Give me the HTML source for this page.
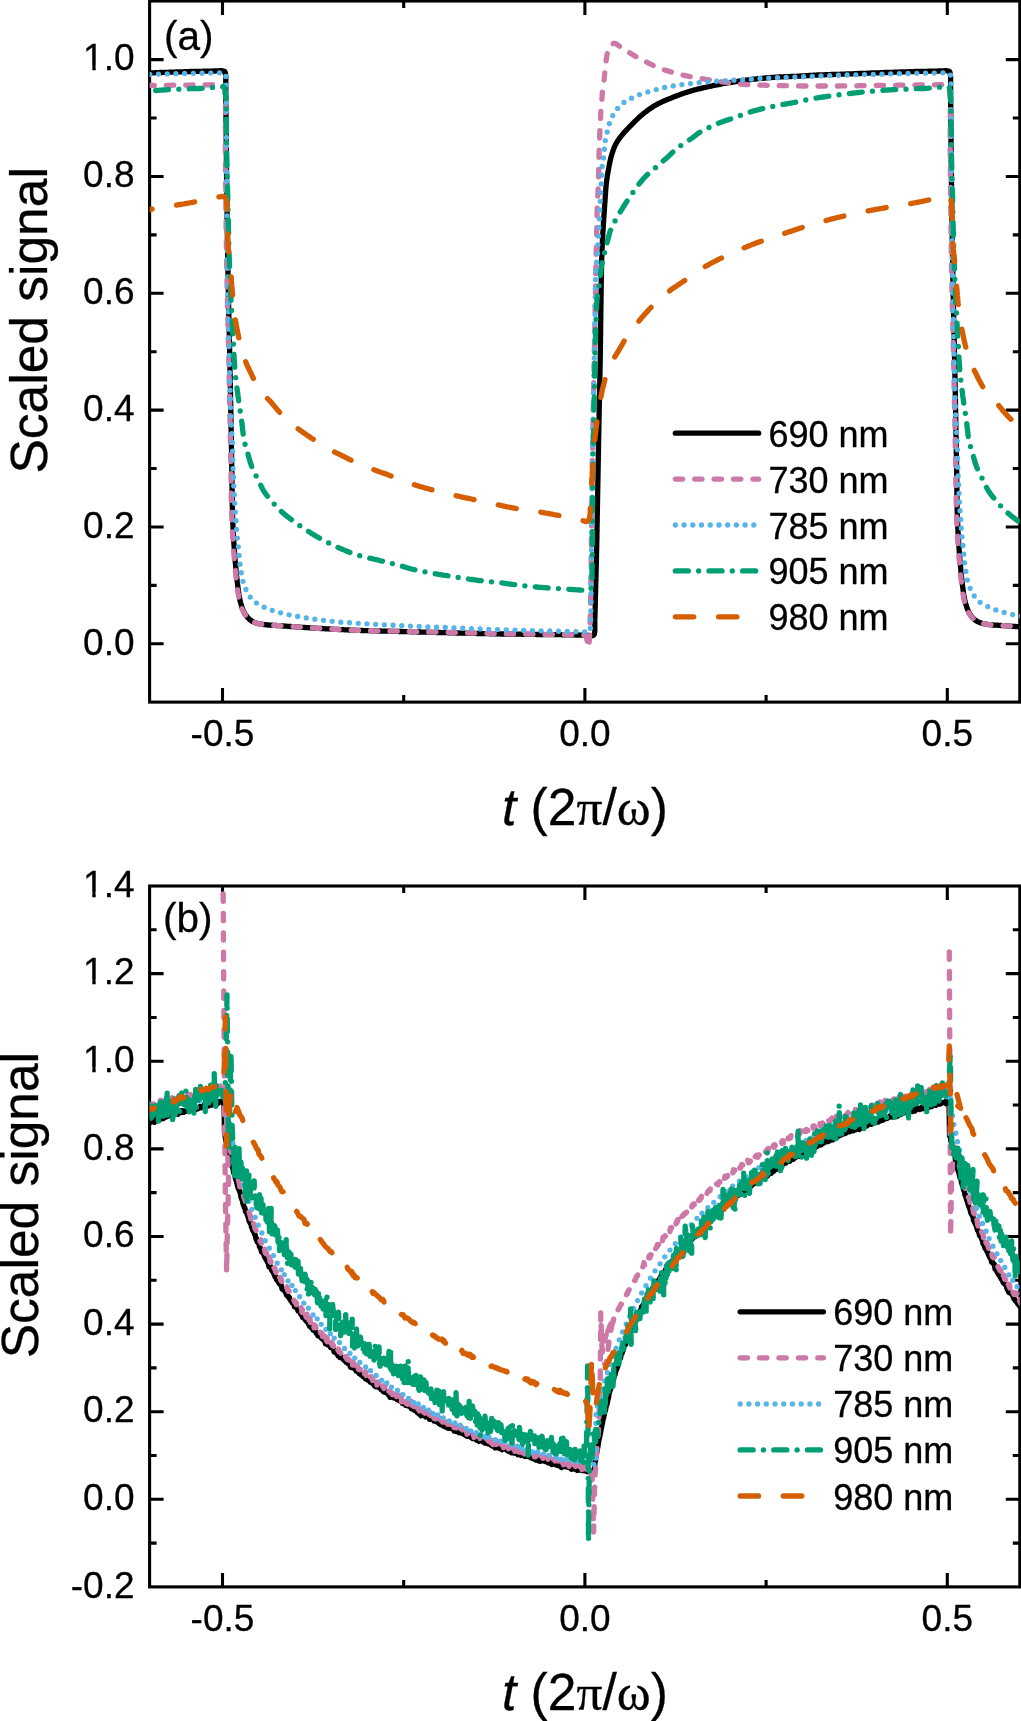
<!DOCTYPE html>
<html><head><meta charset="utf-8"><style>html,body{margin:0;padding:0;background:#fff;overflow:hidden}svg{display:block;will-change:transform}</style></head>
<body><svg width="1021" height="1721" viewBox="0 0 1021 1721">
<rect width="1021" height="1721" fill="#fff"/>
<rect x="149.6" y="1.0" width="870.20" height="701.10" fill="none" stroke="#000" stroke-width="3.1"/>
<path d="M149.6,643.80h14.0M1019.8,643.80h-14.0M149.6,526.96h14.0M1019.8,526.96h-14.0M149.6,410.12h14.0M1019.8,410.12h-14.0M149.6,293.28h14.0M1019.8,293.28h-14.0M149.6,176.44h14.0M1019.8,176.44h-14.0M149.6,59.60h14.0M1019.8,59.60h-14.0M149.6,585.38h7.0M1019.8,585.38h-7.0M149.6,468.54h7.0M1019.8,468.54h-7.0M149.6,351.70h7.0M1019.8,351.70h-7.0M149.6,234.86h7.0M1019.8,234.86h-7.0M149.6,118.02h7.0M1019.8,118.02h-7.0M222.50,702.1v-14.0M222.50,1.0v14.0M584.90,702.1v-14.0M584.90,1.0v14.0M947.30,702.1v-14.0M947.30,1.0v14.0M403.70,702.1v-7.0M403.70,1.0v7.0M766.10,702.1v-7.0M766.10,1.0v7.0" stroke="#000" stroke-width="3.1" fill="none"/>
<text x="134.5" y="654.60" text-anchor="end" font-family="'Liberation Sans', sans-serif" stroke="#000" stroke-width="0.3" font-size="37">0.0</text>
<text x="134.5" y="537.76" text-anchor="end" font-family="'Liberation Sans', sans-serif" stroke="#000" stroke-width="0.3" font-size="37">0.2</text>
<text x="134.5" y="420.92" text-anchor="end" font-family="'Liberation Sans', sans-serif" stroke="#000" stroke-width="0.3" font-size="37">0.4</text>
<text x="134.5" y="304.08" text-anchor="end" font-family="'Liberation Sans', sans-serif" stroke="#000" stroke-width="0.3" font-size="37">0.6</text>
<text x="134.5" y="187.24" text-anchor="end" font-family="'Liberation Sans', sans-serif" stroke="#000" stroke-width="0.3" font-size="37">0.8</text>
<text x="134.5" y="70.40" text-anchor="end" font-family="'Liberation Sans', sans-serif" stroke="#000" stroke-width="0.3" font-size="37">1.0</text>
<path d="M84.15,65.40H92.31V72.00H84.15Z M95.69,65.40H102.22V72.00H95.69Z" fill="#fff"/>
<text x="222.50" y="745.60" text-anchor="middle" font-family="'Liberation Sans', sans-serif" stroke="#000" stroke-width="0.3" font-size="37">-0.5</text>
<text x="584.90" y="745.60" text-anchor="middle" font-family="'Liberation Sans', sans-serif" stroke="#000" stroke-width="0.3" font-size="37">0.0</text>
<text x="947.30" y="745.60" text-anchor="middle" font-family="'Liberation Sans', sans-serif" stroke="#000" stroke-width="0.3" font-size="37">0.5</text>
<rect x="149.6" y="886.0" width="870.20" height="700.90" fill="none" stroke="#000" stroke-width="3.1"/>
<path d="M149.6,1499.30h14.0M1019.8,1499.30h-14.0M149.6,1411.69h14.0M1019.8,1411.69h-14.0M149.6,1324.08h14.0M1019.8,1324.08h-14.0M149.6,1236.46h14.0M1019.8,1236.46h-14.0M149.6,1148.85h14.0M1019.8,1148.85h-14.0M149.6,1061.24h14.0M1019.8,1061.24h-14.0M149.6,973.63h14.0M1019.8,973.63h-14.0M149.6,1543.11h7.0M1019.8,1543.11h-7.0M149.6,1455.49h7.0M1019.8,1455.49h-7.0M149.6,1367.88h7.0M1019.8,1367.88h-7.0M149.6,1280.27h7.0M1019.8,1280.27h-7.0M149.6,1192.66h7.0M1019.8,1192.66h-7.0M149.6,1105.05h7.0M1019.8,1105.05h-7.0M149.6,1017.43h7.0M1019.8,1017.43h-7.0M149.6,929.82h7.0M1019.8,929.82h-7.0M222.50,1586.9v-14.0M222.50,886.0v14.0M584.90,1586.9v-14.0M584.90,886.0v14.0M947.30,1586.9v-14.0M947.30,886.0v14.0M403.70,1586.9v-7.0M403.70,886.0v7.0M766.10,1586.9v-7.0M766.10,886.0v7.0" stroke="#000" stroke-width="3.1" fill="none"/>
<text x="134.5" y="1597.71" text-anchor="end" font-family="'Liberation Sans', sans-serif" stroke="#000" stroke-width="0.3" font-size="37">-0.2</text>
<text x="134.5" y="1510.10" text-anchor="end" font-family="'Liberation Sans', sans-serif" stroke="#000" stroke-width="0.3" font-size="37">0.0</text>
<text x="134.5" y="1422.49" text-anchor="end" font-family="'Liberation Sans', sans-serif" stroke="#000" stroke-width="0.3" font-size="37">0.2</text>
<text x="134.5" y="1334.88" text-anchor="end" font-family="'Liberation Sans', sans-serif" stroke="#000" stroke-width="0.3" font-size="37">0.4</text>
<text x="134.5" y="1247.26" text-anchor="end" font-family="'Liberation Sans', sans-serif" stroke="#000" stroke-width="0.3" font-size="37">0.6</text>
<text x="134.5" y="1159.65" text-anchor="end" font-family="'Liberation Sans', sans-serif" stroke="#000" stroke-width="0.3" font-size="37">0.8</text>
<text x="134.5" y="1072.04" text-anchor="end" font-family="'Liberation Sans', sans-serif" stroke="#000" stroke-width="0.3" font-size="37">1.0</text>
<path d="M84.15,1067.04H92.31V1073.64H84.15Z M95.69,1067.04H102.22V1073.64H95.69Z" fill="#fff"/>
<text x="134.5" y="984.43" text-anchor="end" font-family="'Liberation Sans', sans-serif" stroke="#000" stroke-width="0.3" font-size="37">1.2</text>
<path d="M84.15,979.43H92.31V986.03H84.15Z M95.69,979.43H102.22V986.03H95.69Z" fill="#fff"/>
<text x="134.5" y="896.82" text-anchor="end" font-family="'Liberation Sans', sans-serif" stroke="#000" stroke-width="0.3" font-size="37">1.4</text>
<path d="M84.15,891.82H92.31V898.42H84.15Z M95.69,891.82H102.22V898.42H95.69Z" fill="#fff"/>
<text x="222.50" y="1630.90" text-anchor="middle" font-family="'Liberation Sans', sans-serif" stroke="#000" stroke-width="0.3" font-size="37">-0.5</text>
<text x="584.90" y="1630.90" text-anchor="middle" font-family="'Liberation Sans', sans-serif" stroke="#000" stroke-width="0.3" font-size="37">0.0</text>
<text x="947.30" y="1630.90" text-anchor="middle" font-family="'Liberation Sans', sans-serif" stroke="#000" stroke-width="0.3" font-size="37">0.5</text>
<text x="163.9" y="49.6" font-family="'Liberation Sans', sans-serif" stroke="#000" stroke-width="0.3" font-size="40.5">(a)</text>
<text x="163.0" y="931.8" font-family="'Liberation Sans', sans-serif" stroke="#000" stroke-width="0.3" font-size="40.5">(b)</text>
<text transform="translate(47.3,473.5) rotate(-90)" font-family="'Liberation Sans', sans-serif" stroke="#000" stroke-width="0.3" font-size="51.5">Scaled signal</text>
<text transform="translate(38.0,1358.3) rotate(-90)" font-family="'Liberation Sans', sans-serif" stroke="#000" stroke-width="0.3" font-size="51.5">Scaled signal</text>
<text x="584.9" y="825.3" text-anchor="middle" font-family="'Liberation Sans', sans-serif" stroke="#000" stroke-width="0.3" font-size="51.5"><tspan font-style="italic">t</tspan> (2<tspan font-family="Liberation Serif, serif">π</tspan>/<tspan font-family="Liberation Serif, serif">ω</tspan>)</text>
<text x="584.9" y="1709.9" text-anchor="middle" font-family="'Liberation Sans', sans-serif" stroke="#000" stroke-width="0.3" font-size="51.5"><tspan font-style="italic">t</tspan> (2<tspan font-family="Liberation Serif, serif">π</tspan>/<tspan font-family="Liberation Serif, serif">ω</tspan>)</text>
<path d="M675.35,433.20H758.65" stroke="#000000" stroke-width="5.3" stroke-linecap="round" fill="none"/>
<text x="768.40" y="446.70" font-family="'Liberation Sans', sans-serif" stroke="#000" stroke-width="0.3" font-size="36">690 nm</text>
<path d="M675.35,479.10H758.65" stroke="#CC79A7" stroke-width="5.3" stroke-linecap="round" fill="none" stroke-dasharray="7.3 12.1"/>
<text x="768.40" y="492.60" font-family="'Liberation Sans', sans-serif" stroke="#000" stroke-width="0.3" font-size="36">730 nm</text>
<path d="M675.35,525.00H758.65" stroke="#56B4E9" stroke-width="5.3" stroke-linecap="round" fill="none" stroke-dasharray="0 8.72"/>
<text x="768.40" y="538.50" font-family="'Liberation Sans', sans-serif" stroke="#000" stroke-width="0.3" font-size="36">785 nm</text>
<path d="M675.35,570.90H758.65" stroke="#009E73" stroke-width="5.3" stroke-linecap="round" fill="none" stroke-dasharray="13 10.3 0 10.35"/>
<text x="768.40" y="584.40" font-family="'Liberation Sans', sans-serif" stroke="#000" stroke-width="0.3" font-size="36">905 nm</text>
<path d="M675.35,616.80H758.65" stroke="#D55E00" stroke-width="5.3" stroke-linecap="round" fill="none" stroke-dasharray="18.4 24.8"/>
<text x="768.40" y="630.30" font-family="'Liberation Sans', sans-serif" stroke="#000" stroke-width="0.3" font-size="36">980 nm</text>
<path d="M740.15,1311.80H823.45" stroke="#000000" stroke-width="5.3" stroke-linecap="round" fill="none"/>
<text x="833.20" y="1325.30" font-family="'Liberation Sans', sans-serif" stroke="#000" stroke-width="0.3" font-size="36">690 nm</text>
<path d="M740.15,1357.85H823.45" stroke="#CC79A7" stroke-width="5.3" stroke-linecap="round" fill="none" stroke-dasharray="7.3 12.1"/>
<text x="833.20" y="1371.35" font-family="'Liberation Sans', sans-serif" stroke="#000" stroke-width="0.3" font-size="36">730 nm</text>
<path d="M740.15,1403.90H823.45" stroke="#56B4E9" stroke-width="5.3" stroke-linecap="round" fill="none" stroke-dasharray="0 8.72"/>
<text x="833.20" y="1417.40" font-family="'Liberation Sans', sans-serif" stroke="#000" stroke-width="0.3" font-size="36">785 nm</text>
<path d="M740.15,1449.95H823.45" stroke="#009E73" stroke-width="5.3" stroke-linecap="round" fill="none" stroke-dasharray="13 10.3 0 10.35"/>
<text x="833.20" y="1463.45" font-family="'Liberation Sans', sans-serif" stroke="#000" stroke-width="0.3" font-size="36">905 nm</text>
<path d="M740.15,1496.00H823.45" stroke="#D55E00" stroke-width="5.3" stroke-linecap="round" fill="none" stroke-dasharray="18.4 24.8"/>
<text x="833.20" y="1509.50" font-family="'Liberation Sans', sans-serif" stroke="#000" stroke-width="0.3" font-size="36">980 nm</text>
<defs><clipPath id="ca"><rect x="149.6" y="1.0" width="870.2" height="701.1"/></clipPath><clipPath id="cb"><rect x="149.6" y="886.0" width="870.2" height="700.9"/></clipPath></defs>
<g clip-path="url(#ca)">
<path d="M88.8,75.2 90.3,75.1 91.7,75.1 93.2,75.0 94.6,75.0 96.1,74.9 97.5,74.9 99.0,74.8 100.4,74.8 101.9,74.7 103.3,74.7 104.8,74.6 106.2,74.6 107.7,74.5 109.1,74.5 110.6,74.4 112.0,74.4 113.5,74.3 114.9,74.3 116.4,74.2 117.8,74.2 119.3,74.1 120.7,74.1 122.2,74.0 123.7,73.9 125.1,73.9 126.6,73.8 128.0,73.8 129.5,73.7 130.9,73.7 132.4,73.6 133.8,73.5 135.3,73.5 136.7,73.4 138.2,73.4 139.6,73.3 141.1,73.3 142.5,73.2 144.0,73.1 145.4,73.1 146.9,73.0 148.3,73.0 149.8,72.9 151.2,72.9 152.7,72.8 154.1,72.8 155.6,72.7 157.1,72.6 158.6,72.6 160.1,72.5 161.6,72.5 163.2,72.4 164.8,72.4 166.3,72.3 167.9,72.3 169.5,72.2 171.1,72.2 172.7,72.1 174.2,72.1 175.7,72.0 177.2,72.0 178.7,71.9 180.2,71.9 181.6,71.8 182.9,71.8 184.3,71.7 185.5,71.7 186.8,71.7 187.9,71.6 189.0,71.6 190.8,71.5 192.7,71.5 194.5,71.4 196.2,71.4 197.7,71.4 198.9,71.3 199.7,71.3 200.0,71.3 200.0,71.3 200.0,71.3 200.3,71.3 201.0,71.3 202.1,71.3 203.5,71.2 205.1,71.2 206.8,71.2 208.7,71.1 210.5,71.1 212.2,71.1 213.7,71.0 215.0,71.0 216.5,70.9 217.9,70.9 219.2,70.8 220.4,70.7 221.5,70.7 222.5,70.8 223.8,71.0 224.8,71.6 225.2,72.4 225.4,73.6 225.6,75.0 225.7,75.9 225.8,76.9 225.8,78.0 225.8,79.2 225.8,80.5 225.8,81.9 225.8,83.4 225.8,84.9 225.8,86.5 225.8,88.2 225.8,90.0 225.8,91.0 225.8,92.0 225.8,93.1 225.8,94.2 225.9,95.4 225.9,96.6 225.9,97.8 225.9,99.0 225.9,100.3 225.9,101.7 225.9,103.0 225.9,104.4 225.9,105.8 225.9,107.2 226.0,108.6 226.0,110.1 226.0,111.6 226.0,113.1 226.0,114.6 226.0,116.2 226.0,117.7 226.0,119.3 226.0,120.9 226.1,122.5 226.1,124.1 226.1,125.7 226.1,127.3 226.1,129.0 226.1,130.6 226.1,132.2 226.2,133.9 226.2,135.5 226.2,137.1 226.2,138.8 226.2,140.4 226.2,142.0 226.2,143.6 226.3,145.2 226.3,146.8 226.3,148.4 226.3,150.0 226.3,151.4 226.3,152.8 226.3,154.2 226.4,155.6 226.4,157.0 226.4,158.4 226.4,159.9 226.4,161.3 226.4,162.8 226.5,164.3 226.5,165.7 226.5,167.2 226.5,168.7 226.5,170.2 226.5,171.7 226.6,173.2 226.6,174.7 226.6,176.2 226.6,177.8 226.6,179.3 226.6,180.8 226.7,182.3 226.7,183.9 226.7,185.4 226.7,186.9 226.7,188.5 226.8,190.0 226.8,191.5 226.8,193.1 226.8,194.6 226.8,196.1 226.9,197.7 226.9,199.2 226.9,200.7 226.9,202.2 226.9,203.8 227.0,205.3 227.0,206.8 227.0,208.3 227.0,209.8 227.0,211.3 227.1,212.8 227.1,214.3 227.1,215.7 227.1,217.2 227.1,218.7 227.2,220.1 227.2,221.6 227.2,223.0 227.2,224.4 227.2,225.8 227.3,227.2 227.3,228.6 227.3,230.0 227.3,231.6 227.3,233.1 227.4,234.7 227.4,236.2 227.4,237.7 227.4,239.3 227.5,240.8 227.5,242.3 227.5,243.8 227.5,245.3 227.6,246.8 227.6,248.3 227.6,249.8 227.6,251.2 227.6,252.7 227.7,254.2 227.7,255.6 227.7,257.1 227.7,258.5 227.8,260.0 227.8,261.4 227.8,262.9 227.8,264.3 227.9,265.7 227.9,267.2 227.9,268.6 227.9,270.0 228.0,271.5 228.0,272.9 228.0,274.3 228.0,275.7 228.1,277.2 228.1,278.6 228.1,280.0 228.1,281.4 228.2,282.9 228.2,284.3 228.2,285.7 228.2,287.1 228.3,288.6 228.3,290.0 228.3,291.5 228.4,293.0 228.4,294.5 228.4,296.0 228.5,297.6 228.5,299.1 228.5,300.6 228.5,302.1 228.6,303.5 228.6,305.0 228.6,306.5 228.7,308.0 228.7,309.5 228.7,311.0 228.8,312.5 228.8,314.0 228.8,315.4 228.9,316.9 228.9,318.4 228.9,319.9 229.0,321.3 229.0,322.8 229.0,324.3 229.1,325.8 229.1,327.2 229.1,328.7 229.2,330.2 229.2,331.7 229.2,333.2 229.3,334.6 229.3,336.1 229.3,337.6 229.4,339.1 229.4,340.5 229.4,342.0 229.5,343.5 229.5,345.0 229.5,346.5 229.6,348.0 229.6,349.5 229.6,351.0 229.7,352.5 229.7,354.0 229.7,355.5 229.7,357.1 229.8,358.6 229.8,360.1 229.8,361.6 229.9,363.1 229.9,364.7 229.9,366.2 230.0,367.7 230.0,369.2 230.0,370.8 230.1,372.3 230.1,373.8 230.1,375.3 230.2,376.8 230.2,378.3 230.2,379.8 230.2,381.3 230.3,382.8 230.3,384.3 230.3,385.8 230.4,387.2 230.4,388.7 230.4,390.1 230.4,391.6 230.5,393.0 230.5,394.4 230.5,395.8 230.5,397.2 230.6,398.6 230.6,400.0 230.6,401.6 230.7,403.2 230.7,404.7 230.7,406.3 230.7,407.8 230.8,409.4 230.8,410.9 230.8,412.4 230.9,413.9 230.9,415.4 230.9,416.9 230.9,418.4 231.0,419.8 231.0,421.3 231.0,422.8 231.0,424.2 231.1,425.7 231.1,427.1 231.1,428.5 231.1,430.0 231.2,431.4 231.2,432.8 231.2,434.3 231.2,435.7 231.3,437.1 231.3,438.6 231.3,440.0 231.3,441.5 231.4,443.0 231.4,444.5 231.4,446.0 231.4,447.4 231.5,448.9 231.5,450.4 231.5,451.8 231.5,453.3 231.6,454.7 231.6,456.2 231.6,457.6 231.6,459.0 231.7,460.5 231.7,461.9 231.7,463.4 231.7,464.8 231.8,466.2 231.8,467.7 231.8,469.1 231.8,470.6 231.9,472.0 231.9,473.4 231.9,474.9 231.9,476.4 231.9,477.8 232.0,479.3 232.0,480.7 232.0,482.2 232.0,483.7 232.0,485.1 232.0,486.6 232.1,488.1 232.1,489.6 232.1,491.0 232.1,492.5 232.1,494.0 232.1,495.4 232.2,496.9 232.2,498.3 232.2,499.8 232.2,501.2 232.2,502.7 232.3,504.1 232.3,505.5 232.3,506.9 232.4,508.3 232.4,509.7 232.4,511.2 232.5,512.7 232.5,514.2 232.6,515.7 232.6,517.2 232.7,518.7 232.7,520.2 232.8,521.7 232.9,523.2 232.9,524.6 233.0,526.1 233.0,527.5 233.1,529.0 233.2,530.4 233.2,531.8 233.3,533.2 233.4,534.6 233.4,536.0 233.5,537.4 233.6,538.8 233.7,540.3 233.8,541.8 233.9,543.3 234.0,544.8 234.1,546.2 234.2,547.7 234.3,549.1 234.4,550.6 234.5,552.0 234.6,553.4 234.7,554.8 234.8,556.3 234.9,557.7 235.1,559.1 235.2,560.6 235.3,562.0 235.4,563.5 235.6,564.9 235.7,566.4 235.8,567.9 236.0,569.4 236.1,570.9 236.2,572.4 236.4,573.9 236.5,575.3 236.7,576.8 236.9,578.3 237.0,579.7 237.2,581.1 237.3,582.6 237.5,583.9 237.7,585.3 237.9,586.9 238.1,588.4 238.3,589.9 238.5,591.4 238.7,592.9 238.9,594.4 239.2,595.9 239.4,597.3 239.7,598.7 239.9,600.1 240.3,601.4 240.6,602.7 241.0,604.1 241.4,605.5 241.9,606.9 242.3,608.3 242.8,609.6 243.3,610.8 243.9,612.0 244.5,613.2 245.2,614.3 246.0,615.5 246.9,616.6 247.9,617.7 248.9,618.8 249.9,619.7 251.1,620.5 252.2,621.3 253.4,621.9 254.6,622.5 255.9,622.9 257.3,623.3 258.6,623.6 260.0,623.9 261.5,624.2 262.7,624.4 264.0,624.6 265.4,624.7 266.7,624.9 268.1,625.0 269.5,625.1 270.9,625.1 272.3,625.2 273.6,625.3 275.0,625.4 276.4,625.5 277.8,625.6 279.2,625.7 280.5,625.8 281.9,625.9 283.4,626.0 284.8,626.1 286.4,626.2 288.1,626.3 289.3,626.4 290.5,626.5 291.8,626.6 293.2,626.7 294.5,626.8 295.9,626.9 297.4,627.0 298.8,627.1 300.3,627.2 301.8,627.3 303.3,627.4 304.9,627.5 306.4,627.6 308.0,627.7 309.6,627.8 311.2,627.9 312.7,628.0 314.3,628.1 315.9,628.2 317.5,628.3 318.9,628.4 320.2,628.5 321.6,628.5 323.0,628.6 324.4,628.7 325.8,628.8 327.3,628.9 328.7,628.9 330.1,629.0 331.6,629.1 333.1,629.2 334.5,629.3 336.0,629.3 337.5,629.4 339.0,629.5 340.5,629.6 341.9,629.6 343.4,629.7 344.9,629.8 346.4,629.9 347.9,629.9 349.4,630.0 350.8,630.1 352.3,630.1 353.8,630.2 355.2,630.2 356.7,630.3 358.1,630.4 359.6,630.4 361.0,630.5 362.4,630.5 363.9,630.6 365.3,630.6 366.7,630.6 368.1,630.7 369.5,630.7 370.9,630.8 372.4,630.8 373.8,630.8 375.2,630.9 376.6,630.9 378.0,631.0 379.5,631.0 380.9,631.0 382.4,631.1 383.8,631.1 385.3,631.1 386.8,631.2 388.3,631.2 389.8,631.2 391.3,631.3 392.8,631.3 394.3,631.4 395.9,631.4 397.3,631.4 398.6,631.5 400.0,631.5 401.4,631.5 402.8,631.6 404.2,631.6 405.6,631.7 407.1,631.7 408.5,631.7 410.0,631.8 411.5,631.8 412.9,631.9 414.4,631.9 415.9,631.9 417.4,632.0 418.9,632.0 420.4,632.0 421.9,632.1 423.4,632.1 424.9,632.2 426.4,632.2 427.9,632.2 429.4,632.3 430.9,632.3 432.4,632.4 433.9,632.4 435.4,632.4 436.9,632.5 438.4,632.5 439.9,632.5 441.3,632.6 442.8,632.6 444.3,632.7 445.7,632.7 447.1,632.7 448.6,632.8 450.0,632.8 451.5,632.8 453.1,632.9 454.6,632.9 456.1,633.0 457.6,633.0 459.2,633.0 460.7,633.1 462.2,633.1 463.7,633.1 465.2,633.2 466.7,633.2 468.2,633.2 469.7,633.3 471.2,633.3 472.7,633.4 474.2,633.4 475.7,633.4 477.2,633.5 478.7,633.5 480.2,633.5 481.6,633.6 483.1,633.6 484.6,633.6 486.0,633.7 487.5,633.7 489.0,633.7 490.4,633.8 491.9,633.8 493.4,633.8 494.8,633.8 496.3,633.9 497.7,633.9 499.2,633.9 500.7,634.0 502.2,634.0 503.7,634.0 505.1,634.0 506.6,634.1 508.1,634.1 509.5,634.1 511.0,634.1 512.4,634.1 513.9,634.2 515.3,634.2 516.8,634.2 518.2,634.2 519.7,634.2 521.1,634.2 522.6,634.3 524.0,634.3 525.5,634.3 526.9,634.3 528.3,634.3 529.8,634.4 531.2,634.4 532.7,634.4 534.1,634.4 535.6,634.4 537.1,634.5 538.5,634.5 540.0,634.5 541.5,634.5 543.0,634.5 544.5,634.6 546.1,634.6 547.7,634.6 549.3,634.6 550.9,634.6 552.6,634.7 554.3,634.7 555.9,634.7 557.6,634.7 559.2,634.7 560.9,634.7 562.5,634.8 564.2,634.8 565.8,634.8 567.4,634.8 568.9,634.8 570.4,634.9 571.9,634.9 573.4,634.9 574.8,634.9 576.1,635.0 577.4,635.0 578.7,635.0 579.9,635.1 581.0,635.1 582.0,635.1 583.0,635.2 583.9,635.2 585.6,635.3 587.1,635.5 588.4,635.7 589.5,635.8 590.6,635.9 591.5,635.8 592.9,635.6 594.0,634.8 594.4,634.1 594.6,633.0 594.8,631.8 594.8,630.4 594.9,628.8 594.8,627.1 594.8,625.4 594.8,623.6 594.8,621.8 594.8,620.0 594.8,618.8 594.9,617.6 594.9,616.3 595.0,615.0 595.0,613.7 595.1,612.3 595.1,610.9 595.1,609.5 595.2,608.1 595.2,606.7 595.2,605.2 595.3,603.7 595.3,602.2 595.3,600.7 595.4,599.2 595.4,597.7 595.4,596.1 595.5,594.6 595.5,593.1 595.6,591.5 595.6,590.0 595.6,588.6 595.7,587.2 595.7,585.9 595.7,584.5 595.8,583.1 595.8,581.7 595.9,580.3 595.9,578.9 595.9,577.5 596.0,576.1 596.0,574.7 596.0,573.2 596.1,571.8 596.1,570.3 596.2,568.9 596.2,567.4 596.2,565.9 596.3,564.4 596.3,562.8 596.3,561.3 596.4,559.7 596.4,558.2 596.5,556.6 596.5,555.0 596.5,553.3 596.6,551.7 596.6,550.0 596.6,548.7 596.7,547.4 596.7,546.1 596.7,544.7 596.7,543.4 596.8,542.0 596.8,540.6 596.8,539.2 596.9,537.7 596.9,536.3 596.9,534.8 596.9,533.4 597.0,531.9 597.0,530.4 597.0,528.9 597.0,527.4 597.1,525.9 597.1,524.4 597.1,522.8 597.2,521.3 597.2,519.8 597.2,518.2 597.2,516.7 597.3,515.1 597.3,513.5 597.3,512.0 597.4,510.4 597.4,508.9 597.4,507.3 597.4,505.7 597.5,504.2 597.5,502.6 597.5,501.1 597.5,499.5 597.6,498.0 597.6,496.4 597.6,494.9 597.7,493.4 597.7,491.8 597.7,490.3 597.7,488.8 597.8,487.3 597.8,485.8 597.8,484.4 597.8,482.9 597.9,481.4 597.9,480.0 597.9,478.5 598.0,477.0 598.0,475.5 598.0,474.0 598.0,472.5 598.1,471.0 598.1,469.5 598.1,468.0 598.1,466.5 598.2,465.0 598.2,463.6 598.2,462.1 598.3,460.6 598.3,459.2 598.3,457.7 598.3,456.3 598.4,454.8 598.4,453.3 598.4,451.9 598.4,450.4 598.5,449.0 598.5,447.5 598.5,446.1 598.5,444.6 598.6,443.2 598.6,441.8 598.6,440.3 598.6,438.9 598.7,437.4 598.7,436.0 598.7,434.5 598.8,433.1 598.8,431.6 598.8,430.2 598.8,428.7 598.9,427.3 598.9,425.8 598.9,424.4 598.9,422.9 599.0,421.5 599.0,420.0 599.0,418.5 599.1,417.1 599.1,415.6 599.1,414.1 599.1,412.7 599.2,411.2 599.2,409.8 599.2,408.3 599.3,406.8 599.3,405.4 599.3,403.9 599.4,402.4 599.4,401.0 599.4,399.5 599.4,398.0 599.5,396.6 599.5,395.1 599.5,393.7 599.6,392.2 599.6,390.7 599.6,389.3 599.7,387.8 599.7,386.3 599.7,384.9 599.8,383.4 599.8,382.0 599.8,380.5 599.8,379.0 599.9,377.6 599.9,376.1 599.9,374.6 600.0,373.2 600.0,371.7 600.0,370.2 600.0,368.8 600.1,367.3 600.1,365.9 600.1,364.4 600.2,362.9 600.2,361.5 600.2,360.0 600.2,358.5 600.2,357.1 600.3,355.6 600.3,354.1 600.3,352.6 600.3,351.1 600.4,349.6 600.4,348.1 600.4,346.6 600.4,345.1 600.4,343.6 600.5,342.1 600.5,340.6 600.5,339.0 600.5,337.5 600.5,336.0 600.6,334.5 600.6,333.0 600.6,331.5 600.6,330.0 600.6,328.5 600.6,327.0 600.7,325.5 600.7,324.0 600.7,322.5 600.7,321.1 600.7,319.6 600.8,318.1 600.8,316.7 600.8,315.2 600.8,313.8 600.8,312.4 600.8,310.9 600.9,309.5 600.9,308.1 600.9,306.7 600.9,305.4 600.9,304.0 601.0,302.7 601.0,301.3 601.0,300.0 601.0,298.4 601.0,296.8 601.1,295.2 601.1,293.6 601.1,292.0 601.1,290.5 601.2,288.9 601.2,287.4 601.2,285.8 601.2,284.3 601.2,282.8 601.3,281.3 601.3,279.9 601.3,278.4 601.3,276.9 601.4,275.5 601.4,274.0 601.4,272.6 601.4,271.2 601.5,269.8 601.5,268.3 601.5,266.9 601.5,265.5 601.6,264.1 601.6,262.8 601.7,261.4 601.7,260.0 601.7,258.4 601.8,256.8 601.9,255.3 601.9,253.7 602.0,252.2 602.0,250.7 602.1,249.2 602.1,247.7 602.2,246.2 602.3,244.8 602.3,243.3 602.4,241.8 602.5,240.4 602.5,238.9 602.6,237.5 602.7,236.0 602.8,234.6 602.8,233.1 602.9,231.7 603.0,230.2 603.1,228.7 603.2,227.2 603.3,225.7 603.4,224.2 603.5,222.6 603.6,221.1 603.7,219.6 603.8,218.1 603.9,216.6 604.0,215.1 604.1,213.6 604.2,212.1 604.3,210.7 604.4,209.2 604.5,207.8 604.6,206.4 604.7,205.0 604.8,203.6 604.9,202.3 605.0,200.7 605.1,199.2 605.2,197.7 605.3,196.2 605.4,194.7 605.5,193.3 605.6,191.9 605.7,190.4 605.8,189.1 605.9,187.7 606.0,186.3 606.2,185.0 606.3,183.7 606.5,182.1 606.7,180.6 606.9,179.1 607.1,177.7 607.3,176.3 607.5,174.8 607.8,173.4 608.0,172.0 608.3,170.5 608.5,169.1 608.8,167.7 609.0,166.3 609.3,164.9 609.6,163.5 609.9,162.1 610.2,160.6 610.5,159.2 610.8,157.9 611.2,156.5 611.6,155.2 612.0,153.8 612.4,152.5 612.9,151.2 613.3,149.9 613.8,148.6 614.3,147.3 614.8,146.1 615.4,144.9 616.0,143.7 616.7,142.4 617.5,141.2 618.2,140.0 619.1,138.9 619.9,137.8 620.8,136.6 621.7,135.5 622.6,134.4 623.5,133.3 624.4,132.2 625.4,131.2 626.4,130.1 627.4,129.0 628.4,128.0 629.4,126.9 630.5,125.8 631.5,124.8 632.5,123.7 633.6,122.7 634.6,121.7 635.6,120.6 636.7,119.6 637.8,118.6 638.9,117.5 640.0,116.5 641.2,115.5 642.3,114.6 643.3,113.7 644.4,112.9 645.6,112.0 646.7,111.1 647.9,110.2 649.1,109.3 650.3,108.5 651.5,107.7 652.8,106.8 654.0,106.1 655.3,105.3 656.6,104.6 657.8,103.9 659.2,103.2 660.5,102.6 661.9,101.9 663.2,101.3 664.6,100.7 666.0,100.1 667.4,99.5 668.8,99.0 670.1,98.4 671.5,97.9 672.9,97.3 674.2,96.8 675.6,96.2 676.9,95.7 678.3,95.2 679.6,94.7 681.0,94.2 682.3,93.7 683.7,93.3 685.1,92.8 686.4,92.4 687.8,91.9 689.1,91.5 690.5,91.1 691.9,90.7 693.2,90.3 694.6,89.9 695.9,89.6 697.3,89.2 698.6,88.9 700.0,88.6 701.4,88.3 702.7,87.9 704.1,87.6 705.5,87.3 706.8,87.0 708.2,86.7 709.7,86.4 711.1,86.1 712.6,85.7 714.1,85.4 715.5,85.1 717.0,84.8 718.5,84.6 719.9,84.3 721.4,84.0 722.9,83.7 724.3,83.5 725.8,83.2 727.3,83.0 728.7,82.7 730.2,82.5 731.7,82.3 733.1,82.0 734.6,81.8 736.1,81.6 737.5,81.4 739.0,81.2 740.5,81.0 741.9,80.8 743.4,80.6 744.9,80.4 746.3,80.2 747.8,80.0 749.3,79.8 750.7,79.6 752.2,79.4 753.7,79.2 755.1,79.1 756.6,78.9 758.1,78.7 759.5,78.6 761.0,78.4 762.5,78.3 763.9,78.1 765.4,78.0 766.9,77.9 768.3,77.7 769.8,77.6 771.3,77.5 772.7,77.4 774.2,77.3 775.7,77.2 777.2,77.1 778.7,77.0 780.2,76.9 781.7,76.8 783.2,76.8 784.7,76.7 786.2,76.7 787.7,76.6 789.2,76.6 790.8,76.5 792.3,76.4 793.8,76.4 795.2,76.3 796.7,76.3 798.1,76.2 799.6,76.1 800.9,76.0 802.3,75.9 803.6,75.8 804.9,75.8 806.3,75.7 807.6,75.6 809.0,75.5 810.4,75.4 812.0,75.3 813.6,75.2 814.8,75.1 816.0,75.1 817.3,75.0 818.7,75.0 820.0,74.9 821.4,74.9 822.8,74.8 824.3,74.8 825.8,74.7 827.2,74.7 828.7,74.6 830.3,74.6 831.8,74.5 833.3,74.5 834.9,74.4 836.4,74.4 838.0,74.3 839.5,74.3 841.0,74.2 842.5,74.2 844.1,74.1 845.5,74.1 847.0,74.0 848.5,73.9 849.9,73.9 851.4,73.8 852.8,73.8 854.3,73.7 855.7,73.7 857.2,73.6 858.6,73.5 860.1,73.5 861.5,73.4 863.0,73.4 864.4,73.3 865.9,73.3 867.3,73.2 868.8,73.1 870.2,73.1 871.7,73.0 873.1,73.0 874.6,72.9 876.0,72.9 877.5,72.8 878.9,72.8 880.4,72.7 881.9,72.6 883.4,72.6 884.9,72.5 886.4,72.5 888.0,72.4 889.6,72.4 891.1,72.3 892.7,72.3 894.3,72.2 895.9,72.2 897.5,72.1 899.0,72.1 900.5,72.0 902.0,72.0 903.5,71.9 905.0,71.9 906.4,71.8 907.7,71.8 909.1,71.7 910.3,71.7 911.6,71.7 912.7,71.6 913.8,71.6 915.6,71.5 917.5,71.5 919.3,71.4 921.0,71.4 922.5,71.4 923.7,71.3 924.5,71.3 924.8,71.3 924.8,71.3 924.8,71.3 925.1,71.3 925.8,71.3 926.9,71.3 928.3,71.2 929.9,71.2 931.6,71.2 933.5,71.1 935.3,71.1 937.0,71.1 938.5,71.0 939.8,71.0 941.3,70.9 942.7,70.9 944.0,70.8 945.2,70.7 946.3,70.7 947.3,70.8 948.6,71.0 949.6,71.6 950.0,72.4 950.2,73.6 950.4,75.0 950.5,75.9 950.6,76.9 950.6,78.0 950.6,79.2 950.6,80.5 950.6,81.9 950.6,83.4 950.6,84.9 950.6,86.5 950.6,88.2 950.6,90.0 950.6,91.0 950.6,92.0 950.6,93.1 950.6,94.2 950.7,95.4 950.7,96.6 950.7,97.8 950.7,99.0 950.7,100.3 950.7,101.7 950.7,103.0 950.7,104.4 950.7,105.8 950.7,107.2 950.8,108.6 950.8,110.1 950.8,111.6 950.8,113.1 950.8,114.6 950.8,116.2 950.8,117.7 950.8,119.3 950.8,120.9 950.9,122.5 950.9,124.1 950.9,125.7 950.9,127.3 950.9,129.0 950.9,130.6 950.9,132.2 951.0,133.9 951.0,135.5 951.0,137.1 951.0,138.8 951.0,140.4 951.0,142.0 951.0,143.6 951.1,145.2 951.1,146.8 951.1,148.4 951.1,150.0 951.1,151.4 951.1,152.8 951.1,154.2 951.2,155.6 951.2,157.0 951.2,158.4 951.2,159.9 951.2,161.3 951.2,162.8 951.3,164.3 951.3,165.7 951.3,167.2 951.3,168.7 951.3,170.2 951.3,171.7 951.4,173.2 951.4,174.7 951.4,176.2 951.4,177.8 951.4,179.3 951.4,180.8 951.5,182.3 951.5,183.9 951.5,185.4 951.5,186.9 951.5,188.5 951.6,190.0 951.6,191.5 951.6,193.1 951.6,194.6 951.6,196.1 951.7,197.7 951.7,199.2 951.7,200.7 951.7,202.2 951.7,203.8 951.8,205.3 951.8,206.8 951.8,208.3 951.8,209.8 951.8,211.3 951.9,212.8 951.9,214.3 951.9,215.7 951.9,217.2 951.9,218.7 952.0,220.1 952.0,221.6 952.0,223.0 952.0,224.4 952.0,225.8 952.1,227.2 952.1,228.6 952.1,230.0 952.1,231.6 952.1,233.1 952.2,234.7 952.2,236.2 952.2,237.7 952.2,239.3 952.3,240.8 952.3,242.3 952.3,243.8 952.3,245.3 952.4,246.8 952.4,248.3 952.4,249.8 952.4,251.2 952.4,252.7 952.5,254.2 952.5,255.6 952.5,257.1 952.5,258.5 952.6,260.0 952.6,261.4 952.6,262.9 952.6,264.3 952.7,265.7 952.7,267.2 952.7,268.6 952.7,270.0 952.8,271.5 952.8,272.9 952.8,274.3 952.8,275.7 952.9,277.2 952.9,278.6 952.9,280.0 952.9,281.4 953.0,282.9 953.0,284.3 953.0,285.7 953.0,287.1 953.1,288.6 953.1,290.0 953.1,291.5 953.2,293.0 953.2,294.5 953.2,296.0 953.3,297.6 953.3,299.1 953.3,300.6 953.3,302.1 953.4,303.5 953.4,305.0 953.4,306.5 953.5,308.0 953.5,309.5 953.5,311.0 953.6,312.5 953.6,314.0 953.6,315.4 953.7,316.9 953.7,318.4 953.7,319.9 953.8,321.3 953.8,322.8 953.8,324.3 953.9,325.8 953.9,327.2 953.9,328.7 954.0,330.2 954.0,331.7 954.0,333.2 954.1,334.6 954.1,336.1 954.1,337.6 954.2,339.1 954.2,340.5 954.2,342.0 954.3,343.5 954.3,345.0 954.3,346.5 954.4,348.0 954.4,349.5 954.4,351.0 954.5,352.5 954.5,354.0 954.5,355.5 954.5,357.1 954.6,358.6 954.6,360.1 954.6,361.6 954.7,363.1 954.7,364.7 954.7,366.2 954.8,367.7 954.8,369.2 954.8,370.8 954.9,372.3 954.9,373.8 954.9,375.3 955.0,376.8 955.0,378.3 955.0,379.8 955.0,381.3 955.1,382.8 955.1,384.3 955.1,385.8 955.2,387.2 955.2,388.7 955.2,390.1 955.2,391.6 955.3,393.0 955.3,394.4 955.3,395.8 955.3,397.2 955.4,398.6 955.4,400.0 955.4,401.6 955.5,403.2 955.5,404.7 955.5,406.3 955.5,407.8 955.6,409.4 955.6,410.9 955.6,412.4 955.7,413.9 955.7,415.4 955.7,416.9 955.7,418.4 955.8,419.8 955.8,421.3 955.8,422.8 955.8,424.2 955.9,425.7 955.9,427.1 955.9,428.5 955.9,430.0 956.0,431.4 956.0,432.8 956.0,434.3 956.0,435.7 956.1,437.1 956.1,438.6 956.1,440.0 956.1,441.5 956.2,443.0 956.2,444.5 956.2,446.0 956.2,447.4 956.3,448.9 956.3,450.4 956.3,451.8 956.3,453.3 956.4,454.7 956.4,456.2 956.4,457.6 956.4,459.0 956.5,460.5 956.5,461.9 956.5,463.4 956.5,464.8 956.6,466.2 956.6,467.7 956.6,469.1 956.6,470.6 956.7,472.0 956.7,473.4 956.7,474.9 956.7,476.4 956.7,477.8 956.8,479.3 956.8,480.7 956.8,482.2 956.8,483.7 956.8,485.1 956.8,486.6 956.9,488.1 956.9,489.6 956.9,491.0 956.9,492.5 956.9,494.0 956.9,495.4 957.0,496.9 957.0,498.3 957.0,499.8 957.0,501.2 957.0,502.7 957.1,504.1 957.1,505.5 957.1,506.9 957.2,508.3 957.2,509.7 957.2,511.2 957.3,512.7 957.3,514.2 957.4,515.7 957.4,517.2 957.5,518.7 957.5,520.2 957.6,521.7 957.7,523.2 957.7,524.6 957.8,526.1 957.8,527.5 957.9,529.0 958.0,530.4 958.0,531.8 958.1,533.2 958.2,534.6 958.2,536.0 958.3,537.4 958.4,538.8 958.5,540.3 958.6,541.8 958.7,543.3 958.8,544.8 958.9,546.2 959.0,547.7 959.1,549.1 959.2,550.6 959.3,552.0 959.4,553.4 959.5,554.8 959.6,556.3 959.7,557.7 959.9,559.1 960.0,560.6 960.1,562.0 960.2,563.5 960.4,564.9 960.5,566.4 960.6,567.9 960.8,569.4 960.9,570.9 961.0,572.4 961.2,573.9 961.3,575.3 961.5,576.8 961.7,578.3 961.8,579.7 962.0,581.1 962.1,582.6 962.3,583.9 962.5,585.3 962.7,586.9 962.9,588.4 963.1,589.9 963.3,591.4 963.5,592.9 963.7,594.4 964.0,595.9 964.2,597.3 964.5,598.7 964.7,600.1 965.1,601.4 965.4,602.7 965.8,604.1 966.2,605.5 966.7,606.9 967.1,608.3 967.6,609.6 968.1,610.8 968.7,612.0 969.3,613.2 970.0,614.3 970.8,615.5 971.7,616.6 972.7,617.7 973.7,618.8 974.7,619.7 975.9,620.5 977.0,621.3 978.2,621.9 979.4,622.5 980.7,622.9 982.1,623.3 983.4,623.6 984.8,623.9 986.3,624.2 987.5,624.4 988.8,624.6 990.2,624.7 991.5,624.9 992.9,625.0 994.3,625.1 995.7,625.1 997.1,625.2 998.4,625.3 999.8,625.4 1001.2,625.5 1002.6,625.6 1004.0,625.7 1005.3,625.8 1006.7,625.9 1008.2,626.0 1009.6,626.1 1011.2,626.2 1012.9,626.3 1014.1,626.4 1015.3,626.5 1016.6,626.6 1018.0,626.7 1019.3,626.8 1020.7,626.9 1022.2,627.0 1023.6,627.1 1025.1,627.2 1026.6,627.3 1028.1,627.4 1029.7,627.5 1031.2,627.6 1032.8,627.7 1034.4,627.8 1036.0,627.9 1037.5,628.0 1039.1,628.1 1040.7,628.2 1042.3,628.3 1043.7,628.4 1045.0,628.5 1046.4,628.5 1047.8,628.6 1049.2,628.7 1050.6,628.8 1052.1,628.8 1053.5,628.9 1054.9,629.0 1056.4,629.1 1057.9,629.1 1059.3,629.2 1060.8,629.3 1062.3,629.4 1063.8,629.4 1065.3,629.5 1066.7,629.6 1068.2,629.6 1069.7,629.7 1071.2,629.8 1072.7,629.9 1074.2,629.9 1075.6,630.0 1077.1,630.1 1078.6,630.2 1080.0,630.2 1081.5,630.3" stroke="#000000" stroke-width="5.3" stroke-linecap="round" stroke-linejoin="round" fill="none"/>
<path d="M88.8,86.0 90.3,86.0 91.7,86.0 93.2,86.0 94.6,86.0 96.1,86.0 97.5,86.0 99.0,86.0 100.4,86.0 101.9,86.0 103.3,86.0 104.8,86.0 106.2,86.0 107.7,86.0 109.1,86.0 110.6,86.0 112.0,86.0 113.5,86.0 114.9,85.9 116.4,85.9 117.8,85.9 119.3,85.9 120.7,85.9 122.2,85.9 123.7,85.9 125.1,85.9 126.6,85.9 128.0,85.8 129.5,85.8 130.9,85.8 132.4,85.8 133.8,85.7 135.3,85.7 136.7,85.7 138.2,85.7 139.6,85.6 141.1,85.6 142.5,85.6 144.0,85.6 145.4,85.6 146.9,85.5 148.3,85.5 149.8,85.5 151.2,85.5 152.7,85.4 154.1,85.4 155.6,85.4 157.1,85.4 158.6,85.4 160.1,85.4 161.6,85.3 163.2,85.3 164.8,85.3 166.3,85.3 167.9,85.3 169.5,85.3 171.1,85.3 172.7,85.2 174.2,85.2 175.7,85.2 177.2,85.2 178.7,85.2 180.2,85.2 181.6,85.2 182.9,85.2 184.3,85.2 185.5,85.1 186.8,85.1 187.9,85.1 189.0,85.1 190.8,85.1 192.7,85.0 194.5,85.0 196.2,85.0 197.7,84.9 198.9,84.9 199.7,84.9 200.0,84.9 200.0,84.9 200.0,84.9 200.3,84.9 201.0,84.9 202.1,84.9 203.5,84.9 205.1,84.8 206.9,84.8 208.7,84.8 210.5,84.8 212.2,84.7 213.8,84.7 215.0,84.7 216.5,84.6 218.0,84.5 219.3,84.4 220.5,84.4 221.5,84.5 222.7,84.8 223.6,85.5 224.1,86.2 224.4,87.2 224.6,88.4 224.8,90.0 224.9,90.7 225.0,91.4 225.0,92.2 225.1,93.1 225.1,94.0 225.2,95.0 225.2,96.1 225.3,97.2 225.3,98.4 225.3,99.7 225.4,100.9 225.4,102.3 225.4,103.7 225.4,105.1 225.4,106.5 225.5,108.0 225.5,109.6 225.5,111.1 225.5,112.7 225.5,114.4 225.5,116.0 225.5,117.7 225.4,119.4 225.4,121.1 225.4,122.8 225.4,124.5 225.4,126.2 225.4,128.0 225.4,129.7 225.4,131.5 225.4,133.2 225.4,135.0 225.4,136.7 225.4,138.4 225.4,140.1 225.4,141.8 225.4,143.5 225.4,145.2 225.4,146.8 225.4,148.4 225.4,150.0 225.4,151.4 225.4,152.8 225.4,154.2 225.5,155.6 225.5,157.0 225.5,158.4 225.5,159.9 225.5,161.3 225.5,162.8 225.5,164.3 225.5,165.7 225.6,167.2 225.6,168.7 225.6,170.2 225.6,171.7 225.6,173.2 225.6,174.7 225.6,176.2 225.7,177.8 225.7,179.3 225.7,180.8 225.7,182.3 225.7,183.9 225.7,185.4 225.7,186.9 225.8,188.5 225.8,190.0 225.8,191.5 225.8,193.1 225.8,194.6 225.8,196.1 225.8,197.7 225.9,199.2 225.9,200.7 225.9,202.2 225.9,203.8 225.9,205.3 225.9,206.8 225.9,208.3 226.0,209.8 226.0,211.3 226.0,212.8 226.0,214.3 226.0,215.7 226.0,217.2 226.1,218.7 226.1,220.1 226.1,221.6 226.1,223.0 226.1,224.4 226.1,225.8 226.2,227.2 226.2,228.6 226.2,230.0 226.2,231.6 226.2,233.1 226.3,234.7 226.3,236.2 226.3,237.7 226.3,239.3 226.3,240.8 226.4,242.3 226.4,243.8 226.4,245.3 226.4,246.8 226.5,248.3 226.5,249.8 226.5,251.2 226.5,252.7 226.6,254.2 226.6,255.6 226.6,257.1 226.6,258.5 226.6,260.0 226.7,261.4 226.7,262.9 226.7,264.3 226.7,265.7 226.8,267.2 226.8,268.6 226.8,270.0 226.8,271.5 226.9,272.9 226.9,274.3 226.9,275.7 227.0,277.2 227.0,278.6 227.0,280.0 227.0,281.4 227.1,282.9 227.1,284.3 227.1,285.7 227.1,287.1 227.2,288.6 227.2,290.0 227.2,291.5 227.3,293.0 227.3,294.5 227.3,296.0 227.4,297.6 227.4,299.1 227.4,300.6 227.5,302.1 227.5,303.5 227.5,305.0 227.6,306.5 227.6,308.0 227.6,309.5 227.7,311.0 227.7,312.5 227.7,314.0 227.8,315.4 227.8,316.9 227.9,318.4 227.9,319.9 227.9,321.3 228.0,322.8 228.0,324.3 228.0,325.8 228.1,327.2 228.1,328.7 228.2,330.2 228.2,331.7 228.2,333.2 228.3,334.6 228.3,336.1 228.3,337.6 228.4,339.1 228.4,340.5 228.4,342.0 228.5,343.5 228.5,345.0 228.5,346.5 228.6,348.0 228.6,349.5 228.6,351.0 228.7,352.5 228.7,354.0 228.7,355.5 228.8,357.1 228.8,358.6 228.8,360.1 228.8,361.6 228.9,363.1 228.9,364.7 228.9,366.2 229.0,367.7 229.0,369.2 229.0,370.8 229.1,372.3 229.1,373.8 229.1,375.3 229.1,376.8 229.2,378.3 229.2,379.8 229.2,381.3 229.3,382.8 229.3,384.3 229.3,385.8 229.3,387.2 229.4,388.7 229.4,390.1 229.4,391.6 229.5,393.0 229.5,394.4 229.5,395.8 229.5,397.2 229.6,398.6 229.6,400.0 229.6,401.6 229.7,403.2 229.7,404.7 229.7,406.3 229.8,407.8 229.8,409.4 229.8,410.9 229.9,412.4 229.9,413.9 229.9,415.4 229.9,416.9 230.0,418.4 230.0,419.8 230.0,421.3 230.1,422.8 230.1,424.2 230.1,425.7 230.2,427.1 230.2,428.5 230.2,430.0 230.2,431.4 230.3,432.8 230.3,434.3 230.3,435.7 230.3,437.1 230.4,438.6 230.4,440.0 230.4,441.5 230.5,443.0 230.5,444.5 230.5,446.0 230.5,447.4 230.6,448.9 230.6,450.4 230.6,451.8 230.6,453.3 230.7,454.7 230.7,456.2 230.7,457.6 230.7,459.0 230.8,460.5 230.8,461.9 230.8,463.4 230.8,464.8 230.9,466.2 230.9,467.7 230.9,469.1 230.9,470.6 231.0,472.0 231.0,473.4 231.0,474.9 231.0,476.4 231.0,477.8 231.1,479.3 231.1,480.7 231.1,482.2 231.1,483.7 231.2,485.1 231.2,486.6 231.2,488.1 231.2,489.6 231.2,491.0 231.3,492.5 231.3,494.0 231.3,495.4 231.3,496.9 231.3,498.3 231.4,499.8 231.4,501.2 231.4,502.7 231.5,504.1 231.5,505.5 231.5,506.9 231.6,508.3 231.6,509.7 231.6,511.2 231.7,512.7 231.7,514.2 231.8,515.7 231.8,517.2 231.9,518.7 231.9,520.2 232.0,521.7 232.0,523.2 232.1,524.6 232.2,526.1 232.2,527.5 232.3,529.0 232.4,530.4 232.4,531.8 232.5,533.2 232.6,534.6 232.6,536.0 232.7,537.4 232.8,538.8 232.9,540.3 233.0,541.8 233.1,543.3 233.2,544.8 233.3,546.2 233.4,547.7 233.5,549.1 233.6,550.6 233.7,552.0 233.9,553.4 234.0,554.8 234.1,556.3 234.2,557.7 234.3,559.1 234.5,560.6 234.6,562.0 234.7,563.5 234.9,564.9 235.0,566.4 235.1,567.9 235.3,569.4 235.4,570.9 235.5,572.4 235.7,573.9 235.8,575.3 236.0,576.8 236.1,578.3 236.3,579.7 236.5,581.1 236.6,582.6 236.8,583.9 237.0,585.3 237.2,586.9 237.4,588.4 237.6,589.9 237.8,591.4 238.0,592.9 238.3,594.4 238.5,595.9 238.8,597.3 239.0,598.7 239.3,600.1 239.6,601.4 240.0,602.7 240.4,604.1 240.9,605.5 241.3,606.9 241.8,608.3 242.3,609.6 242.9,610.8 243.5,612.0 244.1,613.2 244.8,614.3 245.7,615.5 246.6,616.7 247.6,617.7 248.6,618.8 249.7,619.7 250.8,620.5 252.0,621.3 253.2,621.9 254.5,622.5 255.8,622.9 257.2,623.3 258.6,623.6 260.0,623.9 261.5,624.2 262.7,624.4 264.0,624.6 265.4,624.7 266.7,624.9 268.1,625.0 269.5,625.1 270.9,625.1 272.3,625.2 273.6,625.3 275.0,625.4 276.4,625.5 277.8,625.6 279.2,625.7 280.5,625.8 281.9,625.9 283.4,626.0 284.8,626.1 286.4,626.2 288.1,626.3 289.3,626.4 290.5,626.5 291.8,626.6 293.2,626.7 294.5,626.8 295.9,626.9 297.4,627.0 298.8,627.1 300.3,627.2 301.8,627.3 303.3,627.4 304.9,627.5 306.4,627.6 308.0,627.7 309.6,627.8 311.2,627.9 312.7,628.0 314.3,628.1 315.9,628.2 317.5,628.3 318.9,628.4 320.2,628.5 321.6,628.5 323.0,628.6 324.4,628.7 325.8,628.8 327.3,628.9 328.7,629.0 330.1,629.0 331.6,629.1 333.1,629.2 334.5,629.3 336.0,629.4 337.5,629.4 339.0,629.5 340.5,629.6 341.9,629.7 343.4,629.7 344.9,629.8 346.4,629.9 347.9,629.9 349.4,630.0 350.8,630.1 352.3,630.1 353.8,630.2 355.2,630.2 356.7,630.3 358.1,630.4 359.6,630.4 361.0,630.4 362.4,630.5 363.9,630.5 365.3,630.6 366.7,630.6 368.1,630.6 369.5,630.7 370.9,630.7 372.4,630.7 373.8,630.8 375.2,630.8 376.6,630.8 378.0,630.8 379.5,630.9 380.9,630.9 382.4,630.9 383.8,631.0 385.3,631.0 386.8,631.0 388.3,631.0 389.8,631.1 391.3,631.1 392.8,631.1 394.3,631.2 395.9,631.2 397.3,631.2 398.6,631.3 400.0,631.3 401.4,631.3 402.8,631.4 404.2,631.4 405.6,631.4 407.1,631.5 408.5,631.5 410.0,631.5 411.5,631.6 412.9,631.6 414.4,631.6 415.9,631.7 417.4,631.7 418.9,631.7 420.4,631.8 421.9,631.8 423.4,631.9 424.9,631.9 426.4,631.9 427.9,632.0 429.4,632.0 430.9,632.0 432.4,632.1 433.9,632.1 435.4,632.1 436.9,632.2 438.4,632.2 439.9,632.3 441.3,632.3 442.8,632.3 444.3,632.4 445.7,632.4 447.1,632.4 448.6,632.5 450.0,632.5 451.5,632.5 453.1,632.6 454.6,632.6 456.1,632.7 457.6,632.7 459.2,632.7 460.7,632.8 462.2,632.8 463.7,632.9 465.2,632.9 466.7,632.9 468.2,633.0 469.7,633.0 471.2,633.1 472.7,633.1 474.2,633.1 475.7,633.2 477.2,633.2 478.7,633.3 480.2,633.3 481.6,633.3 483.1,633.4 484.6,633.4 486.0,633.4 487.5,633.5 489.0,633.5 490.4,633.5 491.9,633.6 493.4,633.6 494.8,633.6 496.3,633.7 497.7,633.7 499.2,633.7 500.7,633.8 502.2,633.8 503.7,633.8 505.2,633.8 506.6,633.9 508.1,633.9 509.6,633.9 511.1,633.9 512.5,633.9 514.0,634.0 515.4,634.0 516.9,634.0 518.4,634.0 519.8,634.0 521.3,634.1 522.7,634.1 524.2,634.1 525.6,634.1 527.0,634.1 528.5,634.1 529.9,634.2 531.4,634.2 532.8,634.2 534.2,634.2 535.7,634.2 537.1,634.3 538.6,634.3 540.0,634.3 541.5,634.3 543.1,634.3 544.7,634.4 546.3,634.4 548.0,634.4 549.7,634.4 551.4,634.4 553.1,634.4 554.8,634.4 556.5,634.4 558.2,634.4 559.9,634.4 561.5,634.5 563.2,634.5 564.8,634.5 566.4,634.5 567.9,634.5 569.4,634.5 570.9,634.6 572.3,634.6 573.6,634.6 574.9,634.7 576.1,634.7 577.2,634.8 578.2,634.9 579.2,634.9 580.0,635.0 581.8,635.1 583.3,635.1 584.5,635.3 585.5,636.0 586.2,637.0 586.7,638.6 587.1,640.5 587.4,642.5 587.6,644.4 587.8,646.0 588.1,647.1 588.3,647.5 588.5,647.2 588.7,646.3 588.9,645.1 589.1,643.5 589.2,641.7 589.4,639.7 589.5,637.8 589.6,636.0 589.7,634.8 589.8,633.6 589.8,632.4 589.9,631.1 589.9,629.8 590.0,628.4 590.0,627.0 590.1,625.6 590.1,624.2 590.1,622.7 590.2,621.2 590.2,619.7 590.2,618.1 590.3,616.5 590.3,614.9 590.3,613.3 590.4,611.7 590.4,610.0 590.4,608.8 590.5,607.5 590.5,606.2 590.5,604.9 590.5,603.6 590.6,602.3 590.6,601.0 590.6,599.6 590.6,598.2 590.7,596.8 590.7,595.4 590.7,594.0 590.7,592.6 590.8,591.1 590.8,589.7 590.8,588.2 590.8,586.7 590.8,585.3 590.9,583.7 590.9,582.2 590.9,580.7 590.9,579.2 591.0,577.6 591.0,576.1 591.0,574.5 591.0,572.9 591.0,571.3 591.1,569.7 591.1,568.1 591.1,566.5 591.1,564.9 591.2,563.3 591.2,561.6 591.2,560.0 591.2,558.7 591.2,557.4 591.3,556.0 591.3,554.7 591.3,553.3 591.3,551.9 591.3,550.5 591.3,549.2 591.4,547.7 591.4,546.3 591.4,544.9 591.4,543.5 591.4,542.0 591.4,540.6 591.4,539.1 591.5,537.7 591.5,536.2 591.5,534.7 591.5,533.2 591.5,531.7 591.5,530.2 591.6,528.7 591.6,527.2 591.6,525.7 591.6,524.2 591.6,522.7 591.6,521.2 591.6,519.6 591.7,518.1 591.7,516.6 591.7,515.0 591.7,513.5 591.7,512.0 591.7,510.4 591.8,508.9 591.8,507.4 591.8,505.8 591.8,504.3 591.8,502.7 591.8,501.2 591.9,499.7 591.9,498.1 591.9,496.6 591.9,495.1 591.9,493.5 591.9,492.0 592.0,490.5 592.0,489.0 592.0,487.5 592.0,486.0 592.0,484.5 592.1,483.0 592.1,481.5 592.1,480.0 592.1,478.5 592.1,477.0 592.2,475.6 592.2,474.1 592.2,472.6 592.2,471.1 592.3,469.6 592.3,468.1 592.3,466.7 592.3,465.2 592.4,463.7 592.4,462.2 592.4,460.7 592.4,459.3 592.4,457.8 592.5,456.3 592.5,454.8 592.5,453.3 592.6,451.9 592.6,450.4 592.6,448.9 592.6,447.4 592.7,445.9 592.7,444.4 592.7,443.0 592.7,441.5 592.8,440.0 592.8,438.5 592.8,437.0 592.8,435.6 592.9,434.1 592.9,432.6 592.9,431.1 593.0,429.6 593.0,428.1 593.0,426.7 593.0,425.2 593.1,423.7 593.1,422.2 593.1,420.7 593.1,419.3 593.2,417.8 593.2,416.3 593.2,414.8 593.3,413.3 593.3,411.9 593.3,410.4 593.3,408.9 593.4,407.4 593.4,405.9 593.4,404.4 593.4,403.0 593.5,401.5 593.5,400.0 593.5,398.5 593.6,397.0 593.6,395.5 593.6,394.0 593.6,392.5 593.7,391.0 593.7,389.5 593.7,388.0 593.7,386.5 593.8,385.0 593.8,383.5 593.8,382.0 593.9,380.5 593.9,379.0 593.9,377.5 593.9,375.9 594.0,374.4 594.0,372.9 594.0,371.4 594.1,369.9 594.1,368.4 594.1,366.8 594.2,365.3 594.2,363.8 594.2,362.3 594.2,360.8 594.3,359.3 594.3,357.8 594.3,356.3 594.4,354.8 594.4,353.3 594.4,351.8 594.4,350.3 594.5,348.8 594.5,347.3 594.5,345.8 594.6,344.3 594.6,342.9 594.6,341.4 594.6,339.9 594.7,338.5 594.7,337.0 594.7,335.6 594.7,334.1 594.8,332.7 594.8,331.2 594.8,329.8 594.8,328.4 594.9,327.0 594.9,325.6 594.9,324.2 595.0,322.8 595.0,321.4 595.0,320.0 595.0,318.4 595.1,316.8 595.1,315.3 595.1,313.7 595.1,312.0 595.2,310.4 595.2,308.8 595.2,307.2 595.2,305.6 595.3,304.0 595.3,302.4 595.3,300.7 595.3,299.1 595.4,297.5 595.4,295.9 595.4,294.3 595.4,292.7 595.5,291.2 595.5,289.6 595.5,288.0 595.5,286.5 595.6,284.9 595.6,283.4 595.6,281.9 595.6,280.4 595.7,279.0 595.7,277.5 595.7,276.1 595.7,274.7 595.7,273.3 595.8,272.0 595.8,270.6 595.8,269.3 595.8,268.1 595.9,266.8 595.9,265.6 595.9,264.4 595.9,263.3 596.0,262.1 596.0,261.1 596.0,260.0 596.0,258.2 596.1,256.5 596.1,255.0 596.2,253.6 596.2,252.2 596.2,250.9 596.3,249.6 596.3,248.3 596.4,246.9 596.4,245.5 596.5,243.9 596.5,242.2 596.5,241.0 596.6,239.7 596.6,238.4 596.6,237.0 596.6,235.6 596.7,234.1 596.7,232.6 596.7,231.1 596.8,229.5 596.8,227.9 596.8,226.3 596.9,224.7 596.9,223.1 596.9,221.5 596.9,219.9 597.0,218.3 597.0,216.7 597.0,215.1 597.1,213.5 597.1,212.0 597.2,210.5 597.2,209.0 597.2,207.6 597.3,206.2 597.3,204.8 597.4,203.5 597.4,202.3 597.5,200.6 597.5,199.1 597.6,197.5 597.7,196.1 597.8,194.7 597.9,193.3 598.0,191.9 598.0,190.6 598.1,189.2 598.2,187.9 598.3,186.5 598.3,185.1 598.4,183.7 598.4,182.3 598.5,180.9 598.5,179.5 598.6,178.1 598.6,176.7 598.6,175.3 598.6,173.9 598.7,172.5 598.7,171.1 598.7,169.7 598.7,168.3 598.7,166.9 598.8,165.5 598.8,164.1 598.8,162.7 598.9,161.3 598.9,159.9 598.9,158.5 599.0,157.1 599.0,155.7 599.0,154.3 599.1,153.0 599.1,151.6 599.1,150.2 599.2,148.8 599.2,147.4 599.3,146.0 599.3,144.6 599.4,143.2 599.4,141.8 599.5,140.4 599.5,139.0 599.6,137.6 599.7,136.2 599.7,134.8 599.8,133.4 599.9,132.0 599.9,130.6 600.0,129.3 600.1,127.9 600.1,126.5 600.2,125.1 600.3,123.6 600.3,122.1 600.4,120.5 600.5,119.0 600.6,117.4 600.6,115.8 600.7,114.3 600.8,112.8 600.9,111.4 601.0,110.0 601.0,108.7 601.1,107.5 601.2,106.4 601.3,104.7 601.5,103.4 601.6,102.1 601.8,100.5 601.9,99.3 602.0,98.1 602.1,96.7 602.2,95.2 602.3,93.7 602.4,92.2 602.5,90.8 602.7,89.4 602.8,88.1 602.9,87.0 603.1,85.6 603.3,84.4 603.6,83.1 603.8,81.7 603.9,80.6 604.1,79.3 604.2,77.9 604.4,76.5 604.5,75.0 604.7,73.5 604.8,72.0 605.0,70.5 605.1,69.0 605.3,67.6 605.5,66.1 605.6,64.6 605.8,63.1 606.0,61.6 606.2,60.1 606.4,58.6 606.6,57.3 606.8,55.9 607.0,54.7 607.3,53.2 607.6,51.8 607.9,50.5 608.3,49.3 608.8,48.2 609.4,47.1 610.0,46.2 610.7,45.3 611.5,44.6 612.5,43.9 613.7,43.4 614.8,43.3 615.9,43.7 617.1,44.5 618.2,45.3 619.4,46.1 620.5,47.0 621.8,47.9 622.9,48.6 624.1,49.4 625.4,50.2 626.7,51.0 628.0,51.8 629.2,52.5 630.3,53.2 631.5,54.0 632.8,54.7 634.1,55.5 635.4,56.3 636.7,57.0 637.9,57.7 639.2,58.3 640.5,59.0 641.8,59.7 643.1,60.3 644.4,61.0 645.7,61.6 647.0,62.3 648.2,62.9 649.5,63.6 650.8,64.2 652.0,64.9 653.2,65.5 654.4,66.1 655.7,66.7 657.0,67.3 658.3,67.8 659.6,68.3 660.9,68.8 662.2,69.2 663.6,69.6 664.9,70.1 666.3,70.5 667.6,70.9 668.9,71.3 670.3,71.7 671.6,72.1 672.9,72.5 674.3,72.8 675.6,73.2 676.9,73.6 678.2,73.9 679.6,74.3 681.0,74.6 682.4,75.0 683.8,75.3 685.1,75.6 686.5,75.9 687.9,76.2 689.3,76.5 690.7,76.7 692.0,77.0 693.4,77.2 694.8,77.4 696.2,77.7 697.6,77.9 698.9,78.1 700.2,78.4 701.5,78.6 702.9,78.8 704.2,79.0 705.5,79.3 706.9,79.5 708.2,79.7 709.5,79.9 710.8,80.1 712.1,80.4 713.4,80.6 714.8,80.8 716.1,81.0 717.4,81.2 718.7,81.4 720.0,81.6 721.3,81.8 722.7,81.9 724.0,82.1 725.3,82.2 726.6,82.4 728.0,82.5 729.3,82.7 730.6,82.9 731.9,83.1 733.2,83.2 734.4,83.4 735.7,83.6 737.1,83.8 738.4,84.0 739.9,84.1 741.2,84.2 742.6,84.3 744.0,84.4 745.4,84.5 746.9,84.6 748.4,84.6 749.9,84.7 751.5,84.8 753.0,84.8 754.5,84.9 756.0,84.9 757.5,85.0 759.0,85.1 760.4,85.1 761.9,85.2 763.3,85.2 764.7,85.2 766.2,85.3 767.7,85.3 769.1,85.4 770.6,85.4 772.1,85.4 773.6,85.5 775.1,85.5 776.5,85.5 777.8,85.6 779.2,85.6 780.7,85.6 782.1,85.7 783.5,85.7 785.0,85.7 786.4,85.7 787.9,85.8 789.3,85.8 790.7,85.8 792.2,85.8 793.6,85.9 794.9,85.9 796.3,85.9 797.8,85.9 799.2,85.9 800.6,85.9 802.0,86.0 803.3,86.0 804.7,86.0 806.1,86.0 807.5,86.0 808.9,86.0 810.4,86.0 812.0,86.0 813.6,86.0 814.8,86.0 816.1,86.0 817.4,86.0 818.8,86.0 820.1,86.0 821.5,86.0 823.0,86.0 824.4,86.0 825.9,86.0 827.4,86.0 828.9,86.0 830.4,86.0 831.9,86.0 833.4,86.0 835.0,86.0 836.5,86.0 838.0,86.0 839.5,86.0 841.1,85.9 842.6,85.9 844.1,85.9 845.5,85.9 847.0,85.9 848.5,85.9 849.9,85.9 851.4,85.9 852.8,85.8 854.3,85.8 855.7,85.8 857.2,85.8 858.6,85.7 860.1,85.7 861.5,85.7 863.0,85.7 864.4,85.6 865.9,85.6 867.3,85.6 868.8,85.6 870.2,85.6 871.7,85.5 873.1,85.5 874.6,85.5 876.0,85.5 877.5,85.4 878.9,85.4 880.4,85.4 881.9,85.4 883.4,85.4 884.9,85.4 886.4,85.3 888.0,85.3 889.6,85.3 891.1,85.3 892.7,85.3 894.3,85.3 895.9,85.3 897.5,85.2 899.0,85.2 900.5,85.2 902.0,85.2 903.5,85.2 905.0,85.2 906.4,85.2 907.7,85.2 909.1,85.2 910.3,85.1 911.6,85.1 912.7,85.1 913.8,85.1 915.6,85.1 917.5,85.0 919.3,85.0 921.0,85.0 922.5,84.9 923.7,84.9 924.5,84.9 924.8,84.9 924.8,84.9 924.8,84.9 925.1,84.9 925.8,84.9 926.9,84.9 928.3,84.9 929.9,84.8 931.7,84.8 933.5,84.8 935.3,84.8 937.0,84.7 938.6,84.7 939.8,84.7 941.3,84.6 942.8,84.5 944.1,84.4 945.3,84.4 946.3,84.5 947.5,84.8 948.4,85.5 948.9,86.2 949.2,87.2 949.4,88.4 949.6,90.0 949.7,90.7 949.8,91.4 949.8,92.2 949.9,93.1 949.9,94.0 950.0,95.0 950.0,96.1 950.1,97.2 950.1,98.4 950.1,99.7 950.2,100.9 950.2,102.3 950.2,103.7 950.2,105.1 950.2,106.5 950.3,108.0 950.3,109.6 950.3,111.1 950.3,112.7 950.3,114.4 950.3,116.0 950.3,117.7 950.2,119.4 950.2,121.1 950.2,122.8 950.2,124.5 950.2,126.2 950.2,128.0 950.2,129.7 950.2,131.5 950.2,133.2 950.2,135.0 950.2,136.7 950.2,138.4 950.2,140.1 950.2,141.8 950.2,143.5 950.2,145.2 950.2,146.8 950.2,148.4 950.2,150.0 950.2,151.4 950.2,152.8 950.2,154.2 950.3,155.6 950.3,157.0 950.3,158.4 950.3,159.9 950.3,161.3 950.3,162.8 950.3,164.3 950.3,165.7 950.4,167.2 950.4,168.7 950.4,170.2 950.4,171.7 950.4,173.2 950.4,174.7 950.4,176.2 950.5,177.8 950.5,179.3 950.5,180.8 950.5,182.3 950.5,183.9 950.5,185.4 950.5,186.9 950.6,188.5 950.6,190.0 950.6,191.5 950.6,193.1 950.6,194.6 950.6,196.1 950.6,197.7 950.7,199.2 950.7,200.7 950.7,202.2 950.7,203.8 950.7,205.3 950.7,206.8 950.7,208.3 950.8,209.8 950.8,211.3 950.8,212.8 950.8,214.3 950.8,215.7 950.8,217.2 950.9,218.7 950.9,220.1 950.9,221.6 950.9,223.0 950.9,224.4 950.9,225.8 951.0,227.2 951.0,228.6 951.0,230.0 951.0,231.6 951.0,233.1 951.1,234.7 951.1,236.2 951.1,237.7 951.1,239.3 951.1,240.8 951.2,242.3 951.2,243.8 951.2,245.3 951.2,246.8 951.3,248.3 951.3,249.8 951.3,251.2 951.3,252.7 951.4,254.2 951.4,255.6 951.4,257.1 951.4,258.5 951.4,260.0 951.5,261.4 951.5,262.9 951.5,264.3 951.5,265.7 951.6,267.2 951.6,268.6 951.6,270.0 951.6,271.5 951.7,272.9 951.7,274.3 951.7,275.7 951.8,277.2 951.8,278.6 951.8,280.0 951.8,281.4 951.9,282.9 951.9,284.3 951.9,285.7 951.9,287.1 952.0,288.6 952.0,290.0 952.0,291.5 952.1,293.0 952.1,294.5 952.1,296.0 952.2,297.6 952.2,299.1 952.2,300.6 952.3,302.1 952.3,303.5 952.3,305.0 952.4,306.5 952.4,308.0 952.4,309.5 952.5,311.0 952.5,312.5 952.5,314.0 952.6,315.4 952.6,316.9 952.7,318.4 952.7,319.9 952.7,321.3 952.8,322.8 952.8,324.3 952.8,325.8 952.9,327.2 952.9,328.7 953.0,330.2 953.0,331.7 953.0,333.2 953.1,334.6 953.1,336.1 953.1,337.6 953.2,339.1 953.2,340.5 953.2,342.0 953.3,343.5 953.3,345.0 953.3,346.5 953.4,348.0 953.4,349.5 953.4,351.0 953.5,352.5 953.5,354.0 953.5,355.5 953.6,357.1 953.6,358.6 953.6,360.1 953.6,361.6 953.7,363.1 953.7,364.7 953.7,366.2 953.8,367.7 953.8,369.2 953.8,370.8 953.9,372.3 953.9,373.8 953.9,375.3 953.9,376.8 954.0,378.3 954.0,379.8 954.0,381.3 954.1,382.8 954.1,384.3 954.1,385.8 954.1,387.2 954.2,388.7 954.2,390.1 954.2,391.6 954.3,393.0 954.3,394.4 954.3,395.8 954.3,397.2 954.4,398.6 954.4,400.0 954.4,401.6 954.5,403.2 954.5,404.7 954.5,406.3 954.6,407.8 954.6,409.4 954.6,410.9 954.7,412.4 954.7,413.9 954.7,415.4 954.7,416.9 954.8,418.4 954.8,419.8 954.8,421.3 954.9,422.8 954.9,424.2 954.9,425.7 955.0,427.1 955.0,428.5 955.0,430.0 955.0,431.4 955.1,432.8 955.1,434.3 955.1,435.7 955.1,437.1 955.2,438.6 955.2,440.0 955.2,441.5 955.3,443.0 955.3,444.5 955.3,446.0 955.3,447.4 955.4,448.9 955.4,450.4 955.4,451.8 955.4,453.3 955.5,454.7 955.5,456.2 955.5,457.6 955.5,459.0 955.6,460.5 955.6,461.9 955.6,463.4 955.6,464.8 955.7,466.2 955.7,467.7 955.7,469.1 955.7,470.6 955.8,472.0 955.8,473.4 955.8,474.9 955.8,476.4 955.8,477.8 955.9,479.3 955.9,480.7 955.9,482.2 955.9,483.7 956.0,485.1 956.0,486.6 956.0,488.1 956.0,489.6 956.0,491.0 956.1,492.5 956.1,494.0 956.1,495.4 956.1,496.9 956.1,498.3 956.2,499.8 956.2,501.2 956.2,502.7 956.3,504.1 956.3,505.5 956.3,506.9 956.4,508.3 956.4,509.7 956.4,511.2 956.5,512.7 956.5,514.2 956.6,515.7 956.6,517.2 956.7,518.7 956.7,520.2 956.8,521.7 956.8,523.2 956.9,524.6 957.0,526.1 957.0,527.5 957.1,529.0 957.2,530.4 957.2,531.8 957.3,533.2 957.4,534.6 957.4,536.0 957.5,537.4 957.6,538.8 957.7,540.3 957.8,541.8 957.9,543.3 958.0,544.8 958.1,546.2 958.2,547.7 958.3,549.1 958.4,550.6 958.5,552.0 958.7,553.4 958.8,554.8 958.9,556.3 959.0,557.7 959.1,559.1 959.3,560.6 959.4,562.0 959.5,563.5 959.7,564.9 959.8,566.4 959.9,567.9 960.1,569.4 960.2,570.9 960.3,572.4 960.5,573.9 960.6,575.3 960.8,576.8 960.9,578.3 961.1,579.7 961.3,581.1 961.4,582.6 961.6,583.9 961.8,585.3 962.0,586.9 962.2,588.4 962.4,589.9 962.6,591.4 962.8,592.9 963.1,594.4 963.3,595.9 963.6,597.3 963.8,598.7 964.1,600.1 964.4,601.4 964.8,602.7 965.2,604.1 965.7,605.5 966.1,606.9 966.6,608.3 967.1,609.6 967.7,610.8 968.3,612.0 968.9,613.2 969.6,614.3 970.5,615.5 971.4,616.7 972.4,617.7 973.4,618.8 974.5,619.7 975.6,620.5 976.8,621.3 978.0,621.9 979.3,622.5 980.6,622.9 982.0,623.3 983.4,623.6 984.8,623.9 986.3,624.2 987.5,624.4 988.8,624.6 990.2,624.7 991.5,624.9 992.9,625.0 994.3,625.1 995.7,625.1 997.1,625.2 998.4,625.3 999.8,625.4 1001.2,625.5 1002.6,625.6 1004.0,625.7 1005.3,625.8 1006.7,625.9 1008.2,626.0 1009.6,626.1 1011.2,626.2 1012.9,626.3 1014.1,626.4 1015.3,626.5 1016.6,626.6 1018.0,626.7 1019.3,626.8 1020.7,626.9 1022.2,627.0 1023.6,627.1 1025.1,627.2 1026.6,627.3 1028.1,627.4 1029.7,627.5 1031.2,627.6 1032.8,627.7 1034.4,627.8 1036.0,627.9 1037.5,628.0 1039.1,628.1 1040.7,628.2 1042.3,628.3 1043.7,628.4 1045.0,628.5 1046.4,628.5 1047.8,628.6 1049.2,628.7 1050.6,628.8 1052.1,628.8 1053.5,628.9 1054.9,629.0 1056.4,629.1 1057.9,629.1 1059.3,629.2 1060.8,629.3 1062.3,629.4 1063.8,629.4 1065.3,629.5 1066.7,629.6 1068.2,629.6 1069.7,629.7 1071.2,629.8 1072.7,629.9 1074.2,629.9 1075.6,630.0 1077.1,630.1 1078.6,630.2 1080.0,630.2 1081.5,630.3" stroke="#CC79A7" stroke-width="5.3" stroke-linecap="round" stroke-linejoin="round" fill="none" stroke-dasharray="7.3 12.1"/>
<path d="M88.8,76.2 90.3,76.1 91.7,76.1 93.2,76.0 94.6,76.0 96.1,75.9 97.5,75.9 99.0,75.8 100.4,75.8 101.9,75.7 103.3,75.7 104.8,75.6 106.2,75.5 107.7,75.5 109.1,75.4 110.6,75.4 112.0,75.3 113.5,75.3 114.9,75.2 116.4,75.2 117.8,75.1 119.3,75.1 120.7,75.0 122.2,75.0 123.7,75.0 125.1,74.9 126.6,74.9 128.0,74.8 129.5,74.8 130.9,74.8 132.4,74.7 133.8,74.7 135.3,74.7 136.7,74.6 138.2,74.6 139.6,74.6 141.1,74.5 142.5,74.5 144.0,74.5 145.4,74.4 146.9,74.4 148.3,74.4 149.8,74.3 151.2,74.3 152.7,74.3 154.1,74.2 155.6,74.2 157.1,74.2 158.6,74.1 160.1,74.1 161.6,74.1 163.2,74.0 164.8,74.0 166.3,73.9 167.9,73.9 169.5,73.9 171.1,73.8 172.7,73.8 174.2,73.7 175.7,73.7 177.2,73.7 178.7,73.6 180.2,73.6 181.6,73.6 182.9,73.5 184.3,73.5 185.5,73.5 186.8,73.4 187.9,73.4 189.0,73.4 190.8,73.4 192.7,73.3 194.5,73.3 196.2,73.3 197.7,73.2 198.9,73.2 199.7,73.2 200.0,73.2 200.0,73.2 200.0,73.2 200.3,73.2 201.0,73.2 202.1,73.2 203.5,73.2 205.1,73.1 206.8,73.1 208.7,73.1 210.5,73.1 212.2,73.0 213.7,73.0 215.0,73.0 216.4,72.9 217.8,72.9 219.2,72.8 220.4,72.7 221.5,72.7 222.5,72.8 223.9,72.9 225.0,73.5 225.4,74.3 225.7,75.3 225.8,76.6 225.9,78.1 226.0,80.0 226.1,80.7 226.1,81.5 226.1,82.4 226.2,83.3 226.2,84.2 226.3,85.2 226.3,86.3 226.3,87.4 226.4,88.5 226.4,89.7 226.4,91.0 226.4,92.3 226.4,93.6 226.4,95.0 226.5,96.4 226.5,97.8 226.5,99.3 226.5,100.8 226.5,102.3 226.5,103.9 226.5,105.5 226.5,107.1 226.5,108.7 226.5,110.4 226.5,112.1 226.5,113.7 226.5,115.5 226.5,117.2 226.5,118.9 226.5,120.6 226.5,122.4 226.5,124.1 226.5,125.9 226.5,127.7 226.5,129.4 226.5,131.2 226.4,133.0 226.4,134.7 226.4,136.5 226.4,138.2 226.5,139.9 226.5,141.6 226.5,143.4 226.5,145.0 226.5,146.7 226.5,148.4 226.5,150.0 226.5,151.4 226.5,152.7 226.5,154.1 226.5,155.5 226.6,156.9 226.6,158.3 226.6,159.7 226.6,161.1 226.6,162.5 226.6,164.0 226.6,165.4 226.6,166.8 226.7,168.3 226.7,169.7 226.7,171.2 226.7,172.7 226.7,174.1 226.7,175.6 226.7,177.1 226.7,178.5 226.8,180.0 226.8,181.5 226.8,183.0 226.8,184.5 226.8,186.0 226.8,187.5 226.8,189.0 226.9,190.5 226.9,192.0 226.9,193.6 226.9,195.1 226.9,196.6 226.9,198.1 226.9,199.7 227.0,201.2 227.0,202.7 227.0,204.2 227.0,205.8 227.0,207.3 227.0,208.8 227.0,210.4 227.1,211.9 227.1,213.4 227.1,215.0 227.1,216.5 227.1,218.1 227.1,219.6 227.2,221.1 227.2,222.7 227.2,224.2 227.2,225.7 227.2,227.3 227.2,228.8 227.3,230.3 227.3,231.9 227.3,233.4 227.3,234.9 227.3,236.4 227.3,237.9 227.4,239.5 227.4,241.0 227.4,242.5 227.4,244.0 227.4,245.5 227.5,247.0 227.5,248.5 227.5,250.0 227.5,251.5 227.5,253.0 227.6,254.5 227.6,256.0 227.6,257.5 227.6,259.0 227.6,260.5 227.7,262.1 227.7,263.6 227.7,265.1 227.7,266.6 227.8,268.1 227.8,269.7 227.8,271.2 227.8,272.7 227.8,274.3 227.9,275.8 227.9,277.3 227.9,278.9 227.9,280.4 228.0,281.9 228.0,283.5 228.0,285.0 228.0,286.6 228.1,288.1 228.1,289.6 228.1,291.2 228.1,292.7 228.2,294.2 228.2,295.8 228.2,297.3 228.2,298.8 228.3,300.3 228.3,301.9 228.3,303.4 228.3,304.9 228.4,306.4 228.4,308.0 228.4,309.5 228.4,311.0 228.5,312.5 228.5,314.0 228.5,315.5 228.6,317.0 228.6,318.5 228.6,320.0 228.6,321.5 228.7,322.9 228.7,324.4 228.7,325.9 228.7,327.4 228.8,328.8 228.8,330.3 228.8,331.7 228.9,333.2 228.9,334.6 228.9,336.0 228.9,337.5 229.0,338.9 229.0,340.3 229.0,341.7 229.1,343.1 229.1,344.5 229.1,345.9 229.1,347.3 229.2,348.6 229.2,350.0 229.2,351.6 229.3,353.3 229.3,354.9 229.3,356.5 229.4,358.2 229.4,359.8 229.4,361.5 229.5,363.1 229.5,364.8 229.5,366.4 229.6,368.1 229.6,369.7 229.6,371.3 229.7,373.0 229.7,374.6 229.8,376.2 229.8,377.9 229.8,379.5 229.9,381.1 229.9,382.7 229.9,384.3 230.0,385.9 230.0,387.4 230.0,389.0 230.1,390.5 230.1,392.1 230.2,393.6 230.2,395.1 230.2,396.6 230.3,398.1 230.3,399.5 230.3,401.0 230.4,402.4 230.4,403.8 230.5,405.2 230.5,406.6 230.6,407.9 230.6,409.2 230.6,410.5 230.7,411.8 230.7,413.0 230.8,414.3 230.8,415.5 230.9,416.6 230.9,417.8 231.0,418.9 231.0,420.0 231.1,421.8 231.2,423.6 231.3,425.2 231.4,426.8 231.5,428.3 231.6,429.7 231.7,431.1 231.8,432.5 231.9,433.9 232.0,435.2 232.1,436.6 232.2,437.9 232.3,439.3 232.3,440.8 232.4,442.3 232.5,443.7 232.5,445.1 232.5,446.5 232.6,447.9 232.6,449.3 232.6,450.7 232.7,452.1 232.7,453.6 232.7,455.0 232.7,456.4 232.8,457.9 232.8,459.3 232.8,460.7 232.8,462.2 232.9,463.6 232.9,465.0 233.0,466.5 233.0,467.9 233.1,469.3 233.1,470.8 233.2,472.2 233.2,473.7 233.3,475.1 233.4,476.6 233.4,478.0 233.5,479.5 233.6,481.0 233.6,482.4 233.7,483.8 233.8,485.3 233.8,486.7 233.9,488.1 234.0,489.5 234.1,490.8 234.1,492.2 234.2,493.5 234.3,495.0 234.4,496.5 234.4,498.0 234.5,499.4 234.6,500.9 234.7,502.3 234.8,503.7 234.9,505.1 234.9,506.4 235.0,507.8 235.1,509.2 235.2,510.6 235.3,512.0 235.4,513.5 235.5,514.9 235.6,516.4 235.7,517.9 235.8,519.3 235.9,520.8 236.0,522.2 236.1,523.7 236.2,525.1 236.3,526.6 236.4,528.0 236.5,529.5 236.6,531.0 236.8,532.4 236.9,533.9 237.1,535.3 237.2,536.8 237.4,538.2 237.5,539.7 237.7,541.1 237.8,542.6 238.0,544.0 238.2,545.5 238.3,546.9 238.4,548.4 238.6,549.8 238.7,551.3 238.8,552.7 239.0,554.2 239.1,555.6 239.2,557.1 239.3,558.5 239.5,560.0 239.6,561.4 239.8,562.9 240.0,564.3 240.2,565.7 240.4,567.2 240.6,568.7 240.8,570.2 241.1,571.7 241.3,573.2 241.5,574.6 241.8,576.1 242.0,577.4 242.3,578.8 242.6,580.0 242.9,581.2 243.3,582.7 243.8,584.1 244.2,585.5 244.7,586.7 245.2,588.0 245.8,589.3 246.4,590.5 247.0,591.7 247.6,593.0 248.3,594.2 249.0,595.4 249.8,596.5 250.5,597.5 251.4,598.6 252.2,599.5 253.2,600.4 254.1,601.3 255.1,602.1 256.2,602.9 257.3,603.6 258.5,604.3 259.7,605.0 260.9,605.6 262.1,606.2 263.4,606.8 264.7,607.4 266.0,608.0 267.3,608.5 268.5,609.0 269.7,609.4 270.9,609.9 272.2,610.3 273.7,610.8 274.9,611.2 276.2,611.5 277.5,611.9 278.9,612.3 280.3,612.7 281.8,613.1 283.4,613.5 284.9,613.9 286.5,614.2 288.1,614.6 289.4,614.9 290.7,615.2 292.1,615.4 293.5,615.7 294.9,616.0 296.3,616.3 297.7,616.5 299.2,616.8 300.7,617.0 302.1,617.3 303.6,617.5 305.1,617.8 306.7,618.0 308.2,618.3 309.7,618.5 311.1,618.7 312.4,618.9 313.8,619.1 315.2,619.3 316.6,619.5 318.1,619.7 319.5,619.9 320.9,620.0 322.4,620.2 323.9,620.4 325.3,620.6 326.8,620.7 328.3,620.9 329.7,621.1 331.2,621.2 332.7,621.4 334.2,621.5 335.6,621.7 337.1,621.8 338.5,621.9 340.0,622.1 341.5,622.2 342.9,622.3 344.4,622.4 345.8,622.5 347.3,622.6 348.8,622.7 350.3,622.8 351.7,622.9 353.2,623.0 354.7,623.1 356.2,623.2 357.6,623.3 359.1,623.4 360.6,623.4 362.1,623.5 363.6,623.6 365.0,623.7 366.5,623.8 368.0,623.9 369.4,624.0 370.8,624.1 372.2,624.1 373.6,624.2 375.0,624.3 376.4,624.4 377.8,624.5 379.2,624.5 380.6,624.6 382.1,624.7 383.5,624.8 385.0,624.8 386.4,624.9 387.9,625.0 389.4,625.1 391.0,625.2 392.6,625.2 394.2,625.3 395.9,625.4 397.2,625.5 398.4,625.5 399.7,625.6 401.1,625.6 402.4,625.7 403.8,625.8 405.2,625.8 406.6,625.9 408.0,626.0 409.4,626.0 410.9,626.1 412.4,626.1 413.8,626.2 415.3,626.3 416.8,626.3 418.3,626.4 419.9,626.5 421.4,626.5 422.9,626.6 424.4,626.7 426.0,626.7 427.5,626.8 429.0,626.8 430.6,626.9 432.1,627.0 433.7,627.0 435.2,627.1 436.7,627.2 438.2,627.2 439.7,627.3 441.2,627.3 442.7,627.4 444.2,627.5 445.7,627.5 447.1,627.6 448.6,627.6 450.0,627.7 451.5,627.8 453.1,627.8 454.6,627.9 456.1,628.0 457.6,628.0 459.2,628.1 460.7,628.1 462.2,628.2 463.7,628.3 465.2,628.3 466.7,628.4 468.2,628.5 469.7,628.5 471.2,628.6 472.7,628.6 474.2,628.7 475.7,628.8 477.2,628.8 478.7,628.9 480.2,628.9 481.6,629.0 483.1,629.1 484.6,629.1 486.0,629.2 487.5,629.2 489.0,629.3 490.4,629.3 491.9,629.4 493.4,629.4 494.8,629.5 496.3,629.6 497.7,629.6 499.2,629.7 500.7,629.7 502.2,629.7 503.7,629.8 505.1,629.8 506.6,629.9 508.1,629.9 509.5,630.0 511.0,630.0 512.4,630.1 513.9,630.1 515.3,630.1 516.8,630.2 518.2,630.2 519.7,630.3 521.1,630.3 522.6,630.3 524.0,630.4 525.5,630.4 526.9,630.5 528.3,630.5 529.8,630.5 531.2,630.6 532.7,630.6 534.1,630.7 535.6,630.7 537.1,630.7 538.5,630.8 540.0,630.8 541.5,630.8 543.0,630.9 544.5,630.9 546.1,631.0 547.8,631.0 549.4,631.0 551.1,631.1 552.7,631.1 554.4,631.2 556.1,631.2 557.8,631.2 559.5,631.3 561.2,631.3 562.8,631.4 564.5,631.4 566.1,631.4 567.7,631.5 569.3,631.5 570.8,631.6 572.3,631.6 573.8,631.6 575.2,631.6 576.5,631.7 577.8,631.7 579.0,631.7 580.1,631.7 581.2,631.8 582.2,631.8 583.1,631.8 583.9,631.8 585.8,631.9 587.3,632.2 588.5,632.2 589.5,631.8 590.1,631.0 590.3,629.8 590.4,628.4 590.4,626.8 590.5,625.0 590.6,624.0 590.6,622.8 590.7,621.7 590.7,620.4 590.8,619.1 590.8,617.8 590.8,616.4 590.9,614.9 590.9,613.4 590.9,611.8 590.9,610.3 590.9,608.6 590.9,607.0 590.9,605.3 591.0,603.5 591.0,601.8 591.0,600.0 591.0,598.8 591.0,597.6 591.1,596.4 591.1,595.2 591.1,593.9 591.1,592.6 591.1,591.3 591.1,589.9 591.1,588.6 591.2,587.2 591.2,585.8 591.2,584.3 591.2,582.9 591.2,581.4 591.2,580.0 591.3,578.5 591.3,577.0 591.3,575.4 591.3,573.9 591.3,572.4 591.3,570.8 591.3,569.3 591.4,567.7 591.4,566.2 591.4,564.6 591.4,563.0 591.4,561.5 591.4,559.9 591.4,558.3 591.5,556.8 591.5,555.2 591.5,553.7 591.5,552.1 591.5,550.6 591.5,549.0 591.5,547.5 591.5,546.0 591.6,544.5 591.6,543.0 591.6,541.5 591.6,540.0 591.6,538.5 591.6,537.1 591.6,535.6 591.6,534.2 591.7,532.7 591.7,531.3 591.7,529.9 591.7,528.4 591.7,527.0 591.7,525.6 591.7,524.1 591.7,522.7 591.7,521.3 591.8,519.8 591.8,518.4 591.8,517.0 591.8,515.6 591.8,514.1 591.8,512.7 591.8,511.3 591.8,509.8 591.8,508.4 591.8,506.9 591.9,505.5 591.9,504.0 591.9,502.6 591.9,501.1 591.9,499.7 591.9,498.2 591.9,496.7 591.9,495.2 591.9,493.7 592.0,492.3 592.0,490.7 592.0,489.2 592.0,487.7 592.0,486.2 592.0,484.7 592.1,483.1 592.1,481.6 592.1,480.0 592.1,478.6 592.1,477.2 592.2,475.8 592.2,474.4 592.2,473.0 592.2,471.6 592.2,470.2 592.3,468.8 592.3,467.3 592.3,465.9 592.3,464.4 592.3,463.0 592.4,461.5 592.4,460.1 592.4,458.6 592.4,457.1 592.5,455.7 592.5,454.2 592.5,452.7 592.5,451.2 592.6,449.7 592.6,448.2 592.6,446.7 592.7,445.2 592.7,443.7 592.7,442.2 592.7,440.7 592.8,439.2 592.8,437.7 592.8,436.2 592.9,434.7 592.9,433.2 592.9,431.6 592.9,430.1 593.0,428.6 593.0,427.1 593.0,425.6 593.1,424.1 593.1,422.5 593.1,421.0 593.1,419.5 593.2,418.0 593.2,416.5 593.2,415.0 593.3,413.5 593.3,412.0 593.3,410.5 593.3,409.0 593.4,407.5 593.4,406.0 593.4,404.5 593.4,403.0 593.5,401.5 593.5,400.0 593.5,398.5 593.6,397.0 593.6,395.5 593.6,394.0 593.6,392.5 593.7,391.0 593.7,389.5 593.7,388.0 593.7,386.5 593.8,384.9 593.8,383.4 593.8,381.9 593.9,380.3 593.9,378.8 593.9,377.3 593.9,375.7 594.0,374.2 594.0,372.6 594.0,371.1 594.1,369.6 594.1,368.0 594.1,366.5 594.1,365.0 594.2,363.4 594.2,361.9 594.2,360.4 594.3,358.8 594.3,357.3 594.3,355.8 594.3,354.3 594.4,352.8 594.4,351.3 594.4,349.8 594.5,348.3 594.5,346.8 594.5,345.3 594.5,343.8 594.6,342.3 594.6,340.9 594.6,339.4 594.7,338.0 594.7,336.5 594.7,335.1 594.7,333.7 594.8,332.3 594.8,330.8 594.8,329.5 594.8,328.1 594.9,326.7 594.9,325.3 594.9,324.0 594.9,322.6 595.0,321.3 595.0,320.0 595.0,318.4 595.1,316.7 595.1,315.1 595.1,313.4 595.1,311.8 595.2,310.1 595.2,308.5 595.2,306.8 595.2,305.2 595.2,303.6 595.3,302.0 595.3,300.4 595.3,298.8 595.3,297.2 595.3,295.6 595.4,294.0 595.4,292.5 595.4,291.0 595.4,289.5 595.5,288.0 595.5,286.5 595.5,285.1 595.5,283.7 595.6,282.3 595.6,280.9 595.6,279.6 595.7,278.3 595.7,277.0 595.8,275.7 595.8,274.5 595.8,273.3 595.9,272.2 595.9,271.1 596.0,270.0 596.1,268.2 596.2,266.6 596.4,265.1 596.5,263.7 596.6,262.3 596.8,261.0 596.9,259.7 597.0,258.4 597.2,257.1 597.3,255.7 597.4,254.3 597.5,252.9 597.6,251.4 597.7,250.0 597.8,248.5 597.9,247.0 597.9,245.6 598.0,244.1 598.1,242.6 598.2,241.1 598.2,239.6 598.3,238.2 598.4,236.7 598.5,235.2 598.6,233.8 598.6,232.3 598.7,230.8 598.8,229.3 598.9,227.8 598.9,226.4 599.0,224.9 599.1,223.4 599.2,221.9 599.2,220.5 599.3,219.0 599.4,217.6 599.4,216.1 599.5,214.7 599.6,213.3 599.7,211.8 599.7,210.4 599.8,209.0 599.9,207.5 600.0,206.1 600.0,204.7 600.1,203.2 600.2,201.8 600.3,200.3 600.4,198.9 600.4,197.4 600.5,195.9 600.6,194.4 600.7,192.9 600.8,191.5 600.9,190.0 601.0,188.5 601.0,187.0 601.1,185.6 601.2,184.1 601.3,182.6 601.3,181.2 601.4,179.6 601.5,178.1 601.5,176.6 601.6,175.1 601.6,173.6 601.7,172.2 601.8,170.8 601.9,169.4 602.0,168.1 602.1,166.9 602.3,165.3 602.5,163.7 602.8,162.3 603.0,160.9 603.3,159.5 603.5,158.1 603.7,156.6 603.8,155.2 604.0,153.7 604.1,152.2 604.3,150.8 604.4,149.3 604.5,147.8 604.7,146.3 604.8,144.8 604.9,143.3 605.1,141.9 605.3,140.4 605.6,139.0 605.8,137.6 606.2,136.2 606.5,134.9 606.9,133.5 607.2,132.1 607.5,130.8 607.8,129.6 608.1,128.3 608.4,127.0 608.7,125.7 609.1,124.4 609.5,123.2 610.0,121.8 610.5,120.4 611.0,119.1 611.6,117.8 612.2,116.5 612.9,115.2 613.6,114.0 614.4,112.7 615.2,111.6 616.1,110.4 617.0,109.3 617.9,108.2 618.8,107.2 619.7,106.3 620.6,105.3 621.5,104.4 622.5,103.6 623.5,102.8 624.6,102.0 625.8,101.3 626.9,100.7 628.1,100.0 629.3,99.4 630.5,98.8 631.7,98.1 632.9,97.5 634.1,96.9 635.3,96.3 636.6,95.7 637.8,95.2 639.1,94.7 640.5,94.2 641.8,93.7 643.1,93.3 644.4,92.9 645.7,92.5 646.9,92.2 648.2,91.8 649.5,91.5 650.9,91.1 652.0,90.8 653.2,90.5 654.5,90.1 655.8,89.7 657.1,89.4 658.5,89.0 659.9,88.6 661.3,88.3 662.7,87.9 664.1,87.6 665.4,87.3 666.8,87.0 668.1,86.8 669.5,86.5 670.8,86.3 672.2,86.1 673.6,85.8 675.0,85.6 676.4,85.4 677.7,85.2 679.1,85.0 680.5,84.8 681.8,84.6 683.2,84.4 684.5,84.3 685.9,84.1 687.2,83.9 688.6,83.8 690.0,83.6 691.3,83.5 692.7,83.3 694.0,83.2 695.4,83.0 696.8,82.9 698.2,82.7 699.6,82.6 701.0,82.5 702.4,82.3 703.8,82.2 705.3,82.1 706.7,81.9 708.2,81.8 709.6,81.7 711.0,81.6 712.5,81.5 713.9,81.4 715.4,81.3 716.9,81.2 718.4,81.1 719.9,81.0 721.4,80.9 722.8,80.8 724.3,80.7 725.8,80.6 727.3,80.5 728.7,80.4 730.2,80.4 731.7,80.3 733.1,80.2 734.6,80.2 736.1,80.1 737.5,80.0 739.0,79.9 740.5,79.9 741.9,79.8 743.4,79.7 744.8,79.6 746.3,79.5 747.7,79.4 749.0,79.3 750.4,79.2 751.8,79.1 753.2,78.9 754.7,78.8 756.2,78.7 757.7,78.6 759.3,78.5 761.0,78.4 762.2,78.3 763.6,78.3 764.9,78.2 766.3,78.1 767.8,78.1 769.3,78.0 770.8,77.9 772.3,77.9 773.9,77.8 775.5,77.8 777.1,77.7 778.7,77.6 780.3,77.6 781.9,77.5 783.4,77.5 785.0,77.4 786.5,77.4 788.1,77.3 789.5,77.3 791.0,77.2 792.4,77.2 793.8,77.1 795.1,77.1 796.3,77.0 797.9,76.9 799.5,76.9 800.9,76.8 802.3,76.7 803.7,76.7 805.0,76.6 806.3,76.5 807.6,76.5 809.0,76.4 810.5,76.3 812.0,76.3 813.6,76.2 814.8,76.1 816.1,76.1 817.4,76.0 818.8,76.0 820.1,75.9 821.5,75.9 823.0,75.8 824.4,75.8 825.9,75.7 827.4,75.7 828.9,75.6 830.4,75.6 831.9,75.5 833.4,75.4 835.0,75.4 836.5,75.3 838.0,75.3 839.5,75.2 841.1,75.2 842.6,75.1 844.1,75.1 845.5,75.0 847.0,75.0 848.5,75.0 849.9,74.9 851.4,74.9 852.8,74.8 854.3,74.8 855.7,74.8 857.2,74.7 858.6,74.7 860.1,74.7 861.5,74.6 863.0,74.6 864.4,74.6 865.9,74.5 867.3,74.5 868.8,74.5 870.2,74.4 871.7,74.4 873.1,74.4 874.6,74.3 876.0,74.3 877.5,74.3 878.9,74.2 880.4,74.2 881.9,74.2 883.4,74.1 884.9,74.1 886.4,74.1 888.0,74.0 889.6,74.0 891.1,73.9 892.7,73.9 894.3,73.9 895.9,73.8 897.5,73.8 899.0,73.7 900.5,73.7 902.0,73.7 903.5,73.6 905.0,73.6 906.4,73.6 907.7,73.5 909.1,73.5 910.3,73.5 911.6,73.4 912.7,73.4 913.8,73.4 915.6,73.4 917.5,73.3 919.3,73.3 921.0,73.3 922.5,73.2 923.7,73.2 924.5,73.2 924.8,73.2 924.8,73.2 924.8,73.2 925.1,73.2 925.8,73.2 926.9,73.2 928.3,73.2 929.9,73.1 931.6,73.1 933.5,73.1 935.3,73.1 937.0,73.0 938.5,73.0 939.8,73.0 941.2,72.9 942.6,72.9 944.0,72.8 945.2,72.7 946.3,72.7 947.3,72.8 948.7,72.9 949.8,73.5 950.2,74.3 950.5,75.3 950.6,76.6 950.7,78.1 950.8,80.0 950.9,80.7 950.9,81.5 950.9,82.4 951.0,83.3 951.0,84.2 951.1,85.2 951.1,86.3 951.1,87.4 951.2,88.5 951.2,89.7 951.2,91.0 951.2,92.3 951.2,93.6 951.2,95.0 951.3,96.4 951.3,97.8 951.3,99.3 951.3,100.8 951.3,102.3 951.3,103.9 951.3,105.5 951.3,107.1 951.3,108.7 951.3,110.4 951.3,112.1 951.3,113.7 951.3,115.5 951.3,117.2 951.3,118.9 951.3,120.6 951.3,122.4 951.3,124.1 951.3,125.9 951.3,127.7 951.3,129.4 951.3,131.2 951.2,133.0 951.2,134.7 951.2,136.5 951.2,138.2 951.3,139.9 951.3,141.6 951.3,143.4 951.3,145.0 951.3,146.7 951.3,148.4 951.3,150.0 951.3,151.4 951.3,152.7 951.3,154.1 951.3,155.5 951.4,156.9 951.4,158.3 951.4,159.7 951.4,161.1 951.4,162.5 951.4,164.0 951.4,165.4 951.4,166.8 951.5,168.3 951.5,169.7 951.5,171.2 951.5,172.7 951.5,174.1 951.5,175.6 951.5,177.1 951.5,178.5 951.6,180.0 951.6,181.5 951.6,183.0 951.6,184.5 951.6,186.0 951.6,187.5 951.6,189.0 951.7,190.5 951.7,192.0 951.7,193.6 951.7,195.1 951.7,196.6 951.7,198.1 951.7,199.7 951.8,201.2 951.8,202.7 951.8,204.2 951.8,205.8 951.8,207.3 951.8,208.8 951.8,210.4 951.9,211.9 951.9,213.4 951.9,215.0 951.9,216.5 951.9,218.1 951.9,219.6 952.0,221.1 952.0,222.7 952.0,224.2 952.0,225.7 952.0,227.3 952.0,228.8 952.1,230.3 952.1,231.9 952.1,233.4 952.1,234.9 952.1,236.4 952.1,237.9 952.2,239.5 952.2,241.0 952.2,242.5 952.2,244.0 952.2,245.5 952.3,247.0 952.3,248.5 952.3,250.0 952.3,251.5 952.3,253.0 952.4,254.5 952.4,256.0 952.4,257.5 952.4,259.0 952.4,260.5 952.5,262.1 952.5,263.6 952.5,265.1 952.5,266.6 952.6,268.1 952.6,269.7 952.6,271.2 952.6,272.7 952.6,274.3 952.7,275.8 952.7,277.3 952.7,278.9 952.7,280.4 952.8,281.9 952.8,283.5 952.8,285.0 952.8,286.6 952.9,288.1 952.9,289.6 952.9,291.2 952.9,292.7 953.0,294.2 953.0,295.8 953.0,297.3 953.0,298.8 953.1,300.3 953.1,301.9 953.1,303.4 953.1,304.9 953.2,306.4 953.2,308.0 953.2,309.5 953.2,311.0 953.3,312.5 953.3,314.0 953.3,315.5 953.4,317.0 953.4,318.5 953.4,320.0 953.4,321.5 953.5,322.9 953.5,324.4 953.5,325.9 953.5,327.4 953.6,328.8 953.6,330.3 953.6,331.7 953.7,333.2 953.7,334.6 953.7,336.0 953.7,337.5 953.8,338.9 953.8,340.3 953.8,341.7 953.9,343.1 953.9,344.5 953.9,345.9 953.9,347.3 954.0,348.6 954.0,350.0 954.0,351.6 954.1,353.3 954.1,354.9 954.1,356.5 954.2,358.2 954.2,359.8 954.2,361.5 954.3,363.1 954.3,364.8 954.3,366.4 954.4,368.1 954.4,369.7 954.4,371.3 954.5,373.0 954.5,374.6 954.6,376.2 954.6,377.9 954.6,379.5 954.7,381.1 954.7,382.7 954.7,384.3 954.8,385.9 954.8,387.4 954.8,389.0 954.9,390.5 954.9,392.1 955.0,393.6 955.0,395.1 955.0,396.6 955.1,398.1 955.1,399.5 955.1,401.0 955.2,402.4 955.2,403.8 955.3,405.2 955.3,406.6 955.4,407.9 955.4,409.2 955.4,410.5 955.5,411.8 955.5,413.0 955.6,414.3 955.6,415.5 955.7,416.6 955.7,417.8 955.8,418.9 955.8,420.0 955.9,421.8 956.0,423.6 956.1,425.2 956.2,426.8 956.3,428.3 956.4,429.7 956.5,431.1 956.6,432.5 956.7,433.9 956.8,435.2 956.9,436.6 957.0,437.9 957.1,439.3 957.1,440.8 957.2,442.3 957.3,443.7 957.3,445.1 957.3,446.5 957.4,447.9 957.4,449.3 957.4,450.7 957.5,452.1 957.5,453.6 957.5,455.0 957.5,456.4 957.6,457.9 957.6,459.3 957.6,460.7 957.6,462.2 957.7,463.6 957.7,465.0 957.8,466.5 957.8,467.9 957.9,469.3 957.9,470.8 958.0,472.2 958.0,473.7 958.1,475.1 958.2,476.6 958.2,478.0 958.3,479.5 958.4,481.0 958.4,482.4 958.5,483.8 958.6,485.3 958.6,486.7 958.7,488.1 958.8,489.5 958.9,490.8 958.9,492.2 959.0,493.5 959.1,495.0 959.2,496.5 959.2,498.0 959.3,499.4 959.4,500.9 959.5,502.3 959.6,503.7 959.7,505.1 959.7,506.4 959.8,507.8 959.9,509.2 960.0,510.6 960.1,512.0 960.2,513.5 960.3,514.9 960.4,516.4 960.5,517.9 960.6,519.3 960.7,520.8 960.8,522.2 960.9,523.7 961.0,525.1 961.1,526.6 961.2,528.0 961.3,529.5 961.4,531.0 961.6,532.4 961.7,533.9 961.9,535.3 962.0,536.8 962.2,538.2 962.3,539.7 962.5,541.1 962.6,542.6 962.8,544.0 963.0,545.5 963.1,546.9 963.2,548.4 963.4,549.8 963.5,551.3 963.6,552.7 963.8,554.2 963.9,555.6 964.0,557.1 964.1,558.5 964.3,560.0 964.4,561.4 964.6,562.9 964.8,564.3 965.0,565.7 965.2,567.2 965.4,568.7 965.6,570.2 965.9,571.7 966.1,573.2 966.3,574.6 966.6,576.1 966.8,577.4 967.1,578.8 967.4,580.0 967.7,581.2 968.1,582.7 968.6,584.1 969.0,585.5 969.5,586.7 970.0,588.0 970.6,589.3 971.2,590.5 971.8,591.7 972.4,593.0 973.1,594.2 973.8,595.4 974.6,596.5 975.3,597.5 976.2,598.6 977.0,599.5 978.0,600.4 978.9,601.3 979.9,602.1 981.0,602.9 982.1,603.6 983.3,604.3 984.5,605.0 985.7,605.6 986.9,606.2 988.2,606.8 989.5,607.4 990.8,608.0 992.1,608.5 993.3,609.0 994.5,609.4 995.7,609.9 997.0,610.3 998.5,610.8 999.7,611.2 1001.0,611.5 1002.3,611.9 1003.7,612.3 1005.1,612.7 1006.6,613.1 1008.2,613.5 1009.7,613.9 1011.3,614.2 1012.9,614.6 1014.2,614.9 1015.5,615.2 1016.9,615.4 1018.3,615.7 1019.7,616.0 1021.1,616.3 1022.5,616.5 1024.0,616.8 1025.5,617.0 1026.9,617.3 1028.4,617.5 1029.9,617.8 1031.5,618.0 1033.0,618.3 1034.5,618.5 1035.9,618.7 1037.2,618.9 1038.6,619.1 1040.0,619.3 1041.4,619.5 1042.9,619.7 1044.3,619.9 1045.7,620.0 1047.2,620.2 1048.7,620.4 1050.1,620.6 1051.6,620.7 1053.1,620.9 1054.5,621.1 1056.0,621.2 1057.5,621.4 1059.0,621.5 1060.4,621.7 1061.9,621.8 1063.3,621.9 1064.8,622.1 1066.3,622.2 1067.7,622.3 1069.2,622.4 1070.6,622.5 1072.1,622.6 1073.6,622.7 1075.1,622.8 1076.5,622.9 1078.0,623.0 1079.5,623.1 1081.0,623.2 1082.4,623.2 1083.9,623.3 1085.4,623.4 1086.9,623.5 1088.4,623.6 1089.8,623.7 1091.3,623.8" stroke="#56B4E9" stroke-width="5.3" stroke-linecap="round" stroke-linejoin="round" fill="none" stroke-dasharray="0 8.72"/>
<path d="M88.8,98.5 90.3,98.3 91.7,98.1 93.2,97.9 94.6,97.7 96.1,97.5 97.5,97.2 99.0,97.0 100.4,96.8 101.9,96.6 103.3,96.4 104.8,96.2 106.2,96.0 107.7,95.7 109.1,95.5 110.6,95.3 112.0,95.1 113.5,94.9 114.9,94.7 116.4,94.5 117.8,94.3 119.3,94.2 120.7,94.0 122.2,93.8 123.7,93.6 125.1,93.5 126.6,93.3 128.0,93.1 129.5,93.0 130.9,92.8 132.4,92.6 133.8,92.5 135.3,92.3 136.7,92.2 138.2,92.0 139.6,91.9 141.1,91.7 142.5,91.6 144.0,91.5 145.4,91.3 146.9,91.2 148.3,91.1 149.8,91.0 151.2,90.8 152.7,90.7 154.1,90.6 155.6,90.5 157.1,90.4 158.6,90.3 160.1,90.2 161.6,90.1 163.2,90.0 164.8,89.9 166.3,89.8 167.9,89.7 169.5,89.6 171.1,89.6 172.6,89.5 174.2,89.4 175.7,89.4 177.2,89.3 178.7,89.2 180.2,89.2 181.6,89.1 182.9,89.0 184.3,89.0 185.5,88.9 186.8,88.9 187.9,88.8 189.0,88.8 190.8,88.7 192.7,88.7 194.5,88.6 196.2,88.6 197.7,88.5 198.9,88.5 199.7,88.5 200.0,88.5 200.0,88.5 200.0,88.5 200.3,88.5 201.0,88.4 202.1,88.3 203.5,88.2 205.1,88.1 206.9,87.9 208.7,87.8 210.5,87.6 212.2,87.5 213.7,87.3 215.0,87.2 216.6,87.0 218.2,86.8 219.6,86.6 220.9,86.4 222.0,86.5 223.3,86.8 224.2,87.5 224.6,88.2 224.9,89.2 225.1,90.4 225.2,91.7 225.3,93.3 225.5,95.0 225.6,95.8 225.6,96.7 225.7,97.7 225.8,98.8 225.8,99.9 225.9,101.1 225.9,102.3 226.0,103.6 226.0,104.9 226.0,106.3 226.1,107.7 226.1,109.2 226.1,110.7 226.2,112.2 226.2,113.8 226.2,115.4 226.2,117.0 226.2,118.7 226.3,120.3 226.3,122.0 226.3,123.7 226.3,125.4 226.3,127.1 226.3,128.8 226.4,130.6 226.4,132.3 226.4,134.0 226.4,135.7 226.4,137.4 226.4,139.0 226.5,140.7 226.5,142.3 226.5,143.9 226.5,145.5 226.5,147.0 226.6,148.5 226.6,150.0 226.6,151.5 226.7,153.0 226.7,154.5 226.7,156.0 226.8,157.4 226.8,158.9 226.8,160.4 226.9,161.8 226.9,163.3 226.9,164.7 227.0,166.2 227.0,167.6 227.0,169.1 227.1,170.5 227.1,172.0 227.1,173.4 227.2,174.9 227.2,176.3 227.3,177.8 227.3,179.2 227.3,180.7 227.4,182.1 227.4,183.6 227.4,185.0 227.5,186.5 227.5,188.0 227.5,189.5 227.6,190.9 227.6,192.4 227.7,193.9 227.7,195.4 227.7,196.9 227.8,198.5 227.8,200.0 227.8,201.4 227.9,202.8 227.9,204.2 227.9,205.7 228.0,207.1 228.0,208.6 228.0,210.1 228.1,211.5 228.1,213.0 228.1,214.5 228.2,216.0 228.2,217.5 228.2,219.0 228.3,220.5 228.3,222.1 228.3,223.6 228.4,225.1 228.4,226.6 228.4,228.1 228.5,229.7 228.5,231.2 228.6,232.7 228.6,234.2 228.6,235.7 228.7,237.2 228.7,238.7 228.7,240.2 228.8,241.7 228.8,243.2 228.8,244.6 228.9,246.1 228.9,247.5 229.0,249.0 229.0,250.4 229.0,251.8 229.1,253.2 229.1,254.6 229.2,256.0 229.2,257.3 229.3,258.7 229.3,260.0 229.4,261.6 229.4,263.2 229.5,264.8 229.5,266.4 229.6,267.9 229.6,269.4 229.7,270.9 229.8,272.4 229.8,273.9 229.9,275.4 229.9,276.8 230.0,278.3 230.1,279.7 230.1,281.2 230.2,282.6 230.2,284.0 230.3,285.5 230.4,286.9 230.4,288.3 230.5,289.8 230.6,291.2 230.6,292.6 230.7,294.1 230.8,295.6 230.9,297.0 230.9,298.5 231.0,300.0 231.1,301.4 231.1,302.9 231.2,304.3 231.3,305.8 231.4,307.3 231.4,308.7 231.5,310.2 231.6,311.7 231.7,313.2 231.8,314.6 231.8,316.1 231.9,317.6 232.0,319.1 232.1,320.6 232.2,322.1 232.2,323.5 232.3,325.0 232.4,326.5 232.5,327.9 232.6,329.4 232.6,330.8 232.7,332.3 232.8,333.7 232.9,335.1 233.0,336.5 233.1,337.9 233.1,339.3 233.2,340.7 233.3,342.0 233.4,343.6 233.5,345.2 233.6,346.7 233.7,348.3 233.7,349.8 233.8,351.3 233.9,352.8 234.0,354.3 234.1,355.7 234.1,357.2 234.2,358.7 234.3,360.1 234.4,361.6 234.5,363.0 234.6,364.5 234.7,366.0 234.8,367.4 234.9,368.9 235.0,370.3 235.2,371.8 235.3,373.3 235.4,374.7 235.6,376.2 235.7,377.7 235.9,379.1 236.1,380.6 236.2,382.1 236.4,383.6 236.6,385.2 236.8,386.7 237.0,388.2 237.2,389.6 237.4,391.1 237.6,392.6 237.8,394.0 237.9,395.5 238.1,396.9 238.3,398.2 238.5,399.6 238.7,400.9 238.9,402.2 239.0,403.4 239.2,404.6 239.4,406.2 239.6,407.7 239.9,409.1 240.1,410.5 240.3,411.9 240.5,413.2 240.7,414.5 240.9,415.8 241.1,417.1 241.3,418.5 241.5,420.0 241.7,421.4 241.9,422.8 242.0,424.2 242.2,425.7 242.4,427.1 242.5,428.6 242.7,430.1 242.9,431.6 243.0,433.1 243.2,434.5 243.4,436.0 243.6,437.4 243.9,438.7 244.1,440.0 244.4,441.6 244.8,443.0 245.1,444.5 245.5,445.8 245.9,447.2 246.3,448.6 246.8,449.9 247.2,451.4 247.6,452.8 248.0,454.1 248.4,455.5 248.7,456.9 249.1,458.3 249.5,459.7 249.9,461.1 250.3,462.5 250.8,463.9 251.2,465.2 251.7,466.6 252.2,467.9 252.8,469.2 253.4,470.6 254.0,471.9 254.6,473.2 255.3,474.5 256.0,475.7 256.7,477.0 257.3,478.2 258.0,479.5 258.6,480.7 259.3,482.1 259.9,483.4 260.5,484.7 261.1,486.0 261.7,487.3 262.3,488.5 263.0,489.8 263.8,491.1 264.6,492.3 265.4,493.5 266.3,494.7 267.2,495.9 268.2,497.1 269.2,498.2 270.2,499.4 271.2,500.6 272.1,501.7 273.1,502.8 274.1,503.9 275.1,505.1 276.1,506.2 277.1,507.2 278.1,508.3 279.2,509.4 280.2,510.4 281.2,511.4 282.3,512.4 283.4,513.3 284.4,514.2 285.5,515.1 286.6,516.0 287.7,516.9 288.8,517.7 289.9,518.5 291.0,519.4 292.1,520.2 293.3,521.1 294.5,522.0 295.7,522.8 296.9,523.7 298.1,524.5 299.3,525.3 300.6,526.2 301.9,527.1 303.0,527.9 304.2,528.6 305.4,529.4 306.6,530.2 307.8,531.0 309.0,531.8 310.3,532.6 311.5,533.5 312.9,534.3 314.2,535.1 315.6,535.9 316.7,536.5 317.9,537.2 319.1,537.9 320.3,538.5 321.6,539.2 322.8,539.9 324.1,540.6 325.4,541.3 326.7,541.9 328.0,542.6 329.3,543.3 330.7,543.9 332.0,544.6 333.3,545.2 334.6,545.8 335.8,546.4 337.1,547.0 338.4,547.6 339.7,548.2 341.0,548.8 342.3,549.3 343.7,549.9 345.0,550.4 346.3,551.0 347.6,551.5 348.9,552.0 350.2,552.5 351.5,553.0 352.8,553.5 354.1,553.9 355.4,554.4 356.7,554.8 358.1,555.2 359.5,555.6 360.9,556.0 362.2,556.4 363.6,556.7 365.0,557.1 366.4,557.4 367.8,557.7 369.2,558.0 370.6,558.4 372.0,558.7 373.4,559.0 374.9,559.4 376.3,559.7 377.7,560.0 379.2,560.4 380.6,560.8 382.1,561.1 383.6,561.5 385.1,561.8 386.6,562.2 388.0,562.5 389.5,562.9 391.0,563.3 392.4,563.6 393.8,564.0 395.2,564.3 396.5,564.7 397.8,565.0 399.3,565.4 400.7,565.8 402.0,566.2 403.4,566.6 404.6,567.0 405.9,567.4 407.2,567.8 408.6,568.2 410.0,568.6 411.5,569.0 412.8,569.3 414.1,569.6 415.5,569.9 416.9,570.2 418.3,570.5 419.8,570.9 421.2,571.2 422.7,571.4 424.2,571.7 425.7,572.0 427.2,572.3 428.7,572.6 430.2,572.9 431.6,573.1 433.1,573.4 434.5,573.7 436.0,573.9 437.4,574.1 438.8,574.4 440.3,574.6 441.7,574.8 443.1,575.1 444.6,575.3 446.0,575.5 447.4,575.7 448.9,575.9 450.3,576.1 451.7,576.4 453.2,576.6 454.6,576.8 456.0,577.0 457.5,577.3 458.9,577.5 460.4,577.7 461.8,577.9 463.2,578.2 464.7,578.4 466.1,578.6 467.6,578.8 469.0,579.1 470.4,579.3 471.9,579.5 473.3,579.7 474.8,579.9 476.2,580.1 477.6,580.3 479.1,580.5 480.5,580.6 481.9,580.8 483.4,581.0 484.8,581.1 486.2,581.3 487.7,581.4 489.1,581.6 490.5,581.7 492.0,581.9 493.4,582.0 494.8,582.2 496.3,582.3 497.7,582.5 499.1,582.7 500.6,582.8 502.0,583.0 503.5,583.2 504.9,583.4 506.3,583.6 507.8,583.8 509.2,584.0 510.7,584.1 512.1,584.3 513.5,584.5 515.0,584.7 516.4,584.9 517.9,585.0 519.3,585.2 520.7,585.4 522.2,585.5 523.6,585.7 525.0,585.8 526.5,586.0 527.9,586.1 529.3,586.3 530.8,586.4 532.2,586.6 533.6,586.7 535.1,586.9 536.5,587.0 537.9,587.1 539.4,587.3 540.8,587.4 542.2,587.5 543.7,587.6 545.1,587.7 546.6,587.9 548.0,588.0 549.4,588.1 550.9,588.2 552.3,588.2 553.8,588.3 555.2,588.4 556.6,588.5 558.1,588.6 559.5,588.7 561.0,588.8 562.4,588.9 563.9,589.0 565.4,589.1 567.0,589.2 568.6,589.3 570.2,589.4 571.8,589.5 573.4,589.6 574.9,589.7 576.5,589.8 577.9,589.9 579.3,590.0 580.6,590.1 581.8,590.2 582.9,590.2 583.9,590.3 585.7,590.5 587.1,590.7 588.3,590.5 589.4,590.0 590.4,589.2 591.2,588.0 591.5,587.2 591.7,586.3 591.9,585.3 592.0,584.1 592.1,582.9 592.1,581.5 592.1,580.1 592.1,578.6 592.0,577.0 592.0,575.3 592.0,573.6 592.0,571.8 592.0,570.0 592.0,569.0 592.1,567.9 592.1,566.8 592.1,565.7 592.1,564.5 592.1,563.3 592.2,562.0 592.2,560.7 592.2,559.4 592.2,558.0 592.2,556.6 592.2,555.2 592.3,553.8 592.3,552.3 592.3,550.9 592.3,549.4 592.3,547.8 592.3,546.3 592.3,544.7 592.3,543.1 592.3,541.6 592.4,540.0 592.4,538.3 592.4,536.7 592.4,535.1 592.4,533.4 592.4,531.8 592.4,530.1 592.4,528.5 592.4,526.8 592.4,525.2 592.4,523.5 592.4,521.9 592.5,520.2 592.5,518.6 592.5,517.0 592.5,515.4 592.5,513.7 592.5,512.1 592.5,510.6 592.5,509.0 592.5,507.4 592.5,505.9 592.6,504.4 592.6,502.9 592.6,501.4 592.6,500.0 592.6,498.5 592.6,497.0 592.7,495.5 592.7,494.0 592.7,492.5 592.7,491.0 592.7,489.5 592.7,488.0 592.8,486.5 592.8,485.0 592.8,483.6 592.8,482.1 592.8,480.6 592.8,479.2 592.9,477.7 592.9,476.2 592.9,474.8 592.9,473.3 592.9,471.9 593.0,470.4 593.0,469.0 593.0,467.5 593.0,466.1 593.0,464.6 593.0,463.2 593.1,461.8 593.1,460.3 593.1,458.9 593.1,457.4 593.2,456.0 593.2,454.5 593.2,453.1 593.2,451.6 593.2,450.2 593.3,448.7 593.3,447.3 593.3,445.8 593.3,444.4 593.4,442.9 593.4,441.5 593.4,440.0 593.4,438.5 593.4,437.1 593.5,435.6 593.5,434.1 593.5,432.7 593.6,431.2 593.6,429.8 593.6,428.3 593.6,426.8 593.7,425.4 593.7,423.9 593.7,422.4 593.7,421.0 593.8,419.5 593.8,418.0 593.8,416.6 593.9,415.1 593.9,413.7 593.9,412.2 593.9,410.7 594.0,409.3 594.0,407.8 594.0,406.3 594.1,404.9 594.1,403.4 594.1,402.0 594.2,400.5 594.2,399.0 594.2,397.6 594.3,396.1 594.3,394.6 594.3,393.2 594.3,391.7 594.4,390.2 594.4,388.8 594.4,387.3 594.5,385.9 594.5,384.4 594.5,382.9 594.6,381.5 594.6,380.0 594.6,378.5 594.7,377.0 594.7,375.5 594.7,374.0 594.8,372.5 594.8,371.0 594.8,369.4 594.8,367.9 594.9,366.3 594.9,364.8 594.9,363.2 595.0,361.7 595.0,360.1 595.0,358.5 595.0,357.0 595.1,355.4 595.1,353.8 595.1,352.3 595.2,350.7 595.2,349.2 595.2,347.6 595.3,346.1 595.3,344.6 595.3,343.0 595.4,341.5 595.4,340.0 595.4,338.6 595.5,337.1 595.5,335.7 595.5,334.2 595.6,332.8 595.6,331.4 595.7,330.1 595.7,328.7 595.7,327.4 595.8,326.1 595.8,324.8 595.9,323.6 595.9,322.4 596.0,321.2 596.0,320.0 596.1,318.2 596.1,316.5 596.2,314.8 596.3,313.2 596.4,311.6 596.4,310.0 596.5,308.5 596.6,307.0 596.6,305.6 596.7,304.2 596.8,302.8 596.9,301.4 597.0,300.1 597.1,298.8 597.2,297.5 597.4,296.2 597.5,295.0 597.7,293.4 597.9,291.9 598.2,290.5 598.5,289.1 598.7,287.7 599.0,286.4 599.2,285.1 599.5,283.7 599.7,282.3 599.9,280.9 600.0,279.6 600.2,278.2 600.3,276.7 600.4,275.3 600.5,273.9 600.6,272.6 600.8,271.2 600.9,269.9 601.1,268.6 601.3,267.1 601.6,265.7 601.9,264.3 602.2,262.9 602.5,261.6 602.8,260.2 603.1,258.8 603.4,257.5 603.7,256.2 604.0,254.9 604.3,253.6 604.6,252.3 604.9,251.0 605.2,249.8 605.5,248.5 605.8,247.1 606.2,245.8 606.6,244.5 606.9,243.1 607.3,241.8 607.6,240.5 608.0,239.2 608.3,237.9 608.7,236.6 609.0,235.3 609.3,234.0 609.7,232.8 610.0,231.6 610.4,230.5 611.0,229.2 611.5,228.0 612.2,226.8 612.8,225.6 613.4,224.4 614.0,223.1 614.6,221.8 615.3,220.4 616.0,219.0 616.6,217.9 617.2,216.8 617.9,215.7 618.6,214.5 619.3,213.4 620.1,212.2 620.8,210.9 621.6,209.7 622.3,208.6 623.0,207.4 623.8,206.2 624.6,205.0 625.3,203.8 626.1,202.6 626.9,201.3 627.7,200.1 628.5,199.0 629.3,197.8 630.0,196.7 630.8,195.4 631.7,194.2 632.5,193.0 633.3,191.9 634.1,190.7 634.9,189.6 635.7,188.5 636.5,187.4 637.3,186.3 638.1,185.3 638.9,184.2 639.7,183.2 640.5,182.2 641.3,181.3 642.1,180.3 643.0,179.3 643.9,178.3 644.8,177.3 645.7,176.3 646.7,175.4 647.7,174.4 648.7,173.5 649.7,172.5 650.8,171.6 651.9,170.7 652.9,169.8 654.0,168.8 655.1,167.9 656.2,167.0 657.3,166.0 658.4,165.1 659.5,164.1 660.5,163.2 661.6,162.3 662.6,161.4 663.7,160.4 664.8,159.5 665.8,158.7 666.9,157.7 668.1,156.7 669.0,155.8 670.0,154.9 671.0,153.9 672.0,152.9 673.1,151.9 674.2,150.9 675.3,149.8 676.5,148.8 677.7,147.8 678.8,146.9 680.0,146.1 681.2,145.2 682.5,144.4 683.8,143.5 685.1,142.6 686.4,141.8 687.7,141.0 688.9,140.2 690.1,139.4 691.3,138.6 692.3,137.9 693.6,136.9 694.7,136.0 695.8,135.2 696.9,134.3 698.0,133.5 699.4,132.6 700.4,132.0 701.5,131.4 702.6,130.7 703.8,130.1 705.0,129.4 706.3,128.8 707.6,128.1 709.0,127.5 710.3,126.8 711.7,126.2 713.0,125.5 714.4,124.9 715.7,124.4 717.0,123.8 718.3,123.2 719.7,122.7 721.0,122.2 722.4,121.7 723.7,121.2 725.1,120.8 726.5,120.3 727.8,119.9 729.2,119.4 730.5,119.0 731.9,118.5 733.2,118.1 734.6,117.6 736.0,117.1 737.3,116.6 738.7,116.1 740.0,115.6 741.4,115.1 742.7,114.6 744.1,114.1 745.4,113.7 746.8,113.2 748.1,112.7 749.5,112.3 750.8,111.8 752.2,111.4 753.5,111.0 754.9,110.6 756.2,110.3 757.5,109.9 758.9,109.6 760.2,109.2 761.5,108.9 762.9,108.6 764.2,108.3 765.6,108.0 767.1,107.6 768.5,107.3 770.0,107.0 771.3,106.7 772.7,106.4 774.1,106.1 775.6,105.9 777.1,105.6 778.6,105.3 780.1,105.0 781.6,104.7 783.2,104.4 784.7,104.2 786.2,103.9 787.7,103.6 789.2,103.3 790.7,103.1 792.2,102.8 793.6,102.5 795.0,102.3 796.3,102.0 797.9,101.7 799.3,101.4 800.7,101.1 802.1,100.8 803.5,100.5 804.8,100.2 806.2,99.9 807.5,99.6 809.0,99.4 810.4,99.1 812.0,98.8 813.6,98.5 814.8,98.3 816.1,98.1 817.4,97.9 818.8,97.7 820.1,97.4 821.5,97.2 823.0,97.0 824.4,96.8 825.9,96.6 827.4,96.4 828.9,96.2 830.4,95.9 831.9,95.7 833.4,95.5 834.9,95.3 836.5,95.1 838.0,94.9 839.5,94.7 841.0,94.5 842.6,94.3 844.1,94.2 845.5,94.0 847.0,93.8 848.5,93.6 849.9,93.5 851.4,93.3 852.8,93.1 854.3,93.0 855.7,92.8 857.2,92.6 858.6,92.5 860.1,92.3 861.5,92.2 863.0,92.0 864.4,91.9 865.9,91.7 867.3,91.6 868.8,91.5 870.2,91.3 871.7,91.2 873.1,91.1 874.6,91.0 876.0,90.8 877.5,90.7 878.9,90.6 880.4,90.5 881.9,90.4 883.4,90.3 884.9,90.2 886.4,90.1 888.0,90.0 889.6,89.9 891.1,89.8 892.7,89.7 894.3,89.6 895.9,89.6 897.4,89.5 899.0,89.4 900.5,89.4 902.0,89.3 903.5,89.2 905.0,89.2 906.4,89.1 907.7,89.0 909.1,89.0 910.3,88.9 911.6,88.9 912.7,88.8 913.8,88.8 915.6,88.7 917.5,88.7 919.3,88.6 921.0,88.6 922.5,88.5 923.7,88.5 924.5,88.5 924.8,88.5 924.8,88.5 924.8,88.5 925.1,88.5 925.8,88.4 926.9,88.3 928.3,88.2 929.9,88.1 931.7,87.9 933.5,87.8 935.3,87.6 937.0,87.5 938.5,87.3 939.8,87.2 941.4,87.0 943.0,86.8 944.4,86.6 945.7,86.4 946.8,86.5 948.1,86.8 949.0,87.5 949.4,88.2 949.7,89.2 949.9,90.4 950.0,91.7 950.1,93.3 950.3,95.0 950.4,95.8 950.4,96.7 950.5,97.7 950.6,98.8 950.6,99.9 950.7,101.1 950.7,102.3 950.8,103.6 950.8,104.9 950.8,106.3 950.9,107.7 950.9,109.2 950.9,110.7 951.0,112.2 951.0,113.8 951.0,115.4 951.0,117.0 951.0,118.7 951.1,120.3 951.1,122.0 951.1,123.7 951.1,125.4 951.1,127.1 951.1,128.8 951.2,130.6 951.2,132.3 951.2,134.0 951.2,135.7 951.2,137.4 951.2,139.0 951.3,140.7 951.3,142.3 951.3,143.9 951.3,145.5 951.3,147.0 951.4,148.5 951.4,150.0 951.4,151.5 951.5,153.0 951.5,154.5 951.5,156.0 951.6,157.4 951.6,158.9 951.6,160.4 951.7,161.8 951.7,163.3 951.7,164.7 951.8,166.2 951.8,167.6 951.8,169.1 951.9,170.5 951.9,172.0 951.9,173.4 952.0,174.9 952.0,176.3 952.1,177.8 952.1,179.2 952.1,180.7 952.2,182.1 952.2,183.6 952.2,185.0 952.3,186.5 952.3,188.0 952.3,189.5 952.4,190.9 952.4,192.4 952.5,193.9 952.5,195.4 952.5,196.9 952.6,198.5 952.6,200.0 952.6,201.4 952.7,202.8 952.7,204.2 952.7,205.7 952.8,207.1 952.8,208.6 952.8,210.1 952.9,211.5 952.9,213.0 952.9,214.5 953.0,216.0 953.0,217.5 953.0,219.0 953.1,220.5 953.1,222.1 953.1,223.6 953.2,225.1 953.2,226.6 953.2,228.1 953.3,229.7 953.3,231.2 953.4,232.7 953.4,234.2 953.4,235.7 953.5,237.2 953.5,238.7 953.5,240.2 953.6,241.7 953.6,243.2 953.6,244.6 953.7,246.1 953.7,247.5 953.8,249.0 953.8,250.4 953.8,251.8 953.9,253.2 953.9,254.6 954.0,256.0 954.0,257.3 954.1,258.7 954.1,260.0 954.2,261.6 954.2,263.2 954.3,264.8 954.3,266.4 954.4,267.9 954.4,269.4 954.5,270.9 954.6,272.4 954.6,273.9 954.7,275.4 954.7,276.8 954.8,278.3 954.9,279.7 954.9,281.2 955.0,282.6 955.0,284.0 955.1,285.5 955.2,286.9 955.2,288.3 955.3,289.8 955.4,291.2 955.4,292.6 955.5,294.1 955.6,295.6 955.7,297.0 955.7,298.5 955.8,300.0 955.9,301.4 955.9,302.9 956.0,304.3 956.1,305.8 956.2,307.3 956.2,308.7 956.3,310.2 956.4,311.7 956.5,313.2 956.6,314.6 956.6,316.1 956.7,317.6 956.8,319.1 956.9,320.6 957.0,322.1 957.0,323.5 957.1,325.0 957.2,326.5 957.3,327.9 957.4,329.4 957.4,330.8 957.5,332.3 957.6,333.7 957.7,335.1 957.8,336.5 957.9,337.9 957.9,339.3 958.0,340.7 958.1,342.0 958.2,343.6 958.3,345.2 958.4,346.7 958.5,348.3 958.5,349.8 958.6,351.3 958.7,352.8 958.8,354.3 958.9,355.7 958.9,357.2 959.0,358.7 959.1,360.1 959.2,361.6 959.3,363.0 959.4,364.5 959.5,366.0 959.6,367.4 959.7,368.9 959.8,370.3 960.0,371.8 960.1,373.3 960.2,374.7 960.4,376.2 960.5,377.7 960.7,379.1 960.9,380.6 961.0,382.1 961.2,383.6 961.4,385.2 961.6,386.7 961.8,388.2 962.0,389.6 962.2,391.1 962.4,392.6 962.6,394.0 962.7,395.5 962.9,396.9 963.1,398.2 963.3,399.6 963.5,400.9 963.7,402.2 963.8,403.4 964.0,404.6 964.2,406.2 964.4,407.7 964.7,409.1 964.9,410.5 965.1,411.9 965.3,413.2 965.5,414.5 965.7,415.8 965.9,417.1 966.1,418.5 966.3,420.0 966.5,421.4 966.7,422.8 966.8,424.2 967.0,425.7 967.2,427.1 967.3,428.6 967.5,430.1 967.7,431.6 967.8,433.1 968.0,434.5 968.2,436.0 968.4,437.4 968.7,438.7 968.9,440.0 969.2,441.6 969.6,443.0 969.9,444.5 970.3,445.8 970.7,447.2 971.1,448.6 971.6,449.9 972.0,451.4 972.4,452.8 972.8,454.1 973.2,455.5 973.5,456.9 973.9,458.3 974.3,459.7 974.7,461.1 975.1,462.5 975.6,463.9 976.0,465.2 976.5,466.6 977.0,467.9 977.6,469.2 978.2,470.6 978.8,471.9 979.4,473.2 980.1,474.5 980.8,475.7 981.5,477.0 982.1,478.2 982.8,479.5 983.4,480.7 984.1,482.1 984.7,483.4 985.3,484.7 985.9,486.0 986.5,487.3 987.1,488.5 987.8,489.8 988.6,491.1 989.4,492.3 990.2,493.5 991.1,494.7 992.0,495.9 993.0,497.1 994.0,498.2 995.0,499.4 996.0,500.6 996.9,501.7 997.9,502.8 998.9,503.9 999.9,505.1 1000.9,506.2 1001.9,507.2 1002.9,508.3 1004.0,509.4 1005.0,510.4 1006.0,511.4 1007.1,512.4 1008.2,513.3 1009.2,514.2 1010.3,515.1 1011.4,516.0 1012.5,516.9 1013.6,517.7 1014.7,518.5 1015.8,519.4 1016.9,520.2 1018.1,521.1 1019.3,522.0 1020.5,522.8 1021.7,523.7 1022.9,524.5 1024.1,525.3 1025.4,526.2 1026.7,527.1 1027.8,527.9 1029.0,528.6 1030.2,529.4 1031.4,530.2 1032.6,531.0 1033.8,531.8 1035.1,532.6 1036.3,533.5 1037.7,534.3 1039.0,535.1 1040.4,535.9 1041.5,536.5 1042.7,537.2 1043.9,537.9 1045.1,538.5 1046.4,539.2 1047.6,539.9 1048.9,540.6 1050.2,541.3 1051.5,541.9 1052.8,542.6 1054.1,543.3 1055.5,543.9 1056.8,544.6 1058.1,545.2 1059.4,545.8 1060.6,546.4 1061.9,547.0 1063.2,547.6 1064.5,548.2 1065.8,548.7 1067.2,549.3 1068.5,549.8 1069.8,550.3 1071.1,550.8 1072.4,551.3 1073.7,551.8 1075.0,552.3 1076.3,552.8 1077.6,553.3 1078.9,553.8 1080.2,554.3 1081.5,554.8" stroke="#009E73" stroke-width="5.3" stroke-linecap="round" stroke-linejoin="round" fill="none" stroke-dasharray="13 10.3 0 10.35"/>
<path d="M92.1,223.0 93.5,222.6 95.0,222.3 96.4,221.9 97.8,221.5 99.2,221.1 100.6,220.8 102.1,220.4 103.5,220.0 104.9,219.6 106.3,219.3 107.8,218.9 109.2,218.5 110.6,218.1 112.0,217.8 113.5,217.4 114.9,217.0 116.4,216.7 117.8,216.3 119.3,216.0 120.7,215.6 122.2,215.3 123.6,215.0 125.0,214.7 126.5,214.3 127.9,214.0 129.3,213.7 130.8,213.4 132.2,213.1 133.7,212.8 135.1,212.5 136.6,212.2 138.0,211.9 139.5,211.7 141.0,211.4 142.4,211.1 143.9,210.8 145.4,210.5 146.8,210.2 148.3,210.0 149.8,209.7 151.2,209.4 152.7,209.1 154.1,208.9 155.6,208.6 157.1,208.3 158.6,208.1 160.1,207.8 161.6,207.5 163.2,207.3 164.8,207.0 166.3,206.7 167.9,206.5 169.5,206.2 171.1,206.0 172.6,205.7 174.2,205.5 175.7,205.2 177.2,205.0 178.7,204.7 180.2,204.5 181.6,204.3 182.9,204.0 184.3,203.8 185.5,203.6 186.8,203.4 187.9,203.2 189.0,203.0 190.8,202.7 192.7,202.3 194.5,201.9 196.3,201.6 197.7,201.3 198.9,201.0 199.7,200.9 200.0,200.8 200.0,200.8 200.0,200.8 200.4,200.7 201.5,200.5 203.0,200.2 204.8,199.8 206.7,199.5 208.5,199.1 210.0,198.8 211.3,198.5 212.5,198.3 213.7,198.1 214.9,197.8 216.0,197.6 217.3,197.3 218.6,197.0 219.9,196.8 221.0,196.6 222.4,196.3 223.6,196.4 224.7,197.2 225.6,198.5 226.0,199.4 226.2,200.4 226.4,201.6 226.6,203.0 226.7,204.0 226.8,205.2 226.9,206.4 227.0,207.8 227.0,209.2 227.1,210.8 227.1,212.3 227.2,213.9 227.2,215.6 227.3,217.2 227.3,218.8 227.3,220.4 227.4,222.0 227.4,223.4 227.5,224.8 227.5,226.3 227.6,227.8 227.6,229.2 227.6,230.7 227.7,232.2 227.7,233.7 227.7,235.3 227.8,236.8 227.8,238.3 227.9,239.8 228.0,241.3 228.0,242.8 228.1,244.3 228.2,245.8 228.3,247.3 228.4,248.8 228.6,250.2 228.7,251.7 228.9,253.2 229.0,254.7 229.2,256.2 229.4,257.7 229.5,259.1 229.7,260.6 229.9,262.1 230.0,263.5 230.2,265.0 230.3,266.4 230.5,267.9 230.6,269.3 230.7,270.8 230.8,272.3 231.0,273.7 231.1,275.2 231.2,276.6 231.3,278.1 231.3,279.5 231.4,280.9 231.5,282.4 231.6,283.8 231.7,285.3 231.9,286.7 232.0,288.2 232.1,289.7 232.2,291.1 232.4,292.6 232.5,294.0 232.6,295.5 232.8,297.0 232.9,298.5 233.0,300.0 233.2,301.5 233.3,303.0 233.5,304.5 233.6,306.0 233.8,307.5 234.0,308.9 234.1,310.4 234.3,311.8 234.5,313.2 234.7,314.7 234.9,316.2 235.1,317.7 235.3,319.1 235.5,320.5 235.8,321.9 236.0,323.3 236.2,324.8 236.5,326.2 236.7,327.6 237.0,329.0 237.3,330.5 237.6,332.0 237.9,333.4 238.2,334.8 238.5,336.2 238.8,337.6 239.1,339.1 239.4,340.5 239.7,342.0 240.1,343.5 240.4,344.9 240.8,346.4 241.1,347.8 241.5,349.3 241.9,350.7 242.3,352.0 242.7,353.4 243.1,354.7 243.6,356.2 244.1,357.6 244.6,359.0 245.2,360.4 245.7,361.8 246.3,363.1 246.8,364.5 247.4,365.8 248.0,367.2 248.7,368.5 249.3,369.9 250.0,371.3 250.6,372.6 251.3,373.9 251.9,375.2 252.6,376.6 253.2,378.0 253.9,379.4 254.7,380.7 255.4,382.1 256.1,383.4 256.9,384.8 257.6,386.1 258.4,387.4 259.1,388.6 259.9,389.8 260.7,390.9 261.6,392.1 262.6,393.3 263.5,394.4 264.5,395.5 265.5,396.5 266.5,397.5 267.5,398.5 268.5,399.5 269.5,400.5 270.5,401.6 271.5,402.7 272.4,403.8 273.4,404.9 274.4,406.1 275.3,407.2 276.3,408.4 277.3,409.6 278.2,410.8 279.2,411.9 280.2,413.1 281.2,414.2 282.2,415.3 283.2,416.4 284.2,417.4 285.2,418.4 286.3,419.4 287.3,420.3 288.4,421.2 289.4,422.0 290.4,422.9 291.5,423.7 292.6,424.6 293.7,425.4 294.8,426.3 296.0,427.2 297.1,428.0 298.2,428.9 299.3,429.7 300.5,430.6 301.7,431.4 302.9,432.3 304.1,433.1 305.3,434.0 306.6,434.8 307.8,435.7 309.0,436.5 310.2,437.3 311.4,438.1 312.6,438.9 313.8,439.7 315.0,440.5 316.2,441.3 317.4,442.1 318.6,442.8 319.8,443.6 321.0,444.4 322.2,445.1 323.4,445.9 324.7,446.6 325.9,447.3 327.1,448.0 328.3,448.7 329.6,449.4 330.9,450.1 332.2,450.8 333.5,451.5 334.8,452.1 336.1,452.8 337.4,453.4 338.8,454.0 340.1,454.7 341.4,455.3 342.7,455.9 344.0,456.6 345.3,457.3 346.6,457.9 347.9,458.6 349.2,459.3 350.5,459.9 351.8,460.6 353.1,461.3 354.4,461.9 355.7,462.6 357.0,463.2 358.3,463.8 359.6,464.4 360.9,465.0 362.2,465.5 363.5,466.0 364.8,466.5 366.2,467.0 367.5,467.5 368.8,468.0 370.1,468.4 371.4,468.9 372.7,469.4 374.0,469.8 375.3,470.3 376.7,470.8 378.0,471.3 379.3,471.8 380.6,472.2 381.9,472.7 383.2,473.1 384.6,473.6 386.0,474.1 387.5,474.6 389.0,475.2 390.1,475.6 391.3,476.1 392.5,476.5 393.8,477.0 395.0,477.5 396.3,478.0 397.6,478.5 399.0,479.0 400.3,479.6 401.7,480.1 403.1,480.6 404.5,481.2 405.9,481.7 407.3,482.2 408.8,482.7 410.2,483.3 411.6,483.8 413.1,484.3 414.5,484.7 415.9,485.2 417.2,485.6 418.6,486.0 419.9,486.5 421.3,486.9 422.7,487.3 424.1,487.7 425.4,488.1 426.8,488.4 428.2,488.8 429.6,489.2 431.1,489.6 432.5,490.0 433.9,490.3 435.3,490.7 436.7,491.1 438.2,491.4 439.6,491.8 441.0,492.1 442.5,492.5 443.9,492.8 445.3,493.2 446.8,493.6 448.2,493.9 449.6,494.2 451.0,494.6 452.5,494.9 453.9,495.2 455.3,495.6 456.8,495.9 458.2,496.2 459.7,496.5 461.1,496.8 462.6,497.2 464.1,497.5 465.5,497.8 467.0,498.1 468.4,498.4 469.9,498.7 471.3,499.0 472.8,499.3 474.2,499.6 475.6,499.9 477.1,500.2 478.5,500.5 479.9,500.8 481.3,501.1 482.7,501.4 484.2,501.7 485.6,502.0 487.1,502.4 488.5,502.7 490.0,503.0 491.4,503.3 492.8,503.7 494.2,504.0 495.6,504.3 497.0,504.6 498.4,504.9 499.9,505.2 501.3,505.5 502.7,505.9 504.1,506.2 505.5,506.5 507.0,506.8 508.4,507.0 509.9,507.3 511.3,507.6 512.8,507.9 514.2,508.2 515.6,508.4 517.0,508.6 518.4,508.9 519.8,509.1 521.3,509.3 522.7,509.6 524.2,509.8 525.6,510.0 527.1,510.2 528.5,510.4 530.0,510.6 531.4,510.8 532.9,511.0 534.3,511.3 535.8,511.5 537.3,511.7 538.7,511.9 540.2,512.1 541.6,512.3 543.0,512.6 544.5,512.8 545.9,513.1 547.3,513.3 548.8,513.6 550.4,513.9 551.9,514.1 553.5,514.5 555.2,514.8 556.8,515.1 558.4,515.4 560.1,515.7 561.7,516.0 563.3,516.4 564.9,516.7 566.5,517.0 568.0,517.3 569.5,517.6 571.0,517.9 572.4,518.2 573.8,518.5 575.1,518.8 576.3,519.0 577.5,519.3 578.6,519.5 579.6,519.7 581.3,520.1 582.8,520.6 584.2,521.1 585.5,521.4 586.6,521.5 587.5,521.3 588.3,520.6 588.8,519.7 589.2,518.4 589.6,517.0 589.8,516.0 590.0,514.9 590.1,513.6 590.2,512.3 590.3,510.9 590.3,509.4 590.4,507.8 590.4,506.3 590.4,504.7 590.5,503.1 590.5,501.5 590.6,500.0 590.7,498.7 590.8,497.3 590.9,495.9 591.0,494.6 591.0,493.2 591.1,491.7 591.2,490.3 591.3,488.9 591.4,487.4 591.5,486.0 591.6,484.5 591.7,483.1 591.8,481.6 591.9,480.2 592.0,478.7 592.1,477.3 592.2,475.9 592.3,474.4 592.3,473.0 592.4,471.5 592.5,470.1 592.6,468.6 592.6,467.1 592.7,465.7 592.8,464.2 592.9,462.8 592.9,461.3 593.0,459.9 593.1,458.5 593.2,457.1 593.3,455.7 593.4,454.3 593.5,452.8 593.6,451.3 593.8,449.8 593.9,448.3 594.0,446.9 594.2,445.4 594.3,444.0 594.5,442.6 594.6,441.1 594.8,439.6 595.0,438.2 595.1,436.6 595.3,435.1 595.5,433.7 595.6,432.3 595.8,430.9 596.0,429.5 596.1,428.0 596.3,426.6 596.5,425.1 596.7,423.6 596.9,422.1 597.1,420.7 597.3,419.2 597.5,417.8 597.7,416.3 597.9,414.9 598.1,413.5 598.3,412.1 598.5,410.8 598.7,409.3 599.0,407.9 599.2,406.5 599.4,405.1 599.7,403.7 599.9,402.3 600.1,400.9 600.4,399.6 600.6,398.3 600.9,396.9 601.2,395.6 601.4,394.3 601.7,393.0 602.0,391.6 602.3,390.1 602.6,388.7 603.0,387.3 603.3,385.9 603.7,384.5 604.0,383.1 604.4,381.8 604.7,380.5 605.1,379.2 605.5,378.0 606.0,376.5 606.6,375.2 607.1,373.8 607.7,372.5 608.3,371.3 608.8,370.0 609.4,368.7 609.9,367.4 610.5,366.1 611.0,364.8 611.5,363.5 612.0,362.2 612.6,360.9 613.2,359.7 613.9,358.4 614.5,357.3 615.2,356.1 616.0,355.0 616.7,353.7 617.6,352.3 618.2,351.3 618.9,350.1 619.6,349.0 620.3,347.7 621.0,346.4 621.8,345.1 622.6,343.7 623.4,342.4 624.2,341.0 625.0,339.7 625.8,338.4 626.6,337.1 627.4,335.9 628.2,334.7 629.1,333.5 629.9,332.3 630.8,331.1 631.6,330.0 632.5,328.9 633.3,327.9 634.2,326.8 635.1,325.7 636.0,324.6 636.9,323.5 637.9,322.3 638.7,321.3 639.6,320.2 640.5,319.2 641.4,318.1 642.3,317.1 643.2,316.0 644.2,314.9 645.1,313.8 646.1,312.7 647.0,311.7 648.0,310.6 649.0,309.5 650.0,308.5 651.0,307.4 652.0,306.4 653.0,305.4 654.1,304.3 655.2,303.3 656.3,302.2 657.4,301.2 658.5,300.2 659.6,299.2 660.7,298.2 661.8,297.2 663.0,296.2 664.1,295.2 665.3,294.3 666.4,293.3 667.6,292.4 668.7,291.5 669.9,290.6 671.1,289.7 672.2,288.9 673.4,288.0 674.6,287.2 675.9,286.4 677.1,285.6 678.3,284.8 679.5,284.0 680.7,283.2 681.9,282.4 683.1,281.6 684.3,280.8 685.5,280.0 686.7,279.2 687.9,278.3 689.0,277.5 690.2,276.7 691.4,275.8 692.5,275.0 693.7,274.1 694.8,273.3 696.0,272.5 697.2,271.7 698.4,270.8 699.6,270.0 700.8,269.3 702.0,268.5 703.2,267.7 704.5,267.0 705.7,266.3 706.9,265.6 708.2,264.9 709.4,264.2 710.6,263.5 711.9,262.8 713.2,262.2 714.5,261.5 715.9,260.8 717.2,260.1 718.6,259.4 720.1,258.7 721.3,258.1 722.5,257.5 723.8,256.9 725.0,256.3 726.3,255.7 727.6,255.1 729.0,254.5 730.3,253.9 731.7,253.2 733.1,252.6 734.5,252.0 735.9,251.4 737.3,250.7 738.7,250.1 740.1,249.5 741.5,248.9 743.0,248.3 744.4,247.7 745.8,247.1 747.3,246.5 748.7,246.0 750.1,245.4 751.4,244.9 752.8,244.3 754.2,243.8 755.5,243.3 756.9,242.8 758.3,242.3 759.7,241.8 761.1,241.3 762.5,240.8 763.8,240.3 765.2,239.8 766.6,239.4 768.1,238.9 769.5,238.4 770.9,237.9 772.3,237.4 773.7,237.0 775.1,236.5 776.5,236.0 777.9,235.6 779.3,235.1 780.7,234.6 782.1,234.2 783.5,233.7 784.9,233.2 786.3,232.8 787.7,232.3 789.1,231.8 790.5,231.4 791.9,230.9 793.3,230.4 794.7,230.0 796.1,229.5 797.5,229.0 798.9,228.6 800.3,228.1 801.7,227.7 803.1,227.2 804.5,226.8 805.9,226.3 807.3,225.9 808.6,225.5 810.0,225.0 811.4,224.6 812.8,224.2 814.2,223.8 815.5,223.4 816.9,223.0 818.4,222.6 819.8,222.2 821.3,221.8 822.7,221.4 824.1,221.0 825.5,220.6 827.0,220.2 828.4,219.8 829.8,219.5 831.2,219.1 832.6,218.7 834.0,218.4 835.5,218.0 836.9,217.7 838.3,217.3 839.7,217.0 841.2,216.7 842.6,216.3 844.1,216.0 845.5,215.6 847.0,215.3 848.4,215.0 849.8,214.7 851.3,214.3 852.7,214.0 854.1,213.7 855.6,213.4 857.0,213.1 858.5,212.8 859.9,212.5 861.4,212.2 862.8,211.9 864.3,211.7 865.8,211.4 867.2,211.1 868.7,210.8 870.2,210.5 871.6,210.2 873.1,210.0 874.6,209.7 876.0,209.4 877.5,209.1 878.9,208.9 880.4,208.6 881.9,208.3 883.4,208.1 884.9,207.8 886.4,207.5 888.0,207.3 889.6,207.0 891.1,206.7 892.7,206.5 894.3,206.2 895.9,206.0 897.4,205.7 899.0,205.5 900.5,205.2 902.0,205.0 903.5,204.7 905.0,204.5 906.4,204.3 907.7,204.0 909.1,203.8 910.3,203.6 911.6,203.4 912.7,203.2 913.8,203.0 915.6,202.7 917.5,202.3 919.3,201.9 921.1,201.6 922.5,201.3 923.7,201.0 924.5,200.9 924.8,200.8 924.8,200.8 924.8,200.8 925.2,200.7 926.3,200.5 927.8,200.2 929.6,199.8 931.5,199.5 933.3,199.1 934.8,198.8 936.1,198.5 937.3,198.3 938.5,198.1 939.7,197.8 940.8,197.6 942.1,197.3 943.4,197.0 944.7,196.8 945.8,196.6 947.2,196.3 948.4,196.4 949.5,197.2 950.4,198.5 950.8,199.4 951.0,200.4 951.2,201.6 951.4,203.0 951.5,204.0 951.6,205.2 951.7,206.4 951.8,207.8 951.8,209.2 951.9,210.8 951.9,212.3 952.0,213.9 952.0,215.6 952.1,217.2 952.1,218.8 952.1,220.4 952.2,222.0 952.2,223.4 952.3,224.8 952.3,226.3 952.4,227.8 952.4,229.2 952.4,230.7 952.5,232.2 952.5,233.7 952.5,235.3 952.6,236.8 952.6,238.3 952.7,239.8 952.8,241.3 952.8,242.8 952.9,244.3 953.0,245.8 953.1,247.3 953.2,248.8 953.4,250.2 953.5,251.7 953.7,253.2 953.8,254.7 954.0,256.2 954.2,257.7 954.3,259.1 954.5,260.6 954.7,262.1 954.8,263.5 955.0,265.0 955.1,266.4 955.3,267.9 955.4,269.3 955.5,270.8 955.6,272.3 955.8,273.7 955.9,275.2 956.0,276.6 956.1,278.1 956.1,279.5 956.2,280.9 956.3,282.4 956.4,283.8 956.5,285.3 956.7,286.7 956.8,288.2 956.9,289.7 957.0,291.1 957.2,292.6 957.3,294.0 957.4,295.5 957.6,297.0 957.7,298.5 957.8,300.0 958.0,301.5 958.1,303.0 958.3,304.5 958.4,306.0 958.6,307.5 958.8,308.9 958.9,310.4 959.1,311.8 959.3,313.2 959.5,314.7 959.7,316.2 959.9,317.7 960.1,319.1 960.3,320.5 960.6,321.9 960.8,323.3 961.0,324.8 961.3,326.2 961.5,327.6 961.8,329.0 962.1,330.5 962.4,332.0 962.7,333.4 963.0,334.8 963.3,336.2 963.6,337.6 963.9,339.1 964.2,340.5 964.5,342.0 964.9,343.5 965.2,344.9 965.6,346.4 965.9,347.8 966.3,349.3 966.7,350.7 967.1,352.0 967.5,353.4 967.9,354.7 968.4,356.2 968.9,357.6 969.4,359.0 970.0,360.4 970.5,361.8 971.1,363.1 971.6,364.5 972.2,365.8 972.8,367.2 973.5,368.5 974.1,369.9 974.8,371.3 975.4,372.6 976.1,373.9 976.7,375.2 977.4,376.6 978.0,378.0 978.7,379.4 979.5,380.7 980.2,382.1 980.9,383.4 981.7,384.8 982.4,386.1 983.2,387.4 983.9,388.6 984.7,389.8 985.5,390.9 986.4,392.1 987.4,393.3 988.3,394.4 989.3,395.5 990.3,396.5 991.3,397.5 992.3,398.5 993.3,399.5 994.3,400.5 995.3,401.6 996.3,402.7 997.2,403.8 998.2,404.9 999.2,406.1 1000.1,407.2 1001.1,408.4 1002.1,409.6 1003.0,410.8 1004.0,411.9 1005.0,413.1 1006.0,414.2 1007.0,415.3 1008.0,416.4 1009.0,417.4 1010.0,418.4 1011.1,419.4 1012.1,420.3 1013.2,421.2 1014.2,422.0 1015.2,422.9 1016.3,423.7 1017.4,424.6 1018.5,425.4 1019.6,426.3 1020.8,427.2 1021.9,428.0 1023.0,428.9 1024.1,429.7 1025.3,430.6 1026.5,431.4 1027.7,432.3 1028.9,433.1 1030.1,434.0 1031.4,434.8 1032.6,435.7 1033.8,436.5 1035.0,437.3 1036.2,438.1 1037.4,438.9 1038.6,439.7 1039.8,440.5 1041.0,441.3 1042.2,442.1 1043.4,442.8 1044.6,443.6 1045.8,444.4 1047.0,445.1 1048.2,445.9 1049.5,446.6 1050.7,447.3 1051.9,448.0 1053.1,448.7 1054.4,449.4 1055.7,450.1 1057.0,450.8 1058.3,451.5 1059.6,452.1 1060.9,452.8 1062.2,453.4 1063.6,454.0 1064.9,454.7 1066.2,455.3 1067.5,455.9 1068.8,456.6 1070.1,457.3 1071.4,457.9 1072.7,458.6 1074.0,459.2 1075.3,459.9 1076.6,460.5 1077.9,461.2 1079.2,461.8 1080.5,462.5 1081.8,463.1 1083.1,463.8 1084.4,464.4" stroke="#D55E00" stroke-width="5.3" stroke-linecap="round" stroke-linejoin="round" fill="none" stroke-dasharray="18.4 24.8"/>
</g>
<g clip-path="url(#cb)">
<path d="M140.0,1124.2 140.5,1126.1 141.0,1124.2 141.5,1124.5 142.0,1124.5 142.5,1123.8 143.0,1123.1 143.5,1124.6 144.0,1124.1 144.5,1122.1 145.0,1125.4 145.5,1124.1 146.0,1122.5 146.5,1123.7 147.0,1122.4 147.5,1122.6 148.0,1123.1 148.5,1121.3 149.0,1122.6 149.5,1123.1 150.0,1122.8 150.5,1121.4 151.0,1122.1 151.5,1120.0 152.0,1121.0 152.5,1121.3 153.0,1119.7 153.5,1120.5 154.0,1121.8 154.5,1122.3 155.0,1120.7 155.5,1120.6 156.0,1119.0 156.5,1118.6 157.0,1118.3 157.5,1119.7 158.0,1119.7 158.5,1118.4 159.0,1117.8 159.5,1118.8 160.0,1118.7 160.5,1118.2 161.0,1119.1 161.5,1117.9 162.0,1117.8 162.5,1116.8 163.0,1117.6 163.5,1118.4 164.0,1117.2 164.5,1117.1 165.0,1117.2 165.5,1116.9 166.0,1117.0 166.5,1116.8 167.0,1116.7 167.5,1115.5 168.0,1116.2 168.5,1114.5 169.0,1115.8 169.5,1114.5 170.0,1115.3 170.5,1115.6 171.0,1114.7 171.5,1115.0 172.0,1113.4 172.5,1113.9 173.0,1115.0 173.5,1113.4 174.0,1114.6 174.5,1112.9 175.0,1113.1 175.5,1112.8 176.0,1113.5 176.5,1113.8 177.0,1112.4 177.5,1113.0 178.0,1114.3 178.5,1112.6 179.0,1112.0 179.5,1112.8 180.0,1112.2 180.5,1111.7 181.0,1110.7 181.5,1112.6 182.0,1111.4 182.5,1111.7 183.0,1110.7 183.5,1112.4 184.0,1111.9 184.5,1111.9 185.0,1110.9 185.5,1111.2 186.0,1111.4 186.5,1111.4 187.0,1110.7 187.5,1110.3 188.0,1109.9 188.5,1109.4 189.0,1109.1 189.5,1110.1 190.0,1109.4 190.5,1107.9 191.0,1109.2 191.5,1110.1 192.0,1108.9 192.5,1107.5 193.0,1108.7 193.5,1109.3 194.0,1108.7 194.5,1108.1 195.0,1109.8 195.5,1109.7 196.0,1108.0 196.5,1108.6 197.0,1108.1 197.5,1108.3 198.0,1108.7 198.5,1108.1 199.0,1107.4 199.5,1106.6 200.0,1106.4 200.5,1106.9 201.0,1107.7 201.5,1106.9 202.0,1106.6 202.5,1106.6 203.0,1106.3 203.5,1106.6 204.0,1105.1 204.5,1104.3 205.0,1105.5 205.5,1104.8 206.0,1106.8 206.5,1105.3 207.0,1105.1 207.5,1104.0 208.0,1105.3 208.5,1104.5 209.0,1105.7 209.5,1105.4 210.0,1104.0 210.5,1104.8 211.0,1102.2 211.5,1103.7 212.0,1105.1 212.5,1104.6 213.0,1104.0 213.5,1103.7 214.0,1102.5 214.5,1102.5 215.0,1103.6 215.5,1104.7 216.0,1101.5 216.5,1103.6 217.0,1103.5 217.5,1103.6 218.0,1102.0 218.5,1102.2 219.0,1102.6 219.5,1101.6 220.0,1101.3 220.5,1101.5 221.0,1102.0 221.5,1102.3 222.0,1101.8 222.5,1101.8 223.0,1101.1 223.5,1100.9 224.0,1102.3 224.5,1133.3 225.0,1135.6 225.5,1138.7 226.0,1141.2 226.5,1143.4 227.0,1144.9 227.5,1146.8 228.0,1149.2 228.5,1151.2 229.0,1154.3 229.5,1155.5 230.0,1157.8 230.5,1159.3 231.0,1162.4 231.5,1161.6 232.0,1165.5 232.5,1167.8 233.0,1168.1 233.5,1172.7 234.0,1172.7 234.5,1174.5 235.0,1175.6 235.5,1179.0 236.0,1180.2 236.5,1181.3 237.0,1183.7 237.5,1185.8 238.0,1187.9 238.5,1188.8 239.0,1189.5 239.5,1191.5 240.0,1191.7 240.5,1194.6 241.0,1197.3 241.5,1198.7 242.0,1199.8 242.5,1201.1 243.0,1204.2 243.5,1204.7 244.0,1206.7 244.5,1207.7 245.0,1208.3 245.5,1211.6 246.0,1210.8 246.5,1212.2 247.0,1214.2 247.5,1215.4 248.0,1216.9 248.5,1218.2 249.0,1220.8 249.5,1221.4 250.0,1223.0 250.5,1222.7 251.0,1224.6 251.5,1227.4 252.0,1226.9 252.5,1230.0 253.0,1229.5 253.5,1231.8 254.0,1232.1 254.5,1234.2 255.0,1234.5 255.5,1236.2 256.0,1238.9 256.5,1238.5 257.0,1241.5 257.5,1240.7 258.0,1241.3 258.5,1243.4 259.0,1244.1 259.5,1247.0 260.0,1247.3 260.5,1248.7 261.0,1249.3 261.5,1251.9 262.0,1251.6 262.5,1252.4 263.0,1252.4 263.5,1253.4 264.0,1255.3 264.5,1256.9 265.0,1258.0 265.5,1257.4 266.0,1259.6 266.5,1260.3 267.0,1260.2 267.5,1262.5 268.0,1261.2 268.5,1264.2 269.0,1266.9 269.5,1265.1 270.0,1266.8 270.5,1266.2 271.0,1268.1 271.5,1270.2 272.0,1269.7 272.5,1271.4 273.0,1272.0 273.5,1272.9 274.0,1274.2 274.5,1275.3 275.0,1276.8 275.5,1277.3 276.0,1277.1 276.5,1279.5 277.0,1280.2 277.5,1278.8 278.0,1281.4 278.5,1282.4 279.0,1283.3 279.5,1283.8 280.0,1283.2 280.5,1284.8 281.0,1284.1 281.5,1286.5 282.0,1289.0 282.5,1288.7 283.0,1289.6 283.5,1289.3 284.0,1289.7 284.5,1290.4 285.0,1292.1 285.5,1292.1 286.0,1293.0 286.5,1295.2 287.0,1293.7 287.5,1294.7 288.0,1296.1 288.5,1297.2 289.0,1297.9 289.5,1297.6 290.0,1299.6 290.5,1300.0 291.0,1301.1 291.5,1300.7 292.0,1302.4 292.5,1303.1 293.0,1303.1 293.5,1304.1 294.0,1304.6 294.5,1306.8 295.0,1303.9 295.5,1305.9 296.0,1306.3 296.5,1308.1 297.0,1308.5 297.5,1309.4 298.0,1310.9 298.5,1309.7 299.0,1311.0 299.5,1312.1 300.0,1312.0 300.5,1313.9 301.0,1314.5 301.5,1314.3 302.0,1314.1 302.5,1317.4 303.0,1317.1 303.5,1317.7 304.0,1318.1 304.5,1318.6 305.0,1319.9 305.5,1319.8 306.0,1319.9 306.5,1321.6 307.0,1321.7 307.5,1321.6 308.0,1322.1 308.5,1324.4 309.0,1324.5 309.5,1326.2 310.0,1324.8 310.5,1325.2 311.0,1326.7 311.5,1328.0 312.0,1328.0 312.5,1328.4 313.0,1330.1 313.5,1328.6 314.0,1328.8 314.5,1329.7 315.0,1330.6 315.5,1331.7 316.0,1332.8 316.5,1332.9 317.0,1334.3 317.5,1333.0 318.0,1335.7 318.5,1334.1 319.0,1336.2 319.5,1335.1 320.0,1336.6 320.5,1336.9 321.0,1337.8 321.5,1338.5 322.0,1338.3 322.5,1338.9 323.0,1339.7 323.5,1339.0 324.0,1340.0 324.5,1339.8 325.0,1341.6 325.5,1343.9 326.0,1343.2 326.5,1342.4 327.0,1343.0 327.5,1344.9 328.0,1344.2 328.5,1343.8 329.0,1344.8 329.5,1345.3 330.0,1345.8 330.5,1347.6 331.0,1347.6 331.5,1346.9 332.0,1348.1 332.5,1348.1 333.0,1348.5 333.5,1348.8 334.0,1351.9 334.5,1350.7 335.0,1351.9 335.5,1352.6 336.0,1352.1 336.5,1353.3 337.0,1353.7 337.5,1353.9 338.0,1356.0 338.5,1354.9 339.0,1355.0 339.5,1356.1 340.0,1357.5 340.5,1357.3 341.0,1356.6 341.5,1356.7 342.0,1357.1 342.5,1357.8 343.0,1359.1 343.5,1359.9 344.0,1357.9 344.5,1360.1 345.0,1359.7 345.5,1361.5 346.0,1362.2 346.5,1361.3 347.0,1361.9 347.5,1362.0 348.0,1363.5 348.5,1362.3 349.0,1363.1 349.5,1363.9 350.0,1365.9 350.5,1367.2 351.0,1365.8 351.5,1365.2 352.0,1366.6 352.5,1366.3 353.0,1367.8 353.5,1366.9 354.0,1367.9 354.5,1368.6 355.0,1369.5 355.5,1369.4 356.0,1370.9 356.5,1370.4 357.0,1369.3 357.5,1371.8 358.0,1371.3 358.5,1371.4 359.0,1373.5 359.5,1371.9 360.0,1373.2 360.5,1372.9 361.0,1375.0 361.5,1374.0 362.0,1374.9 362.5,1374.0 363.0,1376.6 363.5,1375.0 364.0,1377.0 364.5,1377.5 365.0,1378.0 365.5,1378.9 366.0,1376.9 366.5,1378.5 367.0,1378.7 367.5,1379.3 368.0,1380.2 368.5,1379.8 369.0,1379.4 369.5,1380.4 370.0,1382.0 370.5,1380.2 371.0,1381.6 371.5,1381.1 372.0,1383.2 372.5,1381.3 373.0,1382.7 373.5,1383.3 374.0,1383.8 374.5,1386.0 375.0,1385.7 375.5,1384.0 376.0,1386.9 376.5,1384.6 377.0,1384.4 377.5,1385.1 378.0,1386.8 378.5,1387.4 379.0,1385.6 379.5,1388.0 380.0,1387.8 380.5,1388.9 381.0,1388.4 381.5,1389.8 382.0,1389.9 382.5,1388.8 383.0,1391.3 383.5,1390.6 384.0,1391.4 384.5,1392.1 385.0,1390.7 385.5,1391.7 386.0,1391.5 386.5,1391.7 387.0,1393.0 387.5,1393.4 388.0,1394.5 388.5,1394.9 389.0,1394.1 389.5,1393.8 390.0,1397.4 390.5,1396.8 391.0,1395.4 391.5,1395.0 392.0,1395.8 392.5,1396.6 393.0,1397.7 393.5,1397.8 394.0,1397.7 394.5,1397.5 395.0,1398.2 395.5,1398.1 396.0,1398.7 396.5,1398.9 397.0,1399.7 397.5,1398.1 398.0,1399.6 398.5,1400.0 399.0,1399.6 399.5,1400.7 400.0,1400.3 400.5,1400.9 401.0,1401.5 401.5,1401.9 402.0,1401.9 402.5,1403.6 403.0,1403.2 403.5,1403.6 404.0,1403.8 404.5,1403.4 405.0,1403.5 405.5,1405.2 406.0,1404.5 406.5,1403.7 407.0,1403.6 407.5,1405.9 408.0,1405.4 408.5,1406.2 409.0,1406.1 409.5,1406.5 410.0,1407.0 410.5,1406.4 411.0,1407.7 411.5,1408.8 412.0,1408.9 412.5,1407.2 413.0,1407.8 413.5,1408.1 414.0,1409.2 414.5,1410.4 415.0,1410.3 415.5,1408.9 416.0,1410.6 416.5,1411.5 417.0,1410.8 417.5,1412.9 418.0,1411.2 418.5,1412.9 419.0,1414.1 419.5,1411.5 420.0,1412.5 420.5,1413.5 421.0,1415.9 421.5,1412.2 422.0,1414.3 422.5,1414.4 423.0,1414.1 423.5,1414.0 424.0,1414.5 424.5,1415.0 425.0,1414.5 425.5,1417.0 426.0,1415.1 426.5,1415.9 427.0,1416.0 427.5,1416.5 428.0,1417.1 428.5,1416.7 429.0,1417.4 429.5,1419.2 430.0,1418.9 430.5,1418.1 431.0,1419.3 431.5,1418.2 432.0,1419.3 432.5,1418.2 433.0,1418.7 433.5,1419.2 434.0,1421.1 434.5,1420.6 435.0,1421.1 435.5,1421.0 436.0,1421.4 436.5,1421.7 437.0,1422.2 437.5,1422.0 438.0,1421.4 438.5,1421.7 439.0,1423.6 439.5,1424.0 440.0,1423.5 440.5,1422.0 441.0,1424.8 441.5,1424.1 442.0,1424.0 442.5,1424.3 443.0,1424.2 443.5,1426.2 444.0,1426.4 444.5,1424.4 445.0,1425.3 445.5,1426.0 446.0,1427.0 446.5,1424.2 447.0,1427.2 447.5,1428.0 448.0,1426.6 448.5,1427.1 449.0,1428.3 449.5,1427.9 450.0,1426.7 450.5,1427.1 451.0,1427.4 451.5,1427.3 452.0,1428.7 452.5,1428.5 453.0,1429.2 453.5,1429.9 454.0,1431.0 454.5,1430.0 455.0,1428.5 455.5,1431.4 456.0,1430.4 456.5,1431.6 457.0,1430.6 457.5,1431.4 458.0,1431.2 458.5,1431.6 459.0,1432.8 459.5,1431.5 460.0,1432.4 460.5,1432.6 461.0,1432.3 461.5,1431.1 462.0,1433.4 462.5,1431.0 463.0,1432.3 463.5,1433.3 464.0,1434.3 464.5,1434.8 465.0,1435.0 465.5,1435.0 466.0,1434.5 466.5,1435.9 467.0,1435.0 467.5,1436.3 468.0,1433.8 468.5,1435.0 469.0,1435.5 469.5,1436.2 470.0,1434.5 470.5,1437.3 471.0,1437.6 471.5,1437.6 472.0,1436.8 472.5,1438.6 473.0,1437.2 473.5,1438.5 474.0,1438.0 474.5,1438.2 475.0,1438.3 475.5,1438.6 476.0,1439.7 476.5,1440.1 477.0,1440.3 477.5,1440.1 478.0,1440.1 478.5,1440.1 479.0,1441.4 479.5,1439.8 480.0,1439.8 480.5,1440.6 481.0,1439.4 481.5,1440.7 482.0,1441.1 482.5,1440.5 483.0,1441.0 483.5,1442.2 484.0,1441.7 484.5,1442.1 485.0,1443.1 485.5,1441.9 486.0,1441.7 486.5,1442.8 487.0,1443.3 487.5,1441.7 488.0,1443.9 488.5,1443.3 489.0,1443.4 489.5,1443.2 490.0,1443.9 490.5,1445.0 491.0,1444.8 491.5,1445.2 492.0,1444.5 492.5,1446.2 493.0,1446.2 493.5,1445.3 494.0,1443.4 494.5,1445.7 495.0,1448.0 495.5,1446.0 496.0,1445.4 496.5,1447.7 497.0,1446.0 497.5,1447.1 498.0,1447.5 498.5,1445.9 499.0,1447.3 499.5,1448.4 500.0,1447.3 500.5,1448.3 501.0,1447.9 501.5,1448.9 502.0,1449.7 502.5,1447.5 503.0,1448.4 503.5,1449.1 504.0,1448.4 504.5,1448.4 505.0,1449.0 505.5,1449.2 506.0,1449.1 506.5,1450.0 507.0,1450.5 507.5,1450.7 508.0,1450.8 508.5,1451.3 509.0,1449.5 509.5,1450.6 510.0,1451.0 510.5,1451.5 511.0,1449.9 511.5,1452.9 512.0,1450.8 512.5,1451.9 513.0,1452.4 513.5,1452.9 514.0,1451.6 514.5,1451.9 515.0,1452.7 515.5,1453.1 516.0,1453.5 516.5,1452.9 517.0,1452.5 517.5,1452.2 518.0,1454.8 518.5,1452.4 519.0,1454.2 519.5,1454.1 520.0,1454.6 520.5,1454.9 521.0,1455.4 521.5,1454.4 522.0,1454.9 522.5,1453.2 523.0,1454.9 523.5,1454.3 524.0,1455.1 524.5,1456.3 525.0,1455.6 525.5,1456.5 526.0,1455.6 526.5,1456.2 527.0,1455.7 527.5,1454.2 528.0,1455.8 528.5,1456.3 529.0,1456.8 529.5,1456.8 530.0,1456.8 530.5,1457.8 531.0,1457.7 531.5,1457.0 532.0,1458.2 532.5,1456.0 533.0,1457.5 533.5,1457.8 534.0,1459.1 534.5,1457.8 535.0,1457.1 535.5,1458.6 536.0,1460.0 536.5,1458.6 537.0,1458.8 537.5,1458.9 538.0,1459.2 538.5,1460.3 539.0,1461.0 539.5,1459.9 540.0,1459.6 540.5,1461.3 541.0,1460.0 541.5,1460.1 542.0,1459.9 542.5,1460.1 543.0,1460.7 543.5,1460.4 544.0,1461.1 544.5,1461.0 545.0,1461.5 545.5,1460.8 546.0,1461.1 546.5,1461.6 547.0,1461.6 547.5,1461.7 548.0,1462.7 548.5,1461.1 549.0,1460.5 549.5,1462.8 550.0,1462.1 550.5,1463.5 551.0,1462.5 551.5,1461.7 552.0,1464.6 552.5,1463.3 553.0,1462.7 553.5,1462.6 554.0,1463.8 554.5,1462.9 555.0,1463.9 555.5,1464.6 556.0,1462.7 556.5,1463.6 557.0,1464.4 557.5,1465.5 558.0,1465.0 558.5,1464.0 559.0,1465.7 559.5,1464.4 560.0,1464.6 560.5,1465.2 561.0,1464.1 561.5,1467.6 562.0,1466.2 562.5,1465.5 563.0,1465.0 563.5,1464.7 564.0,1466.0 564.5,1466.4 565.0,1465.6 565.5,1465.9 566.0,1466.6 566.5,1466.2 567.0,1464.9 567.5,1467.0 568.0,1466.8 568.5,1467.3 569.0,1466.2 569.5,1465.3 570.0,1466.1 570.5,1467.4 571.0,1469.0 571.5,1469.3 572.0,1467.8 572.5,1466.5 573.0,1467.5 573.5,1468.2 574.0,1468.3 574.5,1468.1 575.0,1469.2 575.5,1467.6 576.0,1466.7 576.5,1467.8 577.0,1467.7 577.5,1470.5 578.0,1468.7 578.5,1467.8 579.0,1469.5 579.5,1469.9 580.0,1469.3 580.5,1469.5 581.0,1470.3 581.5,1470.0 582.0,1469.1 582.5,1470.2 583.0,1470.6 583.5,1470.3 584.0,1470.8 584.5,1470.7 585.0,1470.1 585.5,1470.3 586.0,1471.0 586.5,1470.2 587.0,1471.6 587.5,1471.8 588.0,1469.3 588.5,1471.0 589.0,1470.5 589.5,1470.7 590.0,1471.4 590.5,1471.3 591.0,1472.0 591.5,1471.9 592.0,1472.0 592.5,1471.2 593.0,1471.6 593.5,1473.2 594.0,1470.1 594.5,1467.3 595.0,1462.4 595.5,1460.8 596.0,1454.9 596.5,1453.7 597.0,1451.9 597.5,1448.6 598.0,1446.5 598.5,1442.3 599.0,1439.9 599.5,1437.2 600.0,1435.6 600.5,1433.0 601.0,1430.1 601.5,1427.5 602.0,1425.1 602.5,1423.0 603.0,1419.8 603.5,1418.3 604.0,1415.9 604.5,1413.4 605.0,1411.2 605.5,1410.6 606.0,1406.8 606.5,1405.6 607.0,1404.3 607.5,1401.7 608.0,1399.2 608.5,1398.0 609.0,1394.1 609.5,1392.3 610.0,1391.1 610.5,1389.4 611.0,1387.6 611.5,1387.4 612.0,1385.5 612.5,1382.3 613.0,1380.8 613.5,1378.2 614.0,1377.5 614.5,1374.5 615.0,1375.0 615.5,1371.9 616.0,1371.1 616.5,1368.0 617.0,1368.6 617.5,1366.5 618.0,1366.0 618.5,1363.0 619.0,1360.2 619.5,1359.4 620.0,1357.5 620.5,1358.4 621.0,1355.2 621.5,1353.7 622.0,1353.4 622.5,1351.7 623.0,1350.6 623.5,1348.4 624.0,1345.9 624.5,1345.1 625.0,1343.2 625.5,1344.7 626.0,1343.1 626.5,1340.8 627.0,1340.4 627.5,1339.2 628.0,1338.0 628.5,1336.7 629.0,1335.8 629.5,1334.0 630.0,1331.0 630.5,1329.4 631.0,1331.5 631.5,1329.8 632.0,1326.2 632.5,1327.2 633.0,1325.3 633.5,1324.5 634.0,1321.8 634.5,1323.4 635.0,1321.6 635.5,1321.3 636.0,1320.5 636.5,1319.6 637.0,1318.9 637.5,1316.8 638.0,1315.8 638.5,1314.1 639.0,1314.0 639.5,1312.4 640.0,1310.7 640.5,1311.7 641.0,1310.3 641.5,1306.7 642.0,1306.4 642.5,1306.8 643.0,1304.9 643.5,1306.1 644.0,1304.3 644.5,1303.8 645.0,1303.2 645.5,1302.6 646.0,1300.4 646.5,1300.3 647.0,1299.1 647.5,1298.7 648.0,1297.6 648.5,1297.5 649.0,1295.9 649.5,1294.3 650.0,1293.9 650.5,1292.1 651.0,1292.4 651.5,1292.6 652.0,1290.1 652.5,1288.4 653.0,1288.9 653.5,1287.7 654.0,1287.4 654.5,1286.1 655.0,1285.9 655.5,1284.2 656.0,1285.5 656.5,1283.3 657.0,1283.1 657.5,1282.6 658.0,1281.1 658.5,1280.8 659.0,1279.5 659.5,1278.6 660.0,1278.1 660.5,1277.9 661.0,1275.8 661.5,1275.3 662.0,1274.7 662.5,1274.2 663.0,1274.9 663.5,1273.2 664.0,1272.3 664.5,1271.9 665.0,1272.0 665.5,1269.8 666.0,1270.6 666.5,1267.2 667.0,1267.7 667.5,1268.9 668.0,1268.3 668.5,1266.5 669.0,1265.4 669.5,1265.7 670.0,1264.1 670.5,1265.0 671.0,1264.0 671.5,1263.1 672.0,1261.1 672.5,1261.9 673.0,1260.3 673.5,1259.7 674.0,1258.9 674.5,1258.5 675.0,1258.4 675.5,1258.0 676.0,1257.4 676.5,1258.8 677.0,1255.2 677.5,1255.8 678.0,1253.7 678.5,1253.5 679.0,1252.1 679.5,1253.4 680.0,1252.0 680.5,1251.3 681.0,1250.5 681.5,1250.8 682.0,1249.1 682.5,1249.2 683.0,1250.3 683.5,1247.6 684.0,1246.6 684.5,1245.7 685.0,1246.6 685.5,1245.4 686.0,1244.2 686.5,1243.6 687.0,1243.7 687.5,1242.3 688.0,1244.2 688.5,1241.8 689.0,1241.3 689.5,1240.8 690.0,1238.9 690.5,1238.6 691.0,1238.9 691.5,1238.6 692.0,1237.1 692.5,1238.9 693.0,1237.4 693.5,1237.5 694.0,1236.9 694.5,1235.2 695.0,1236.8 695.5,1234.4 696.0,1232.3 696.5,1231.4 697.0,1232.8 697.5,1232.9 698.0,1231.8 698.5,1232.6 699.0,1230.4 699.5,1230.6 700.0,1230.2 700.5,1228.3 701.0,1228.9 701.5,1228.4 702.0,1228.5 702.5,1228.1 703.0,1227.4 703.5,1225.5 704.0,1226.2 704.5,1226.0 705.0,1224.6 705.5,1224.7 706.0,1224.2 706.5,1224.1 707.0,1222.7 707.5,1222.5 708.0,1221.8 708.5,1221.2 709.0,1220.2 709.5,1219.9 710.0,1218.8 710.5,1219.1 711.0,1219.3 711.5,1218.8 712.0,1218.4 712.5,1217.3 713.0,1218.0 713.5,1216.0 714.0,1216.5 714.5,1215.8 715.0,1214.4 715.5,1214.0 716.0,1214.7 716.5,1213.7 717.0,1213.4 717.5,1215.2 718.0,1212.7 718.5,1211.9 719.0,1211.9 719.5,1210.4 720.0,1210.3 720.5,1210.4 721.0,1208.9 721.5,1209.1 722.0,1208.5 722.5,1208.3 723.0,1206.4 723.5,1208.8 724.0,1206.9 724.5,1206.9 725.0,1205.2 725.5,1204.6 726.0,1205.2 726.5,1204.5 727.0,1204.9 727.5,1203.2 728.0,1202.7 728.5,1203.3 729.0,1203.2 729.5,1203.0 730.0,1201.8 730.5,1201.6 731.0,1200.3 731.5,1201.6 732.0,1201.0 732.5,1200.6 733.0,1198.0 733.5,1199.6 734.0,1197.9 734.5,1198.5 735.0,1198.0 735.5,1198.2 736.0,1196.7 736.5,1196.2 737.0,1195.2 737.5,1194.7 738.0,1195.7 738.5,1194.1 739.0,1195.0 739.5,1193.8 740.0,1193.2 740.5,1194.0 741.0,1193.6 741.5,1191.7 742.0,1192.0 742.5,1191.7 743.0,1191.8 743.5,1190.3 744.0,1190.2 744.5,1190.1 745.0,1190.3 745.5,1190.1 746.0,1188.6 746.5,1190.0 747.0,1188.6 747.5,1187.3 748.0,1186.3 748.5,1186.7 749.0,1184.9 749.5,1186.5 750.0,1186.5 750.5,1186.7 751.0,1185.7 751.5,1183.6 752.0,1184.3 752.5,1184.8 753.0,1182.1 753.5,1182.8 754.0,1183.6 754.5,1182.8 755.0,1180.8 755.5,1181.6 756.0,1181.7 756.5,1183.0 757.0,1180.6 757.5,1179.9 758.0,1180.5 758.5,1180.2 759.0,1180.0 759.5,1180.4 760.0,1178.8 760.5,1177.4 761.0,1178.2 761.5,1177.8 762.0,1178.3 762.5,1177.8 763.0,1176.2 763.5,1177.1 764.0,1176.9 764.5,1175.6 765.0,1176.2 765.5,1175.3 766.0,1174.9 766.5,1174.3 767.0,1174.8 767.5,1176.1 768.0,1173.6 768.5,1172.2 769.0,1172.6 769.5,1172.0 770.0,1172.4 770.5,1171.7 771.0,1173.5 771.5,1171.8 772.0,1172.3 772.5,1170.0 773.0,1170.0 773.5,1171.5 774.0,1168.2 774.5,1169.4 775.0,1167.7 775.5,1169.8 776.0,1167.2 776.5,1167.7 777.0,1167.5 777.5,1166.0 778.0,1169.0 778.5,1166.6 779.0,1167.8 779.5,1165.6 780.0,1164.6 780.5,1165.7 781.0,1165.4 781.5,1167.2 782.0,1163.8 782.5,1163.0 783.0,1163.4 783.5,1163.9 784.0,1163.8 784.5,1162.5 785.0,1162.5 785.5,1162.9 786.0,1163.1 786.5,1161.4 787.0,1161.7 787.5,1159.1 788.0,1160.3 788.5,1161.1 789.0,1160.4 789.5,1160.0 790.0,1161.2 790.5,1159.3 791.0,1158.4 791.5,1159.2 792.0,1158.9 792.5,1157.5 793.0,1159.0 793.5,1159.2 794.0,1157.1 794.5,1156.6 795.0,1157.0 795.5,1157.7 796.0,1156.0 796.5,1155.6 797.0,1155.4 797.5,1155.8 798.0,1155.5 798.5,1155.0 799.0,1155.8 799.5,1156.4 800.0,1153.8 800.5,1154.8 801.0,1154.0 801.5,1155.9 802.0,1152.5 802.5,1152.7 803.0,1152.8 803.5,1151.3 804.0,1152.0 804.5,1152.4 805.0,1150.5 805.5,1151.5 806.0,1152.5 806.5,1150.3 807.0,1149.8 807.5,1148.3 808.0,1150.0 808.5,1148.5 809.0,1150.0 809.5,1150.6 810.0,1149.5 810.5,1148.1 811.0,1149.0 811.5,1147.9 812.0,1147.1 812.5,1147.4 813.0,1147.7 813.5,1147.0 814.0,1147.4 814.5,1148.5 815.0,1147.0 815.5,1146.9 816.0,1145.5 816.5,1146.8 817.0,1145.8 817.5,1146.1 818.0,1144.4 818.5,1145.0 819.0,1142.7 819.5,1144.0 820.0,1143.4 820.5,1143.0 821.0,1145.0 821.5,1142.1 822.0,1143.0 822.5,1142.8 823.0,1143.1 823.5,1143.2 824.0,1140.9 824.5,1141.5 825.0,1141.2 825.5,1142.0 826.0,1142.0 826.5,1140.7 827.0,1140.4 827.5,1139.7 828.0,1140.6 828.5,1141.4 829.0,1140.2 829.5,1139.1 830.0,1138.8 830.5,1138.6 831.0,1137.7 831.5,1140.1 832.0,1138.6 832.5,1138.0 833.0,1139.9 833.5,1138.0 834.0,1138.8 834.5,1137.6 835.0,1138.1 835.5,1137.0 836.0,1136.5 836.5,1136.9 837.0,1136.9 837.5,1137.0 838.0,1136.1 838.5,1135.5 839.0,1135.2 839.5,1135.5 840.0,1134.7 840.5,1134.6 841.0,1135.1 841.5,1134.9 842.0,1134.6 842.5,1133.4 843.0,1132.6 843.5,1133.8 844.0,1133.5 844.5,1132.9 845.0,1133.1 845.5,1133.4 846.0,1132.4 846.5,1132.7 847.0,1131.4 847.5,1131.8 848.0,1131.1 848.5,1130.4 849.0,1131.7 849.5,1128.9 850.0,1130.9 850.5,1131.4 851.0,1130.9 851.5,1129.1 852.0,1130.3 852.5,1128.5 853.0,1129.0 853.5,1130.7 854.0,1129.5 854.5,1130.1 855.0,1128.1 855.5,1127.1 856.0,1128.0 856.5,1129.4 857.0,1128.9 857.5,1128.9 858.0,1127.7 858.5,1127.6 859.0,1127.3 859.5,1129.6 860.0,1127.1 860.5,1128.3 861.0,1126.6 861.5,1127.6 862.0,1125.5 862.5,1125.7 863.0,1126.2 863.5,1125.3 864.0,1125.3 864.5,1125.3 865.0,1124.8 865.5,1126.3 866.0,1125.8 866.5,1123.6 867.0,1125.9 867.5,1124.3 868.0,1124.1 868.5,1123.8 869.0,1124.5 869.5,1124.2 870.0,1123.0 870.5,1123.3 871.0,1122.0 871.5,1124.4 872.0,1122.1 872.5,1121.9 873.0,1121.8 873.5,1122.3 874.0,1122.7 874.5,1121.6 875.0,1121.7 875.5,1121.3 876.0,1122.4 876.5,1121.4 877.0,1119.7 877.5,1122.1 878.0,1121.0 878.5,1122.1 879.0,1119.9 879.5,1119.8 880.0,1119.9 880.5,1118.7 881.0,1119.4 881.5,1120.6 882.0,1119.9 882.5,1117.3 883.0,1120.1 883.5,1119.2 884.0,1119.4 884.5,1118.6 885.0,1118.6 885.5,1118.3 886.0,1118.1 886.5,1117.1 887.0,1118.6 887.5,1117.8 888.0,1117.8 888.5,1117.6 889.0,1116.9 889.5,1116.9 890.0,1115.8 890.5,1116.9 891.0,1116.7 891.5,1116.2 892.0,1114.8 892.5,1117.1 893.0,1115.8 893.5,1115.7 894.0,1115.3 894.5,1115.0 895.0,1115.0 895.5,1114.3 896.0,1114.5 896.5,1116.5 897.0,1115.6 897.5,1116.1 898.0,1113.9 898.5,1112.7 899.0,1113.0 899.5,1111.8 900.0,1114.7 900.5,1114.6 901.0,1113.6 901.5,1113.7 902.0,1113.5 902.5,1113.0 903.0,1113.5 903.5,1112.0 904.0,1112.3 904.5,1112.4 905.0,1111.0 905.5,1111.4 906.0,1112.4 906.5,1112.2 907.0,1109.8 907.5,1112.4 908.0,1111.8 908.5,1112.0 909.0,1111.2 909.5,1111.6 910.0,1109.9 910.5,1110.7 911.0,1109.8 911.5,1110.1 912.0,1111.4 912.5,1111.6 913.0,1110.2 913.5,1109.7 914.0,1110.5 914.5,1110.1 915.0,1111.1 915.5,1110.0 916.0,1107.5 916.5,1109.3 917.0,1108.8 917.5,1108.3 918.0,1108.9 918.5,1108.7 919.0,1108.3 919.5,1109.6 920.0,1108.6 920.5,1108.5 921.0,1108.2 921.5,1108.9 922.0,1106.9 922.5,1108.6 923.0,1107.3 923.5,1108.6 924.0,1108.4 924.5,1107.5 925.0,1106.6 925.5,1107.1 926.0,1107.0 926.5,1105.5 927.0,1106.3 927.5,1105.8 928.0,1107.4 928.5,1107.5 929.0,1105.4 929.5,1105.5 930.0,1104.7 930.5,1105.9 931.0,1106.2 931.5,1106.8 932.0,1104.3 932.5,1105.9 933.0,1104.9 933.5,1104.4 934.0,1104.5 934.5,1104.1 935.0,1104.9 935.5,1104.5 936.0,1105.3 936.5,1103.8 937.0,1102.6 937.5,1103.2 938.0,1104.1 938.5,1102.6 939.0,1103.0 939.5,1103.9 940.0,1102.3 940.5,1104.0 941.0,1103.4 941.5,1102.6 942.0,1102.9 942.5,1102.4 943.0,1102.4 943.5,1102.3 944.0,1102.5 944.5,1102.3 945.0,1101.7 945.5,1101.4 946.0,1103.7 946.5,1101.1 947.0,1101.7 947.5,1102.7 948.0,1102.4 948.5,1100.9 949.0,1103.0 949.5,1135.7 950.0,1136.3 950.5,1137.9 951.0,1141.6 951.5,1143.2 952.0,1145.3 952.5,1147.0 953.0,1149.3 953.5,1152.1 954.0,1154.7 954.5,1154.4 955.0,1156.2 955.5,1160.9 956.0,1161.4 956.5,1164.6 957.0,1166.1 957.5,1168.9 958.0,1170.6 958.5,1171.5 959.0,1173.4 959.5,1175.7 960.0,1177.8 960.5,1178.5 961.0,1179.6 961.5,1182.6 962.0,1184.2 962.5,1185.8 963.0,1186.8 963.5,1189.8 964.0,1189.6 964.5,1192.2 965.0,1195.3 965.5,1194.9 966.0,1197.7 966.5,1199.3 967.0,1200.9 967.5,1200.7 968.0,1204.4 968.5,1205.2 969.0,1206.9 969.5,1208.3 970.0,1209.5 970.5,1211.9 971.0,1213.5 971.5,1212.3 972.0,1214.5 972.5,1216.4 973.0,1216.2 973.5,1220.4 974.0,1220.0 974.5,1222.4 975.0,1223.4 975.5,1224.4 976.0,1225.0 976.5,1226.8 977.0,1228.4 977.5,1230.3 978.0,1230.7 978.5,1231.8 979.0,1233.1 979.5,1235.6 980.0,1236.0 980.5,1236.4 981.0,1237.1 981.5,1238.9 982.0,1239.7 982.5,1241.2 983.0,1243.8 983.5,1244.4 984.0,1245.1 984.5,1246.3 985.0,1248.5 985.5,1247.3 986.0,1249.6 986.5,1250.2 987.0,1251.5 987.5,1252.5 988.0,1253.2 988.5,1255.0 989.0,1253.8 989.5,1256.8 990.0,1258.1 990.5,1257.8 991.0,1258.8 991.5,1262.1 992.0,1260.8 992.5,1262.2 993.0,1262.8 993.5,1263.9 994.0,1264.8 994.5,1264.6 995.0,1269.1 995.5,1267.6 996.0,1269.4 996.5,1269.9 997.0,1272.0 997.5,1272.3 998.0,1273.6 998.5,1274.5 999.0,1275.1 999.5,1275.3 1000.0,1276.9 1000.5,1275.8 1001.0,1278.6 1001.5,1279.3 1002.0,1279.8 1002.5,1279.4 1003.0,1282.3 1003.5,1281.6 1004.0,1283.4 1004.5,1282.3 1005.0,1284.4 1005.5,1284.8 1006.0,1285.5 1006.5,1286.4 1007.0,1289.1 1007.5,1288.5 1008.0,1289.6 1008.5,1291.8 1009.0,1289.7 1009.5,1292.8 1010.0,1292.1 1010.5,1292.6 1011.0,1293.5 1011.5,1293.2 1012.0,1294.1 1012.5,1295.2 1013.0,1296.4 1013.5,1298.1 1014.0,1299.1 1014.5,1298.7 1015.0,1300.0 1015.5,1300.8 1016.0,1301.0 1016.5,1302.0 1017.0,1302.1 1017.5,1303.7 1018.0,1303.7 1018.5,1304.6 1019.0,1305.5 1019.5,1306.1 1020.0,1306.1 1020.5,1306.3 1021.0,1307.9 1021.5,1308.2 1022.0,1308.9 1022.5,1309.9 1023.0,1310.1 1023.5,1311.7 1024.0,1312.3 1024.5,1311.9 1025.0,1313.5 1025.5,1313.1 1026.0,1315.1 1026.5,1315.6 1027.0,1315.8 1027.5,1317.1 1028.0,1317.8 1028.5,1318.0 1029.0,1316.8 1029.5,1319.0 1030.0,1319.6 1030.5,1320.7 1031.0,1319.9 1031.5,1321.9" stroke="#000000" stroke-width="5.3" stroke-linecap="round" stroke-linejoin="round" fill="none"/>
<path d="M140.0,1108.8 140.5,1108.7 141.0,1107.1 141.5,1107.3 142.0,1108.9 142.5,1108.5 143.0,1107.5 143.5,1108.4 144.0,1107.5 144.5,1106.7 145.0,1105.5 145.5,1107.7 146.0,1106.5 146.5,1106.7 147.0,1104.7 147.5,1105.7 148.0,1106.3 148.5,1105.7 149.0,1105.1 149.5,1104.6 150.0,1105.6 150.5,1105.0 151.0,1104.8 151.5,1104.7 152.0,1104.3 152.5,1104.4 153.0,1104.0 153.5,1104.4 154.0,1103.0 154.5,1103.1 155.0,1104.0 155.5,1103.7 156.0,1103.8 156.5,1105.3 157.0,1104.1 157.5,1104.3 158.0,1103.5 158.5,1102.9 159.0,1102.1 159.5,1101.0 160.0,1101.3 160.5,1100.3 161.0,1101.3 161.5,1100.7 162.0,1101.1 162.5,1101.8 163.0,1101.4 163.5,1102.4 164.0,1102.3 164.5,1102.2 165.0,1101.9 165.5,1101.3 166.0,1100.4 166.5,1101.2 167.0,1100.4 167.5,1100.3 168.0,1100.7 168.5,1099.3 169.0,1098.7 169.5,1100.3 170.0,1101.4 170.5,1100.7 171.0,1102.9 171.5,1098.2 172.0,1098.7 172.5,1097.1 173.0,1098.3 173.5,1100.6 174.0,1100.2 174.5,1097.8 175.0,1098.2 175.5,1097.7 176.0,1097.1 176.5,1097.9 177.0,1097.7 177.5,1098.0 178.0,1098.0 178.5,1098.3 179.0,1098.7 179.5,1097.3 180.0,1097.1 180.5,1097.2 181.0,1097.4 181.5,1096.8 182.0,1095.9 182.5,1096.2 183.0,1097.2 183.5,1095.5 184.0,1097.0 184.5,1094.9 185.0,1096.6 185.5,1096.4 186.0,1095.6 186.5,1095.7 187.0,1095.3 187.5,1096.9 188.0,1094.9 188.5,1094.5 189.0,1095.4 189.5,1095.9 190.0,1095.1 190.5,1094.6 191.0,1095.5 191.5,1093.8 192.0,1093.7 192.5,1093.2 193.0,1095.2 193.5,1092.1 194.0,1092.8 194.5,1094.0 195.0,1094.0 195.5,1095.1 196.0,1093.8 196.5,1092.9 197.0,1094.5 197.5,1094.1 198.0,1094.0 198.5,1093.8 199.0,1093.2 199.5,1091.4 200.0,1091.6 200.5,1094.2 201.0,1092.4 201.5,1090.6 202.0,1092.1 202.5,1092.8 203.0,1092.2 203.5,1091.8 204.0,1089.6 204.5,1091.6 205.0,1091.3 205.5,1092.8 206.0,1091.2 206.5,1091.1 207.0,1090.6 207.5,1090.8 208.0,1091.0 208.5,1090.2 209.0,1089.8 209.5,1089.4 210.0,1090.5 210.5,1089.9 211.0,1089.9 211.5,1088.7 212.0,1089.2 212.5,1088.2 213.0,1090.6 213.5,1090.7 214.0,1089.9 214.5,1089.3 215.0,1089.7 215.5,1087.9 216.0,1087.9 216.5,1090.1 217.0,1088.0 217.5,1088.8 218.0,1088.1 218.5,1086.4 219.0,1087.9 219.5,1089.1 220.0,1089.5 220.5,1086.0 221.0,1086.7 221.5,1087.5 222.4,1095.0 M223.2,894.0 223.8,1000.0 224.6,1120.0 225.4,1200.0 226.6,1272.0 227.4,1230.0 228.6,1180.0 225.5,1088.1 226.0,1133.3 226.5,1135.9 227.0,1138.2 227.5,1137.7 228.0,1139.2 228.5,1143.6 229.0,1144.2 229.5,1146.7 230.0,1148.2 230.5,1150.2 231.0,1153.8 231.5,1153.4 232.0,1154.4 232.5,1157.6 233.0,1160.5 233.5,1161.9 234.0,1163.9 234.5,1163.5 235.0,1166.7 235.5,1170.9 236.0,1171.1 236.5,1172.3 237.0,1176.3 237.5,1175.9 238.0,1179.2 238.5,1180.3 239.0,1182.2 239.5,1184.6 240.0,1187.8 240.5,1188.2 241.0,1187.1 241.5,1188.4 242.0,1191.0 242.5,1192.7 243.0,1195.3 243.5,1196.0 244.0,1197.8 244.5,1196.9 245.0,1200.4 245.5,1202.6 246.0,1205.6 246.5,1205.9 247.0,1206.4 247.5,1206.3 248.0,1209.1 248.5,1210.5 249.0,1211.7 249.5,1213.5 250.0,1215.2 250.5,1216.5 251.0,1220.1 251.5,1217.4 252.0,1218.0 252.5,1221.7 253.0,1221.0 253.5,1223.5 254.0,1224.9 254.5,1225.3 255.0,1228.5 255.5,1229.5 256.0,1230.1 256.5,1231.9 257.0,1233.4 257.5,1233.1 258.0,1235.4 258.5,1236.0 259.0,1237.0 259.5,1237.6 260.0,1241.5 260.5,1240.8 261.0,1239.8 261.5,1243.3 262.0,1240.6 262.5,1245.2 263.0,1246.9 263.5,1248.8 264.0,1248.3 264.5,1248.2 265.0,1252.6 265.5,1252.5 266.0,1253.8 266.5,1252.9 267.0,1255.1 267.5,1253.1 268.0,1256.9 268.5,1254.6 269.0,1257.0 269.5,1257.4 270.0,1261.6 270.5,1262.3 271.0,1261.4 271.5,1264.6 272.0,1264.1 272.5,1262.5 273.0,1265.4 273.5,1264.6 274.0,1267.8 274.5,1269.1 275.0,1268.6 275.5,1271.4 276.0,1272.6 276.5,1271.1 277.0,1273.8 277.5,1273.8 278.0,1274.5 278.5,1277.8 279.0,1275.6 279.5,1276.9 280.0,1278.1 280.5,1279.8 281.0,1280.9 281.5,1279.5 282.0,1283.2 282.5,1284.6 283.0,1285.7 283.5,1284.2 284.0,1284.1 284.5,1284.2 285.0,1286.8 285.5,1287.1 286.0,1287.9 286.5,1287.9 287.0,1286.7 287.5,1289.9 288.0,1290.8 288.5,1291.3 289.0,1290.7 289.5,1292.9 290.0,1293.8 290.5,1293.3 291.0,1296.3 291.5,1296.2 292.0,1297.1 292.5,1298.2 293.0,1298.1 293.5,1299.0 294.0,1300.5 294.5,1301.5 295.0,1302.3 295.5,1301.7 296.0,1303.6 296.5,1304.7 297.0,1302.2 297.5,1304.2 298.0,1305.3 298.5,1306.0 299.0,1308.9 299.5,1308.8 300.0,1307.9 300.5,1308.5 301.0,1307.6 301.5,1308.8 302.0,1312.3 302.5,1309.1 303.0,1312.7 303.5,1311.7 304.0,1312.8 304.5,1313.7 305.0,1316.8 305.5,1315.5 306.0,1316.4 306.5,1317.6 307.0,1314.2 307.5,1319.9 308.0,1316.1 308.5,1317.9 309.0,1320.3 309.5,1318.5 310.0,1318.4 310.5,1322.7 311.0,1321.4 311.5,1323.6 312.0,1323.6 312.5,1323.3 313.0,1326.3 313.5,1324.4 314.0,1327.9 314.5,1324.8 315.0,1325.2 315.5,1326.2 316.0,1327.9 316.5,1326.8 317.0,1327.9 317.5,1331.1 318.0,1330.1 318.5,1331.9 319.0,1331.4 319.5,1330.8 320.0,1331.1 320.5,1332.9 321.0,1333.3 321.5,1333.1 322.0,1333.5 322.5,1336.6 323.0,1336.6 323.5,1336.2 324.0,1335.9 324.5,1336.4 325.0,1339.9 325.5,1337.2 326.0,1341.3 326.5,1338.2 327.0,1337.6 327.5,1342.5 328.0,1340.4 328.5,1342.9 329.0,1342.1 329.5,1341.7 330.0,1343.7 330.5,1342.7 331.0,1344.1 331.5,1343.8 332.0,1342.3 332.5,1345.5 333.0,1344.8 333.5,1345.8 334.0,1347.0 334.5,1345.2 335.0,1348.1 335.5,1348.6 336.0,1350.8 336.5,1349.9 337.0,1349.8 337.5,1349.0 338.0,1350.3 338.5,1349.0 339.0,1351.7 339.5,1351.4 340.0,1351.7 340.5,1352.6 341.0,1353.6 341.5,1353.8 342.0,1352.5 342.5,1356.1 343.0,1354.9 343.5,1355.7 344.0,1355.8 344.5,1355.1 345.0,1357.0 345.5,1356.6 346.0,1356.5 346.5,1358.1 347.0,1359.4 347.5,1359.6 348.0,1359.5 348.5,1359.0 349.0,1359.8 349.5,1360.4 350.0,1359.3 350.5,1362.5 351.0,1362.0 351.5,1360.7 352.0,1364.6 352.5,1365.6 353.0,1362.0 353.5,1363.8 354.0,1363.4 354.5,1365.8 355.0,1363.6 355.5,1366.3 356.0,1366.6 356.5,1367.9 357.0,1364.6 357.5,1366.4 358.0,1367.5 358.5,1369.3 359.0,1368.6 359.5,1369.9 360.0,1369.9 360.5,1368.6 361.0,1370.0 361.5,1370.0 362.0,1370.5 362.5,1370.2 363.0,1372.6 363.5,1372.5 364.0,1370.1 364.5,1373.8 365.0,1372.6 365.5,1371.8 366.0,1375.5 366.5,1374.4 367.0,1375.2 367.5,1375.0 368.0,1375.5 368.5,1373.7 369.0,1377.3 369.5,1375.8 370.0,1377.1 370.5,1377.3 371.0,1376.6 371.5,1376.6 372.0,1378.4 372.5,1380.5 373.0,1378.5 373.5,1378.9 374.0,1380.1 374.5,1379.7 375.0,1382.4 375.5,1381.7 376.0,1384.6 376.5,1382.1 377.0,1385.0 377.5,1381.8 378.0,1383.2 378.5,1382.0 379.0,1383.2 379.5,1383.6 380.0,1385.1 380.5,1386.4 381.0,1384.7 381.5,1383.6 382.0,1385.7 382.5,1385.9 383.0,1385.8 383.5,1387.9 384.0,1388.5 384.5,1386.6 385.0,1386.9 385.5,1384.9 386.0,1387.7 386.5,1389.9 387.0,1388.0 387.5,1390.7 388.0,1390.7 388.5,1391.0 389.0,1391.3 389.5,1390.8 390.0,1392.5 390.5,1392.9 391.0,1392.3 391.5,1392.2 392.0,1394.1 392.5,1394.7 393.0,1392.4 393.5,1394.5 394.0,1393.9 394.5,1397.1 395.0,1394.1 395.5,1394.0 396.0,1394.0 396.5,1396.6 397.0,1394.4 397.5,1396.9 398.0,1395.7 398.5,1398.4 399.0,1399.0 399.5,1398.7 400.0,1395.2 400.5,1396.1 401.0,1394.9 401.5,1401.8 402.0,1398.1 402.5,1398.6 403.0,1399.5 403.5,1400.5 404.0,1399.7 404.5,1400.5 405.0,1400.7 405.5,1399.3 406.0,1403.5 406.5,1403.7 407.0,1401.9 407.5,1402.0 408.0,1404.8 408.5,1405.8 409.0,1403.1 409.5,1404.1 410.0,1403.1 410.5,1404.4 411.0,1401.0 411.5,1401.7 412.0,1405.4 412.5,1404.9 413.0,1405.9 413.5,1405.8 414.0,1406.7 414.5,1406.6 415.0,1406.3 415.5,1407.3 416.0,1406.3 416.5,1409.1 417.0,1406.4 417.5,1407.4 418.0,1409.3 418.5,1408.0 419.0,1410.0 419.5,1410.9 420.0,1410.3 420.5,1409.1 421.0,1412.3 421.5,1410.7 422.0,1409.2 422.5,1413.2 423.0,1411.2 423.5,1412.0 424.0,1412.6 424.5,1411.1 425.0,1413.2 425.5,1410.8 426.0,1411.4 426.5,1412.4 427.0,1415.8 427.5,1414.1 428.0,1415.1 428.5,1413.4 429.0,1414.8 429.5,1411.8 430.0,1414.4 430.5,1415.5 431.0,1414.5 431.5,1413.0 432.0,1413.7 432.5,1416.8 433.0,1417.9 433.5,1416.0 434.0,1418.7 434.5,1415.4 435.0,1418.0 435.5,1417.9 436.0,1419.1 436.5,1416.1 437.0,1419.5 437.5,1418.6 438.0,1417.6 438.5,1418.4 439.0,1418.9 439.5,1419.8 440.0,1418.6 440.5,1418.9 441.0,1420.3 441.5,1420.4 442.0,1421.3 442.5,1422.0 443.0,1418.8 443.5,1421.2 444.0,1421.9 444.5,1421.9 445.0,1420.7 445.5,1423.2 446.0,1424.7 446.5,1422.5 447.0,1422.0 447.5,1424.2 448.0,1423.5 448.5,1423.8 449.0,1424.2 449.5,1423.6 450.0,1424.3 450.5,1423.7 451.0,1422.4 451.5,1426.4 452.0,1425.6 452.5,1425.4 453.0,1427.4 453.5,1425.8 454.0,1427.6 454.5,1427.4 455.0,1426.3 455.5,1425.3 456.0,1427.7 456.5,1427.6 457.0,1428.8 457.5,1425.8 458.0,1427.8 458.5,1428.5 459.0,1428.8 459.5,1428.8 460.0,1429.2 460.5,1426.1 461.0,1428.9 461.5,1428.6 462.0,1427.7 462.5,1430.0 463.0,1429.6 463.5,1428.9 464.0,1428.8 464.5,1431.2 465.0,1427.8 465.5,1431.0 466.0,1430.0 466.5,1431.8 467.0,1434.2 467.5,1433.3 468.0,1432.1 468.5,1434.3 469.0,1435.0 469.5,1434.1 470.0,1435.4 470.5,1433.5 471.0,1434.3 471.5,1433.6 472.0,1433.4 472.5,1434.1 473.0,1433.3 473.5,1434.3 474.0,1437.5 474.5,1435.8 475.0,1434.8 475.5,1437.4 476.0,1437.3 476.5,1434.3 477.0,1435.0 477.5,1438.3 478.0,1436.4 478.5,1436.7 479.0,1436.0 479.5,1435.4 480.0,1438.5 480.5,1436.2 481.0,1438.1 481.5,1440.0 482.0,1438.5 482.5,1437.7 483.0,1439.0 483.5,1439.1 484.0,1438.0 484.5,1439.1 485.0,1437.4 485.5,1436.9 486.0,1438.6 486.5,1437.3 487.0,1438.9 487.5,1439.7 488.0,1440.3 488.5,1442.6 489.0,1439.2 489.5,1440.0 490.0,1440.2 490.5,1439.7 491.0,1443.7 491.5,1440.3 492.0,1441.2 492.5,1441.5 493.0,1444.9 493.5,1441.6 494.0,1441.2 494.5,1444.0 495.0,1441.7 495.5,1440.1 496.0,1444.4 496.5,1444.3 497.0,1441.4 497.5,1441.9 498.0,1443.6 498.5,1442.5 499.0,1442.0 499.5,1442.6 500.0,1446.6 500.5,1445.8 501.0,1443.3 501.5,1444.6 502.0,1445.1 502.5,1444.7 503.0,1445.3 503.5,1447.7 504.0,1444.8 504.5,1444.8 505.0,1445.9 505.5,1445.3 506.0,1445.7 506.5,1445.9 507.0,1445.3 507.5,1448.3 508.0,1446.1 508.5,1448.8 509.0,1446.2 509.5,1446.3 510.0,1447.9 510.5,1447.4 511.0,1449.0 511.5,1448.9 512.0,1451.2 512.5,1444.6 513.0,1447.2 513.5,1448.7 514.0,1448.6 514.5,1449.0 515.0,1452.5 515.5,1446.5 516.0,1450.4 516.5,1449.4 517.0,1449.8 517.5,1451.4 518.0,1450.1 518.5,1451.3 519.0,1452.1 519.5,1452.1 520.0,1448.4 520.5,1450.1 521.0,1449.4 521.5,1450.2 522.0,1451.1 522.5,1454.2 523.0,1450.8 523.5,1451.4 524.0,1451.7 524.5,1454.0 525.0,1451.5 525.5,1453.0 526.0,1453.6 526.5,1453.4 527.0,1450.2 527.5,1451.3 528.0,1454.0 528.5,1451.0 529.0,1453.1 529.5,1451.6 530.0,1454.2 530.5,1453.8 531.0,1452.0 531.5,1453.8 532.0,1452.9 532.5,1453.7 533.0,1456.1 533.5,1455.0 534.0,1455.2 534.5,1456.9 535.0,1455.2 535.5,1456.9 536.0,1455.9 536.5,1455.9 537.0,1455.2 537.5,1454.7 538.0,1454.6 538.5,1454.9 539.0,1456.9 539.5,1456.9 540.0,1455.4 540.5,1458.2 541.0,1455.9 541.5,1456.4 542.0,1455.3 542.5,1456.1 543.0,1458.4 543.5,1458.0 544.0,1456.8 544.5,1459.3 545.0,1457.8 545.5,1458.1 546.0,1459.5 546.5,1458.8 547.0,1458.0 547.5,1457.2 548.0,1460.3 548.5,1455.8 549.0,1458.1 549.5,1456.8 550.0,1458.4 550.5,1460.4 551.0,1459.0 551.5,1459.0 552.0,1459.6 552.5,1462.3 553.0,1461.7 553.5,1460.3 554.0,1459.4 554.5,1459.8 555.0,1460.9 555.5,1460.3 556.0,1460.5 556.5,1459.5 557.0,1459.2 557.5,1459.7 558.0,1461.5 558.5,1460.1 559.0,1464.7 559.5,1462.3 560.0,1462.5 560.5,1463.1 561.0,1460.6 561.5,1460.6 562.0,1461.9 562.5,1463.1 563.0,1463.2 563.5,1464.7 564.0,1464.5 564.5,1464.2 565.0,1464.4 565.5,1463.4 566.0,1464.3 566.5,1463.0 567.0,1463.0 567.5,1464.8 568.0,1461.7 568.5,1465.6 569.0,1466.3 569.5,1463.5 570.0,1465.2 570.5,1464.6 571.0,1463.3 571.5,1465.1 572.0,1465.4 572.5,1466.1 573.0,1464.6 573.5,1465.3 574.0,1464.4 574.5,1466.6 575.0,1465.3 575.5,1466.6 576.0,1464.8 576.5,1465.9 577.0,1464.7 577.5,1465.0 578.0,1467.5 578.5,1466.0 579.0,1466.2 579.5,1467.3 580.0,1465.5 580.5,1469.1 581.0,1465.8 581.5,1466.4 582.0,1469.7 582.5,1464.9 583.0,1469.4 583.5,1467.8 584.0,1468.0 584.5,1466.2 585.0,1467.8 585.5,1466.1 586.0,1469.1 586.5,1467.6 587.0,1467.2 587.5,1467.5 588.0,1468.0 588.5,1469.5 589.0,1468.9 589.5,1467.6 590.5,1468.0 592.2,1480.0 593.6,1532.0 594.8,1480.0 596.5,1455.0 598.5,1430.0 600.2,1384.0 600.8,1313.0 601.8,1345.0 603.5,1362.0 606.0,1366.0 608.5,1345.0 611.0,1330.0 613.0,1318.0 603.5,1341.7 604.0,1340.4 604.5,1340.9 605.0,1339.4 605.5,1336.8 606.0,1335.2 606.5,1335.4 607.0,1333.8 607.5,1333.7 608.0,1331.9 608.5,1331.2 609.0,1330.5 609.5,1329.6 610.0,1327.4 610.5,1327.1 611.0,1324.8 611.5,1323.2 612.0,1323.4 612.5,1323.2 613.0,1322.3 613.5,1319.9 614.0,1317.3 614.5,1318.1 615.0,1316.6 615.5,1316.3 616.0,1315.7 616.5,1313.3 617.0,1312.0 617.5,1311.3 618.0,1310.0 618.5,1308.7 619.0,1308.8 619.5,1307.0 620.0,1306.4 620.5,1305.4 621.0,1304.1 621.5,1304.3 622.0,1302.3 622.5,1301.7 623.0,1301.5 623.5,1299.7 624.0,1297.6 624.5,1297.6 625.0,1296.6 625.5,1296.7 626.0,1296.7 626.5,1294.4 627.0,1293.2 627.5,1293.8 628.0,1290.9 628.5,1290.9 629.0,1290.2 629.5,1288.8 630.0,1287.8 630.5,1287.3 631.0,1287.6 631.5,1285.9 632.0,1283.9 632.5,1283.9 633.0,1283.6 633.5,1283.5 634.0,1281.8 634.5,1280.4 635.0,1280.6 635.5,1279.3 636.0,1277.8 636.5,1276.3 637.0,1276.1 637.5,1276.1 638.0,1273.5 638.5,1272.2 639.0,1273.3 639.5,1270.6 640.0,1270.1 640.5,1270.2 641.0,1269.4 641.5,1268.9 642.0,1268.2 642.5,1267.8 643.0,1266.4 643.5,1265.0 644.0,1262.5 644.5,1265.3 645.0,1264.2 645.5,1263.3 646.0,1261.9 646.5,1260.4 647.0,1260.9 647.5,1259.7 648.0,1257.8 648.5,1259.2 649.0,1256.3 649.5,1256.4 650.0,1257.7 650.5,1254.7 651.0,1254.8 651.5,1254.9 652.0,1253.3 652.5,1251.3 653.0,1251.4 653.5,1251.1 654.0,1249.1 654.5,1251.1 655.0,1249.4 655.5,1249.0 656.0,1248.0 656.5,1247.4 657.0,1246.0 657.5,1244.4 658.0,1245.6 658.5,1244.4 659.0,1245.1 659.5,1242.0 660.0,1242.5 660.5,1243.7 661.0,1239.9 661.5,1239.4 662.0,1240.0 662.5,1240.7 663.0,1237.5 663.5,1238.0 664.0,1237.1 664.5,1236.1 665.0,1235.8 665.5,1236.5 666.0,1234.9 666.5,1233.0 667.0,1233.0 667.5,1233.0 668.0,1231.1 668.5,1231.1 669.0,1230.8 669.5,1228.6 670.0,1231.6 670.5,1227.9 671.0,1228.8 671.5,1228.0 672.0,1227.0 672.5,1228.1 673.0,1226.5 673.5,1225.1 674.0,1226.3 674.5,1225.2 675.0,1223.2 675.5,1222.2 676.0,1223.8 676.5,1222.3 677.0,1220.6 677.5,1221.8 678.0,1219.5 678.5,1219.6 679.0,1218.9 679.5,1217.3 680.0,1219.2 680.5,1221.2 681.0,1218.1 681.5,1217.3 682.0,1216.2 682.5,1215.8 683.0,1215.6 683.5,1215.4 684.0,1213.8 684.5,1213.8 685.0,1213.1 685.5,1213.2 686.0,1213.1 686.5,1212.7 687.0,1210.8 687.5,1210.3 688.0,1210.8 688.5,1209.5 689.0,1209.0 689.5,1209.1 690.0,1208.5 690.5,1208.9 691.0,1206.1 691.5,1207.7 692.0,1205.8 692.5,1206.4 693.0,1204.1 693.5,1204.7 694.0,1203.7 694.5,1205.4 695.0,1202.5 695.5,1203.9 696.0,1201.7 696.5,1200.9 697.0,1201.7 697.5,1201.9 698.0,1200.4 698.5,1200.6 699.0,1199.8 699.5,1199.1 700.0,1199.9 700.5,1198.2 701.0,1198.5 701.5,1196.2 702.0,1196.7 702.5,1197.2 703.0,1195.5 703.5,1193.5 704.0,1195.7 704.5,1195.1 705.0,1193.9 705.5,1193.8 706.0,1193.0 706.5,1193.2 707.0,1193.4 707.5,1192.2 708.0,1191.5 708.5,1190.7 709.0,1190.5 709.5,1189.8 710.0,1190.7 710.5,1188.4 711.0,1188.5 711.5,1188.9 712.0,1188.4 712.5,1187.9 713.0,1186.9 713.5,1187.1 714.0,1185.2 714.5,1184.7 715.0,1184.5 715.5,1185.6 716.0,1186.1 716.5,1184.1 717.0,1183.5 717.5,1183.4 718.0,1184.9 718.5,1183.0 719.0,1182.5 719.5,1181.5 720.0,1182.1 720.5,1182.4 721.0,1181.1 721.5,1179.8 722.0,1181.3 722.5,1179.7 723.0,1180.9 723.5,1178.0 724.0,1178.4 724.5,1178.4 725.0,1176.2 725.5,1177.5 726.0,1177.6 726.5,1176.5 727.0,1176.7 727.5,1176.1 728.0,1174.8 728.5,1175.8 729.0,1174.1 729.5,1174.2 730.0,1173.4 730.5,1174.3 731.0,1172.9 731.5,1172.5 732.0,1170.7 732.5,1172.0 733.0,1172.8 733.5,1169.6 734.0,1171.5 734.5,1170.8 735.0,1168.9 735.5,1169.7 736.0,1170.6 736.5,1169.4 737.0,1169.4 737.5,1169.7 738.0,1168.1 738.5,1168.8 739.0,1166.5 739.5,1166.5 740.0,1168.3 740.5,1167.8 741.0,1167.1 741.5,1164.6 742.0,1165.4 742.5,1164.5 743.0,1166.7 743.5,1163.4 744.0,1163.1 744.5,1163.4 745.0,1163.9 745.5,1162.8 746.0,1162.7 746.5,1162.9 747.0,1162.4 747.5,1160.3 748.0,1160.6 748.5,1162.8 749.0,1161.1 749.5,1162.3 750.0,1161.7 750.5,1161.1 751.0,1159.8 751.5,1160.8 752.0,1158.7 752.5,1160.8 753.0,1159.1 753.5,1158.8 754.0,1157.6 754.5,1157.1 755.0,1157.1 755.5,1156.5 756.0,1155.9 756.5,1155.4 757.0,1156.3 757.5,1156.9 758.0,1157.2 758.5,1155.9 759.0,1154.8 759.5,1155.2 760.0,1155.8 760.5,1154.1 761.0,1154.6 761.5,1153.8 762.0,1153.3 762.5,1152.3 763.0,1153.2 763.5,1151.5 764.0,1151.1 764.5,1152.0 765.0,1152.3 765.5,1151.9 766.0,1151.6 766.5,1150.3 767.0,1150.1 767.5,1151.0 768.0,1151.5 768.5,1147.0 769.0,1150.2 769.5,1149.0 770.0,1148.5 770.5,1147.6 771.0,1147.4 771.5,1146.7 772.0,1147.7 772.5,1146.3 773.0,1146.7 773.5,1145.3 774.0,1147.4 774.5,1146.7 775.0,1144.8 775.5,1145.9 776.0,1144.9 776.5,1144.2 777.0,1144.8 777.5,1145.2 778.0,1145.5 778.5,1144.2 779.0,1144.7 779.5,1144.0 780.0,1143.7 780.5,1143.8 781.0,1141.4 781.5,1142.0 782.0,1143.4 782.5,1140.6 783.0,1140.8 783.5,1143.0 784.0,1140.2 784.5,1140.9 785.0,1140.8 785.5,1140.0 786.0,1140.9 786.5,1140.6 787.0,1138.9 787.5,1140.8 788.0,1138.3 788.5,1138.4 789.0,1138.4 789.5,1138.5 790.0,1137.0 790.5,1138.0 791.0,1135.6 791.5,1136.8 792.0,1136.2 792.5,1136.2 793.0,1136.5 793.5,1136.5 794.0,1135.4 794.5,1135.8 795.0,1134.2 795.5,1135.0 796.0,1135.9 796.5,1134.2 797.0,1134.3 797.5,1134.3 798.0,1134.9 798.5,1134.2 799.0,1133.5 799.5,1132.5 800.0,1133.4 800.5,1130.4 801.0,1133.1 801.5,1131.8 802.0,1132.8 802.5,1132.0 803.0,1133.0 803.5,1131.0 804.0,1129.6 804.5,1131.2 805.0,1130.5 805.5,1130.6 806.0,1131.5 806.5,1129.5 807.0,1130.6 807.5,1130.6 808.0,1130.5 808.5,1127.6 809.0,1129.3 809.5,1128.3 810.0,1128.5 810.5,1127.8 811.0,1128.0 811.5,1128.9 812.0,1129.4 812.5,1128.3 813.0,1126.3 813.5,1128.3 814.0,1125.9 814.5,1126.5 815.0,1127.6 815.5,1125.9 816.0,1126.8 816.5,1125.7 817.0,1124.7 817.5,1125.7 818.0,1124.9 818.5,1126.7 819.0,1126.5 819.5,1126.1 820.0,1123.6 820.5,1126.0 821.0,1124.4 821.5,1124.4 822.0,1123.9 822.5,1123.0 823.0,1123.4 823.5,1123.9 824.0,1124.3 824.5,1123.2 825.0,1122.5 825.5,1121.9 826.0,1121.8 826.5,1123.4 827.0,1122.3 827.5,1121.7 828.0,1119.9 828.5,1119.6 829.0,1121.5 829.5,1121.3 830.0,1121.6 830.5,1120.5 831.0,1119.6 831.5,1118.5 832.0,1119.0 832.5,1117.5 833.0,1119.7 833.5,1119.6 834.0,1120.3 834.5,1117.2 835.0,1117.4 835.5,1119.0 836.0,1118.6 836.5,1116.3 837.0,1117.3 837.5,1117.8 838.0,1117.2 838.5,1117.7 839.0,1117.2 839.5,1116.5 840.0,1117.2 840.5,1116.6 841.0,1117.5 841.5,1115.0 842.0,1115.9 842.5,1115.3 843.0,1115.5 843.5,1115.9 844.0,1116.0 844.5,1113.3 845.0,1116.1 845.5,1115.3 846.0,1115.1 846.5,1114.6 847.0,1115.2 847.5,1114.5 848.0,1112.4 848.5,1113.2 849.0,1113.4 849.5,1113.1 850.0,1112.9 850.5,1113.7 851.0,1111.9 851.5,1112.1 852.0,1111.7 852.5,1112.4 853.0,1112.7 853.5,1111.3 854.0,1112.3 854.5,1111.3 855.0,1112.9 855.5,1109.4 856.0,1111.3 856.5,1112.1 857.0,1110.6 857.5,1109.8 858.0,1109.8 858.5,1111.0 859.0,1109.8 859.5,1111.1 860.0,1110.0 860.5,1109.3 861.0,1109.3 861.5,1109.9 862.0,1110.2 862.5,1108.5 863.0,1108.0 863.5,1107.8 864.0,1109.1 864.5,1110.2 865.0,1107.9 865.5,1108.8 866.0,1107.7 866.5,1108.8 867.0,1106.4 867.5,1108.2 868.0,1106.3 868.5,1106.6 869.0,1107.5 869.5,1106.8 870.0,1106.8 870.5,1107.2 871.0,1106.7 871.5,1107.7 872.0,1106.9 872.5,1105.3 873.0,1105.9 873.5,1105.3 874.0,1105.3 874.5,1107.1 875.0,1104.7 875.5,1106.4 876.0,1106.4 876.5,1107.4 877.0,1104.8 877.5,1104.9 878.0,1104.8 878.5,1104.0 879.0,1105.8 879.5,1105.8 880.0,1101.8 880.5,1103.5 881.0,1104.7 881.5,1102.5 882.0,1102.7 882.5,1103.2 883.0,1103.0 883.5,1102.7 884.0,1102.6 884.5,1104.3 885.0,1100.4 885.5,1101.9 886.0,1101.2 886.5,1102.3 887.0,1101.5 887.5,1102.2 888.0,1101.7 888.5,1103.6 889.0,1100.2 889.5,1100.8 890.0,1101.9 890.5,1100.6 891.0,1101.0 891.5,1099.3 892.0,1101.2 892.5,1100.3 893.0,1100.8 893.5,1099.3 894.0,1099.5 894.5,1099.1 895.0,1101.3 895.5,1098.0 896.0,1099.9 896.5,1099.6 897.0,1100.4 897.5,1099.4 898.0,1098.0 898.5,1099.3 899.0,1097.1 899.5,1099.5 900.0,1098.3 900.5,1097.6 901.0,1097.7 901.5,1098.6 902.0,1096.4 902.5,1099.4 903.0,1097.0 903.5,1098.9 904.0,1097.6 904.5,1099.1 905.0,1096.1 905.5,1097.9 906.0,1096.9 906.5,1096.2 907.0,1097.4 907.5,1096.3 908.0,1095.8 908.5,1096.1 909.0,1095.5 909.5,1095.9 910.0,1095.9 910.5,1096.8 911.0,1095.6 911.5,1094.9 912.0,1096.2 912.5,1095.0 913.0,1094.3 913.5,1094.0 914.0,1096.6 914.5,1094.8 915.0,1096.2 915.5,1093.7 916.0,1093.5 916.5,1096.0 917.0,1094.0 917.5,1094.0 918.0,1093.8 918.5,1093.0 919.0,1094.7 919.5,1092.6 920.0,1094.3 920.5,1092.5 921.0,1095.7 921.5,1093.9 922.0,1094.1 922.5,1091.5 923.0,1093.2 923.5,1092.2 924.0,1091.9 924.5,1091.8 925.0,1093.2 925.5,1092.4 926.0,1091.8 926.5,1091.6 927.0,1091.4 927.5,1091.4 928.0,1091.5 928.5,1090.6 929.0,1090.7 929.5,1089.4 930.0,1091.3 930.5,1091.8 931.0,1090.7 931.5,1092.3 932.0,1090.2 932.5,1090.8 933.0,1091.8 933.5,1090.8 934.0,1089.8 934.5,1090.7 935.0,1089.9 935.5,1091.2 936.0,1090.8 936.5,1089.8 937.0,1090.3 937.5,1091.3 938.0,1090.7 938.5,1090.3 939.0,1089.3 939.5,1088.8 940.0,1088.6 940.5,1090.1 941.0,1088.1 941.5,1089.3 942.0,1090.3 942.5,1087.3 943.0,1089.0 943.5,1087.6 944.0,1088.3 944.5,1088.8 945.0,1087.3 945.5,1086.9 946.0,1087.7 947.6,1090.0 M949.3,952.0 949.8,1050.0 950.2,1150.0 950.6,1236.0 951.6,1180.0 952.8,1160.0 953.0,1141.4 953.5,1142.8 954.0,1144.1 954.5,1148.2 955.0,1148.0 955.5,1149.6 956.0,1153.5 956.5,1158.1 957.0,1156.6 957.5,1159.1 958.0,1159.8 958.5,1162.2 959.0,1163.4 959.5,1167.0 960.0,1167.6 960.5,1169.2 961.0,1173.2 961.5,1171.9 962.0,1176.7 962.5,1177.0 963.0,1177.8 963.5,1180.6 964.0,1182.0 964.5,1184.4 965.0,1185.3 965.5,1189.6 966.0,1190.1 966.5,1191.8 967.0,1190.4 967.5,1193.1 968.0,1196.6 968.5,1197.4 969.0,1198.1 969.5,1199.5 970.0,1202.4 970.5,1200.2 971.0,1202.9 971.5,1203.7 972.0,1208.3 972.5,1206.6 973.0,1209.4 973.5,1212.8 974.0,1212.1 974.5,1214.2 975.0,1215.2 975.5,1217.4 976.0,1220.6 976.5,1217.7 977.0,1220.4 977.5,1223.8 978.0,1226.0 978.5,1224.0 979.0,1227.3 979.5,1227.6 980.0,1228.8 980.5,1227.4 981.0,1228.4 981.5,1231.8 982.0,1232.7 982.5,1233.9 983.0,1233.7 983.5,1238.2 984.0,1237.3 984.5,1242.1 985.0,1239.5 985.5,1241.4 986.0,1243.0 986.5,1242.7 987.0,1243.0 987.5,1244.6 988.0,1246.4 988.5,1246.8 989.0,1251.1 989.5,1248.9 990.0,1251.6 990.5,1252.7 991.0,1252.9 991.5,1252.4 992.0,1255.4 992.5,1256.9 993.0,1257.0 993.5,1257.8 994.0,1256.0 994.5,1258.3 995.0,1260.4 995.5,1261.9 996.0,1263.5 996.5,1263.1 997.0,1264.7 997.5,1264.1 998.0,1267.1 998.5,1268.1 999.0,1268.0 999.5,1270.3 1000.0,1269.6 1000.5,1270.2 1001.0,1271.4 1001.5,1275.1 1002.0,1271.5 1002.5,1274.6 1003.0,1274.8 1003.5,1276.2 1004.0,1275.1 1004.5,1278.7 1005.0,1279.5 1005.5,1279.1 1006.0,1279.8 1006.5,1281.2 1007.0,1283.2 1007.5,1280.8 1008.0,1285.3 1008.5,1284.0 1009.0,1286.2 1009.5,1284.9 1010.0,1289.2 1010.5,1287.9 1011.0,1290.6 1011.5,1288.3 1012.0,1289.1 1012.5,1292.1 1013.0,1292.3 1013.5,1292.6 1014.0,1294.5 1014.5,1294.2 1015.0,1294.0 1015.5,1292.8 1016.0,1293.0 1016.5,1297.4 1017.0,1298.1 1017.5,1296.9 1018.0,1299.5 1018.5,1299.2 1019.0,1300.3 1019.5,1302.1 1020.0,1299.6 1020.5,1302.8 1021.0,1303.7 1021.5,1303.5 1022.0,1304.6 1022.5,1303.6 1023.0,1305.9 1023.5,1307.2 1024.0,1308.1 1024.5,1306.9 1025.0,1309.4 1025.5,1309.4 1026.0,1310.6 1026.5,1310.3 1027.0,1311.8 1027.5,1311.9 1028.0,1315.4 1028.5,1312.6 1029.0,1315.0 1029.5,1314.2 1030.0,1313.0 1030.5,1316.1 1031.0,1317.6 1031.5,1317.7" stroke="#CC79A7" stroke-width="5.3" stroke-linecap="round" stroke-linejoin="round" fill="none" stroke-dasharray="7.3 12.1"/>
<path d="M140.0,1117.5 140.5,1117.0 141.0,1117.0 141.5,1116.5 142.0,1117.0 142.5,1116.8 143.0,1116.1 143.5,1116.1 144.0,1115.8 144.5,1115.7 145.0,1115.6 145.5,1115.3 146.0,1115.3 146.5,1115.3 147.0,1115.0 147.5,1115.0 148.0,1114.7 148.5,1114.6 149.0,1114.2 149.5,1114.5 150.0,1113.9 150.5,1113.9 151.0,1113.5 151.5,1113.8 152.0,1113.3 152.5,1113.5 153.0,1113.6 153.5,1113.1 154.0,1112.4 154.5,1112.9 155.0,1112.6 155.5,1112.6 156.0,1112.4 156.5,1112.4 157.0,1112.2 157.5,1111.8 158.0,1111.5 158.5,1111.5 159.0,1111.6 159.5,1110.9 160.0,1111.2 160.5,1110.6 161.0,1111.1 161.5,1111.1 162.0,1110.7 162.5,1110.3 163.0,1110.4 163.5,1110.4 164.0,1110.3 164.5,1110.1 165.0,1109.9 165.5,1109.4 166.0,1109.4 166.5,1109.4 167.0,1109.1 167.5,1108.6 168.0,1108.8 168.5,1108.6 169.0,1108.6 169.5,1108.5 170.0,1108.0 170.5,1108.0 171.0,1108.1 171.5,1107.7 172.0,1107.8 172.5,1107.5 173.0,1107.4 173.5,1107.5 174.0,1107.2 174.5,1107.0 175.0,1107.3 175.5,1106.8 176.0,1106.7 176.5,1106.6 177.0,1107.1 177.5,1106.4 178.0,1106.4 178.5,1106.0 179.0,1106.1 179.5,1106.0 180.0,1105.4 180.5,1105.6 181.0,1105.8 181.5,1105.7 182.0,1105.2 182.5,1105.5 183.0,1104.8 183.5,1105.0 184.0,1104.8 184.5,1104.3 185.0,1104.6 185.5,1104.0 186.0,1104.0 186.5,1104.0 187.0,1103.7 187.5,1104.0 188.0,1103.6 188.5,1103.3 189.0,1103.5 189.5,1103.3 190.0,1103.0 190.5,1103.0 191.0,1103.2 191.5,1103.0 192.0,1102.4 192.5,1102.8 193.0,1102.7 193.5,1102.6 194.0,1102.2 194.5,1102.0 195.0,1102.0 195.5,1101.8 196.0,1101.8 196.5,1101.6 197.0,1101.5 197.5,1101.4 198.0,1101.4 198.5,1101.3 199.0,1101.1 199.5,1100.9 200.0,1101.2 200.5,1101.0 201.0,1100.8 201.5,1100.4 202.0,1100.6 202.5,1100.3 203.0,1100.4 203.5,1100.2 204.0,1100.5 204.5,1099.9 205.0,1099.6 205.5,1099.9 206.0,1099.8 206.5,1099.7 207.0,1098.8 207.5,1099.1 208.0,1099.0 208.5,1098.7 209.0,1099.0 209.5,1099.0 210.0,1098.9 210.5,1098.8 211.0,1098.5 211.5,1098.7 212.0,1098.3 212.5,1097.6 213.0,1098.0 213.5,1097.8 214.0,1098.0 214.5,1097.7 215.0,1097.6 215.5,1097.9 216.0,1097.3 216.5,1097.1 217.0,1097.3 217.5,1097.3 218.0,1097.0 218.5,1097.0 219.0,1096.7 219.5,1096.5 220.0,1096.5 220.5,1096.4 221.0,1096.7 221.5,1096.3 222.0,1096.6 222.5,1096.1 223.0,1095.9 223.5,1096.0 224.0,1095.9 224.5,1096.1 225.0,1095.3 225.5,1095.5 226.0,1107.2 226.5,1109.5 227.0,1112.8 227.5,1115.4 228.0,1119.0 228.5,1121.6 229.0,1122.6 229.5,1125.4 230.0,1128.4 230.5,1131.2 231.0,1133.7 231.5,1135.9 232.0,1138.8 232.5,1141.3 233.0,1143.2 233.5,1145.3 234.0,1147.7 234.5,1149.4 235.0,1152.4 235.5,1154.6 236.0,1155.7 236.5,1159.0 237.0,1160.3 237.5,1162.7 238.0,1164.2 238.5,1166.1 239.0,1168.4 239.5,1169.4 240.0,1171.7 240.5,1173.0 241.0,1175.6 241.5,1177.0 242.0,1178.7 242.5,1180.3 243.0,1182.6 243.5,1184.1 244.0,1185.5 244.5,1187.0 245.0,1189.7 245.5,1191.2 246.0,1191.4 246.5,1194.1 247.0,1195.3 247.5,1196.7 248.0,1198.2 248.5,1198.8 249.0,1202.2 249.5,1203.4 250.0,1203.8 250.5,1205.1 251.0,1206.6 251.5,1207.5 252.0,1209.5 252.5,1210.5 253.0,1211.3 253.5,1212.9 254.0,1214.1 254.5,1215.4 255.0,1216.8 255.5,1218.5 256.0,1219.2 256.5,1219.8 257.0,1222.6 257.5,1222.8 258.0,1225.0 258.5,1225.5 259.0,1226.9 259.5,1227.3 260.0,1228.9 260.5,1229.8 261.0,1231.1 261.5,1232.4 262.0,1233.1 262.5,1234.8 263.0,1234.8 263.5,1236.0 264.0,1237.8 264.5,1238.9 265.0,1240.2 265.5,1241.5 266.0,1242.0 266.5,1243.1 267.0,1243.9 267.5,1244.8 268.0,1245.7 268.5,1246.8 269.0,1247.4 269.5,1248.6 270.0,1250.0 270.5,1250.8 271.0,1252.1 271.5,1252.2 272.0,1253.2 272.5,1254.5 273.0,1254.8 273.5,1255.7 274.0,1257.4 274.5,1257.8 275.0,1259.3 275.5,1259.8 276.0,1260.4 276.5,1261.0 277.0,1263.0 277.5,1263.2 278.0,1263.6 278.5,1264.2 279.0,1265.1 279.5,1266.4 280.0,1268.1 280.5,1267.8 281.0,1269.3 281.5,1270.0 282.0,1269.1 282.5,1270.9 283.0,1272.8 283.5,1272.1 284.0,1274.5 284.5,1274.8 285.0,1274.7 285.5,1277.3 286.0,1277.0 286.5,1278.7 287.0,1278.7 287.5,1279.0 288.0,1280.7 288.5,1281.8 289.0,1282.3 289.5,1281.8 290.0,1283.5 290.5,1283.3 291.0,1284.4 291.5,1286.1 292.0,1285.4 292.5,1288.1 293.0,1286.8 293.5,1287.7 294.0,1289.4 294.5,1289.7 295.0,1290.4 295.5,1290.7 296.0,1292.3 296.5,1292.7 297.0,1293.2 297.5,1293.6 298.0,1293.9 298.5,1295.4 299.0,1294.9 299.5,1296.4 300.0,1297.7 300.5,1298.4 301.0,1298.6 301.5,1298.1 302.0,1300.4 302.5,1301.2 303.0,1301.5 303.5,1302.7 304.0,1303.3 304.5,1302.5 305.0,1303.9 305.5,1304.4 306.0,1306.1 306.5,1306.5 307.0,1306.7 307.5,1307.6 308.0,1308.3 308.5,1308.2 309.0,1309.1 309.5,1309.7 310.0,1310.2 310.5,1310.9 311.0,1311.8 311.5,1311.6 312.0,1312.3 312.5,1313.9 313.0,1314.9 313.5,1315.7 314.0,1314.4 314.5,1316.1 315.0,1316.1 315.5,1316.8 316.0,1317.6 316.5,1318.5 317.0,1319.2 317.5,1318.2 318.0,1319.8 318.5,1321.2 319.0,1321.3 319.5,1321.0 320.0,1321.9 320.5,1322.6 321.0,1324.0 321.5,1325.0 322.0,1324.1 322.5,1325.5 323.0,1325.7 323.5,1326.7 324.0,1326.8 324.5,1326.9 325.0,1327.7 325.5,1328.3 326.0,1329.9 326.5,1329.3 327.0,1330.5 327.5,1330.4 328.0,1331.0 328.5,1332.0 329.0,1332.1 329.5,1333.9 330.0,1334.2 330.5,1333.4 331.0,1334.8 331.5,1335.8 332.0,1335.0 332.5,1335.9 333.0,1337.4 333.5,1336.8 334.0,1338.0 334.5,1338.2 335.0,1338.8 335.5,1338.7 336.0,1339.7 336.5,1340.1 337.0,1341.7 337.5,1341.6 338.0,1341.9 338.5,1342.3 339.0,1343.2 339.5,1342.5 340.0,1343.3 340.5,1343.8 341.0,1344.4 341.5,1344.5 342.0,1346.0 342.5,1346.0 343.0,1347.4 343.5,1347.2 344.0,1347.5 344.5,1348.4 345.0,1348.9 345.5,1349.0 346.0,1350.0 346.5,1350.8 347.0,1350.4 347.5,1351.7 348.0,1351.5 348.5,1352.5 349.0,1352.5 349.5,1352.8 350.0,1353.6 350.5,1353.3 351.0,1353.5 351.5,1354.8 352.0,1355.1 352.5,1355.2 353.0,1357.3 353.5,1356.8 354.0,1356.7 354.5,1357.8 355.0,1358.3 355.5,1358.2 356.0,1358.8 356.5,1358.4 357.0,1359.9 357.5,1361.2 358.0,1361.2 358.5,1361.6 359.0,1361.2 359.5,1361.4 360.0,1362.9 360.5,1363.0 361.0,1363.2 361.5,1363.5 362.0,1364.6 362.5,1364.9 363.0,1364.7 363.5,1365.4 364.0,1365.0 364.5,1365.7 365.0,1367.0 365.5,1366.9 366.0,1367.1 366.5,1368.1 367.0,1369.0 367.5,1368.3 368.0,1369.0 368.5,1369.4 369.0,1371.2 369.5,1370.9 370.0,1370.9 370.5,1370.5 371.0,1372.0 371.5,1372.3 372.0,1372.3 372.5,1372.4 373.0,1373.0 373.5,1372.8 374.0,1373.8 374.5,1374.2 375.0,1374.3 375.5,1375.0 376.0,1374.8 376.5,1376.5 377.0,1376.3 377.5,1376.1 378.0,1377.5 378.5,1377.8 379.0,1377.6 379.5,1377.6 380.0,1378.6 380.5,1379.2 381.0,1379.7 381.5,1380.2 382.0,1380.6 382.5,1379.8 383.0,1380.9 383.5,1380.3 384.0,1382.1 384.5,1382.2 385.0,1382.8 385.5,1382.7 386.0,1383.1 386.5,1383.2 387.0,1382.4 387.5,1384.1 388.0,1385.8 388.5,1385.5 389.0,1385.1 389.5,1385.8 390.0,1386.2 390.5,1386.0 391.0,1386.7 391.5,1387.2 392.0,1387.1 392.5,1387.9 393.0,1388.7 393.5,1388.8 394.0,1388.9 394.5,1389.0 395.0,1389.8 395.5,1389.5 396.0,1389.8 396.5,1391.1 397.0,1390.6 397.5,1390.5 398.0,1391.9 398.5,1392.2 399.0,1392.7 399.5,1392.4 400.0,1393.4 400.5,1393.1 401.0,1393.0 401.5,1393.7 402.0,1394.3 402.5,1393.9 403.0,1394.7 403.5,1395.2 404.0,1395.2 404.5,1395.8 405.0,1396.1 405.5,1396.0 406.0,1396.9 406.5,1397.3 407.0,1396.4 407.5,1397.3 408.0,1398.4 408.5,1398.5 409.0,1397.7 409.5,1399.0 410.0,1399.9 410.5,1400.0 411.0,1400.2 411.5,1400.1 412.0,1400.5 412.5,1400.2 413.0,1401.1 413.5,1402.5 414.0,1401.7 414.5,1401.5 415.0,1402.6 415.5,1401.6 416.0,1404.0 416.5,1403.5 417.0,1403.4 417.5,1403.6 418.0,1403.6 418.5,1404.4 419.0,1404.7 419.5,1404.2 420.0,1405.8 420.5,1405.4 421.0,1405.3 421.5,1406.6 422.0,1406.8 422.5,1406.4 423.0,1406.6 423.5,1407.8 424.0,1407.3 424.5,1407.9 425.0,1408.8 425.5,1407.8 426.0,1407.9 426.5,1408.5 427.0,1408.9 427.5,1409.5 428.0,1410.3 428.5,1409.8 429.0,1411.2 429.5,1410.7 430.0,1409.9 430.5,1411.1 431.0,1411.8 431.5,1412.2 432.0,1411.6 432.5,1412.2 433.0,1413.6 433.5,1412.8 434.0,1412.6 434.5,1412.5 435.0,1413.3 435.5,1414.0 436.0,1413.5 436.5,1415.0 437.0,1414.2 437.5,1413.9 438.0,1415.4 438.5,1415.4 439.0,1415.5 439.5,1416.5 440.0,1415.8 440.5,1416.7 441.0,1416.4 441.5,1417.7 442.0,1417.1 442.5,1417.4 443.0,1417.9 443.5,1417.8 444.0,1418.3 444.5,1418.2 445.0,1418.9 445.5,1418.9 446.0,1418.8 446.5,1419.6 447.0,1419.8 447.5,1419.3 448.0,1419.9 448.5,1419.5 449.0,1420.6 449.5,1421.2 450.0,1422.2 450.5,1421.4 451.0,1422.0 451.5,1422.5 452.0,1422.3 452.5,1421.3 453.0,1422.2 453.5,1422.8 454.0,1423.0 454.5,1423.2 455.0,1422.9 455.5,1422.6 456.0,1424.0 456.5,1424.6 457.0,1424.0 457.5,1424.8 458.0,1424.4 458.5,1424.9 459.0,1424.9 459.5,1425.8 460.0,1425.1 460.5,1425.9 461.0,1426.5 461.5,1426.3 462.0,1425.9 462.5,1426.9 463.0,1426.8 463.5,1426.5 464.0,1427.3 464.5,1427.4 465.0,1428.1 465.5,1427.8 466.0,1428.3 466.5,1428.7 467.0,1427.7 467.5,1429.3 468.0,1429.1 468.5,1428.8 469.0,1429.5 469.5,1430.2 470.0,1429.5 470.5,1429.8 471.0,1431.0 471.5,1431.3 472.0,1431.7 472.5,1430.9 473.0,1430.6 473.5,1430.8 474.0,1431.4 474.5,1431.2 475.0,1432.1 475.5,1432.8 476.0,1431.8 476.5,1433.3 477.0,1432.3 477.5,1432.6 478.0,1432.4 478.5,1433.7 479.0,1433.5 479.5,1433.7 480.0,1432.5 480.5,1433.8 481.0,1434.4 481.5,1433.1 482.0,1435.6 482.5,1435.0 483.0,1435.6 483.5,1435.1 484.0,1435.9 484.5,1436.3 485.0,1437.1 485.5,1435.5 486.0,1437.2 486.5,1435.8 487.0,1436.6 487.5,1436.5 488.0,1436.8 488.5,1436.2 489.0,1437.2 489.5,1436.9 490.0,1437.6 490.5,1438.0 491.0,1438.1 491.5,1438.2 492.0,1439.1 492.5,1438.7 493.0,1439.0 493.5,1439.6 494.0,1439.1 494.5,1439.3 495.0,1439.8 495.5,1439.5 496.0,1440.4 496.5,1439.7 497.0,1440.0 497.5,1440.3 498.0,1440.3 498.5,1440.7 499.0,1440.6 499.5,1439.8 500.0,1441.7 500.5,1441.1 501.0,1441.9 501.5,1441.1 502.0,1442.1 502.5,1441.4 503.0,1442.9 503.5,1442.3 504.0,1442.3 504.5,1441.2 505.0,1441.7 505.5,1442.7 506.0,1442.8 506.5,1443.0 507.0,1443.2 507.5,1444.1 508.0,1443.6 508.5,1443.7 509.0,1443.7 509.5,1443.7 510.0,1444.6 510.5,1444.4 511.0,1444.5 511.5,1445.0 512.0,1445.1 512.5,1445.6 513.0,1445.7 513.5,1444.9 514.0,1445.3 514.5,1446.3 515.0,1445.8 515.5,1446.4 516.0,1445.8 516.5,1445.2 517.0,1445.5 517.5,1446.4 518.0,1446.7 518.5,1448.2 519.0,1447.6 519.5,1447.7 520.0,1447.9 520.5,1446.8 521.0,1447.8 521.5,1447.9 522.0,1449.1 522.5,1447.9 523.0,1447.6 523.5,1448.6 524.0,1448.6 524.5,1448.9 525.0,1449.1 525.5,1449.2 526.0,1448.9 526.5,1449.2 527.0,1450.7 527.5,1449.4 528.0,1450.1 528.5,1449.5 529.0,1449.2 529.5,1450.7 530.0,1450.5 530.5,1451.2 531.0,1451.2 531.5,1450.9 532.0,1450.6 532.5,1452.1 533.0,1451.3 533.5,1452.4 534.0,1451.9 534.5,1452.1 535.0,1452.1 535.5,1452.2 536.0,1452.0 536.5,1453.4 537.0,1451.9 537.5,1451.7 538.0,1452.8 538.5,1452.4 539.0,1453.4 539.5,1452.9 540.0,1453.7 540.5,1453.3 541.0,1453.0 541.5,1453.4 542.0,1454.0 542.5,1453.5 543.0,1453.5 543.5,1453.9 544.0,1454.3 544.5,1454.9 545.0,1454.6 545.5,1454.9 546.0,1454.6 546.5,1455.7 547.0,1456.0 547.5,1454.7 548.0,1455.3 548.5,1455.2 549.0,1455.5 549.5,1455.3 550.0,1455.3 550.5,1455.1 551.0,1455.6 551.5,1456.0 552.0,1456.6 552.5,1456.5 553.0,1456.1 553.5,1456.1 554.0,1455.8 554.5,1457.0 555.0,1456.9 555.5,1457.2 556.0,1457.4 556.5,1457.4 557.0,1457.2 557.5,1457.2 558.0,1457.0 558.5,1457.3 559.0,1457.9 559.5,1459.0 560.0,1457.7 560.5,1458.2 561.0,1459.8 561.5,1458.3 562.0,1458.2 562.5,1458.5 563.0,1458.5 563.5,1457.8 564.0,1459.2 564.5,1458.1 565.0,1458.8 565.5,1458.9 566.0,1459.5 566.5,1459.2 567.0,1459.2 567.5,1459.1 568.0,1459.8 568.5,1459.6 569.0,1459.5 569.5,1459.3 570.0,1459.6 570.5,1460.2 571.0,1459.5 571.5,1460.4 572.0,1460.5 572.5,1461.2 573.0,1460.3 573.5,1460.3 574.0,1460.8 574.5,1460.8 575.0,1459.8 575.5,1461.8 576.0,1461.4 576.5,1461.5 577.0,1461.1 577.5,1461.8 578.0,1461.5 578.5,1462.6 579.0,1462.2 579.5,1462.7 580.0,1461.5 580.5,1461.8 581.0,1462.1 581.5,1462.1 582.0,1463.3 582.5,1462.8 583.0,1462.1 583.5,1462.6 584.0,1463.8 584.5,1462.8 585.0,1463.4 585.5,1462.3 586.0,1463.0 586.5,1463.3 587.0,1463.3 587.5,1463.5 588.0,1463.8 588.5,1464.3 589.0,1463.0 589.5,1463.9 590.0,1464.4 590.5,1464.2 591.0,1464.8 591.5,1464.2 592.0,1464.2 592.5,1464.1 593.0,1465.0 593.5,1464.0 594.0,1464.5 594.5,1464.8 595.0,1465.2 595.5,1464.9 596.0,1411.3 596.5,1409.7 597.0,1407.5 597.5,1405.7 598.0,1403.6 598.5,1402.2 599.0,1400.4 599.5,1398.2 600.0,1396.8 600.5,1395.2 601.0,1393.2 601.5,1391.3 602.0,1389.9 602.5,1388.4 603.0,1386.2 603.5,1385.1 604.0,1383.3 604.5,1381.9 605.0,1379.9 605.5,1378.7 606.0,1377.0 606.5,1375.6 607.0,1373.9 607.5,1372.5 608.0,1370.8 608.5,1369.2 609.0,1367.6 609.5,1366.1 610.0,1364.9 610.5,1363.4 611.0,1362.0 611.5,1360.6 612.0,1359.3 612.5,1357.8 613.0,1356.3 613.5,1355.2 614.0,1354.1 614.5,1352.2 615.0,1350.9 615.5,1349.8 616.0,1348.3 616.5,1347.3 617.0,1345.7 617.5,1344.3 618.0,1343.1 618.5,1342.2 619.0,1340.4 619.5,1339.5 620.0,1337.9 620.5,1337.2 621.0,1335.9 621.5,1334.8 622.0,1333.9 622.5,1332.3 623.0,1331.4 623.5,1330.1 624.0,1329.0 624.5,1327.5 625.0,1326.8 625.5,1325.4 626.0,1324.6 626.5,1323.4 627.0,1322.1 627.5,1321.1 628.0,1320.0 628.5,1318.9 629.0,1318.3 629.5,1316.6 630.0,1315.4 630.5,1314.4 631.0,1313.5 631.5,1312.5 632.0,1311.7 632.5,1310.7 633.0,1309.6 633.5,1308.5 634.0,1307.3 634.5,1306.7 635.0,1305.8 635.5,1304.5 636.0,1303.7 636.5,1302.5 637.0,1301.7 637.5,1300.8 638.0,1300.0 638.5,1298.6 639.0,1297.9 639.5,1297.2 640.0,1296.2 640.5,1295.3 641.0,1293.8 641.5,1293.2 642.0,1292.4 642.5,1291.4 643.0,1290.2 643.5,1290.0 644.0,1289.0 644.5,1287.7 645.0,1287.1 645.5,1286.4 646.0,1285.7 646.5,1284.8 647.0,1283.6 647.5,1282.8 648.0,1282.2 648.5,1281.5 649.0,1280.4 649.5,1279.6 650.0,1279.0 650.5,1278.1 651.0,1277.5 651.5,1276.6 652.0,1275.9 652.5,1274.5 653.0,1273.8 653.5,1273.0 654.0,1272.4 654.5,1271.8 655.0,1270.9 655.5,1270.3 656.0,1269.3 656.5,1268.9 657.0,1268.2 657.5,1266.9 658.0,1266.3 658.5,1265.6 659.0,1265.2 659.5,1264.4 660.0,1263.9 660.5,1262.5 661.0,1262.2 661.5,1261.4 662.0,1260.6 662.5,1260.0 663.0,1258.9 663.5,1258.6 664.0,1257.8 664.5,1256.9 665.0,1256.8 665.5,1255.7 666.0,1255.2 666.5,1254.3 667.0,1253.5 667.5,1253.0 668.0,1252.5 668.5,1251.6 669.0,1251.2 669.5,1250.8 670.0,1250.1 670.5,1249.1 671.0,1248.4 671.5,1248.1 672.0,1246.9 672.5,1246.4 673.0,1246.3 673.5,1245.4 674.0,1244.8 674.5,1244.0 675.0,1244.0 675.5,1243.5 676.0,1242.2 676.5,1241.8 677.0,1240.9 677.5,1240.5 678.0,1240.0 678.5,1239.4 679.0,1238.5 679.5,1238.0 680.0,1237.9 680.5,1237.0 681.0,1236.5 681.5,1235.7 682.0,1235.0 682.5,1234.2 683.0,1233.6 683.5,1232.9 684.0,1232.5 684.5,1231.9 685.0,1231.7 685.5,1230.6 686.0,1230.5 686.5,1229.5 687.0,1229.8 687.5,1228.6 688.0,1228.2 688.5,1228.0 689.0,1227.0 689.5,1226.5 690.0,1226.0 690.5,1225.5 691.0,1224.8 691.5,1224.7 692.0,1224.0 692.5,1223.3 693.0,1223.0 693.5,1222.2 694.0,1221.6 694.5,1221.1 695.0,1220.7 695.5,1219.8 696.0,1219.5 696.5,1219.2 697.0,1218.3 697.5,1218.1 698.0,1217.3 698.5,1217.1 699.0,1216.5 699.5,1216.1 700.0,1215.4 700.5,1214.6 701.0,1214.0 701.5,1214.8 702.0,1213.2 702.5,1212.8 703.0,1212.2 703.5,1212.3 704.0,1211.7 704.5,1211.2 705.0,1210.3 705.5,1210.3 706.0,1209.4 706.5,1209.4 707.0,1208.6 707.5,1207.7 708.0,1207.7 708.5,1207.0 709.0,1207.3 709.5,1206.0 710.0,1205.8 710.5,1205.3 711.0,1204.7 711.5,1204.3 712.0,1204.0 712.5,1203.6 713.0,1203.0 713.5,1202.6 714.0,1202.2 714.5,1201.5 715.0,1201.2 715.5,1200.8 716.0,1200.6 716.5,1200.1 717.0,1199.6 717.5,1199.2 718.0,1198.4 718.5,1198.4 719.0,1197.6 719.5,1197.3 720.0,1196.8 720.5,1196.6 721.0,1195.9 721.5,1195.7 722.0,1195.1 722.5,1194.6 723.0,1194.4 723.5,1193.7 724.0,1193.7 724.5,1192.9 725.0,1192.5 725.5,1192.4 726.0,1191.5 726.5,1191.6 727.0,1191.0 727.5,1190.6 728.0,1190.2 728.5,1189.5 729.0,1189.7 729.5,1189.0 730.0,1188.7 730.5,1188.3 731.0,1187.9 731.5,1187.4 732.0,1186.7 732.5,1186.3 733.0,1185.9 733.5,1185.6 734.0,1185.6 734.5,1184.7 735.0,1184.5 735.5,1184.3 736.0,1183.7 736.5,1183.4 737.0,1182.8 737.5,1182.7 738.0,1182.1 738.5,1181.7 739.0,1181.4 739.5,1181.2 740.0,1181.0 740.5,1180.1 741.0,1180.1 741.5,1179.4 742.0,1178.9 742.5,1178.8 743.0,1178.5 743.5,1178.2 744.0,1177.9 744.5,1177.0 745.0,1177.4 745.5,1176.9 746.0,1176.5 746.5,1175.7 747.0,1175.7 747.5,1175.2 748.0,1174.8 748.5,1174.6 749.0,1173.9 749.5,1174.1 750.0,1173.7 750.5,1173.3 751.0,1173.1 751.5,1172.1 752.0,1172.1 752.5,1171.7 753.0,1171.2 753.5,1171.3 754.0,1171.3 754.5,1170.2 755.0,1170.2 755.5,1169.8 756.0,1169.5 756.5,1169.1 757.0,1168.9 757.5,1168.3 758.0,1168.0 758.5,1168.1 759.0,1167.4 759.5,1167.1 760.0,1166.4 760.5,1166.5 761.0,1166.2 761.5,1165.9 762.0,1165.8 762.5,1164.8 763.0,1165.0 763.5,1164.2 764.0,1164.0 764.5,1163.5 765.0,1163.7 765.5,1163.2 766.0,1162.8 766.5,1162.6 767.0,1161.9 767.5,1161.9 768.0,1161.7 768.5,1161.2 769.0,1161.0 769.5,1160.4 770.0,1160.5 770.5,1160.1 771.0,1159.9 771.5,1159.8 772.0,1159.2 772.5,1158.8 773.0,1158.7 773.5,1158.1 774.0,1158.4 774.5,1157.7 775.0,1157.4 775.5,1157.2 776.0,1156.6 776.5,1156.5 777.0,1156.2 777.5,1156.4 778.0,1156.0 778.5,1155.8 779.0,1155.1 779.5,1154.8 780.0,1154.7 780.5,1154.1 781.0,1153.8 781.5,1154.0 782.0,1153.5 782.5,1153.2 783.0,1152.5 783.5,1152.5 784.0,1152.2 784.5,1151.8 785.0,1151.8 785.5,1151.2 786.0,1150.9 786.5,1151.3 787.0,1150.7 787.5,1150.1 788.0,1150.5 788.5,1149.9 789.0,1149.6 789.5,1148.7 790.0,1149.3 790.5,1148.8 791.0,1148.7 791.5,1148.5 792.0,1147.7 792.5,1148.1 793.0,1147.6 793.5,1147.2 794.0,1146.4 794.5,1147.0 795.0,1146.4 795.5,1146.2 796.0,1145.6 796.5,1145.7 797.0,1145.5 797.5,1145.4 798.0,1144.7 798.5,1144.1 799.0,1144.2 799.5,1143.9 800.0,1143.9 800.5,1143.5 801.0,1143.4 801.5,1143.3 802.0,1143.2 802.5,1142.6 803.0,1142.0 803.5,1142.1 804.0,1141.8 804.5,1141.6 805.0,1141.3 805.5,1141.1 806.0,1140.4 806.5,1140.7 807.0,1140.5 807.5,1140.2 808.0,1139.9 808.5,1139.8 809.0,1139.1 809.5,1139.2 810.0,1139.1 810.5,1138.6 811.0,1138.5 811.5,1138.5 812.0,1138.0 812.5,1137.6 813.0,1137.5 813.5,1137.4 814.0,1136.9 814.5,1136.9 815.0,1136.6 815.5,1136.4 816.0,1136.3 816.5,1136.1 817.0,1135.8 817.5,1135.6 818.0,1135.4 818.5,1134.9 819.0,1134.9 819.5,1134.4 820.0,1134.7 820.5,1134.2 821.0,1133.7 821.5,1133.7 822.0,1133.7 822.5,1133.4 823.0,1132.8 823.5,1133.2 824.0,1132.7 824.5,1132.5 825.0,1132.2 825.5,1131.9 826.0,1131.5 826.5,1131.6 827.0,1131.4 827.5,1131.1 828.0,1131.1 828.5,1130.8 829.0,1130.4 829.5,1130.3 830.0,1130.4 830.5,1129.7 831.0,1130.2 831.5,1129.4 832.0,1129.8 832.5,1129.2 833.0,1128.6 833.5,1128.8 834.0,1128.5 834.5,1128.2 835.0,1128.1 835.5,1127.9 836.0,1127.1 836.5,1127.7 837.0,1127.3 837.5,1127.1 838.0,1127.1 838.5,1126.7 839.0,1126.3 839.5,1126.5 840.0,1126.1 840.5,1126.0 841.0,1125.6 841.5,1125.5 842.0,1125.2 842.5,1125.5 843.0,1124.8 843.5,1125.0 844.0,1124.3 844.5,1124.5 845.0,1124.2 845.5,1124.3 846.0,1123.9 846.5,1124.1 847.0,1124.1 847.5,1123.2 848.0,1123.3 848.5,1122.8 849.0,1122.6 849.5,1122.6 850.0,1122.6 850.5,1122.4 851.0,1122.0 851.5,1122.1 852.0,1121.5 852.5,1121.3 853.0,1121.3 853.5,1120.8 854.0,1121.3 854.5,1120.8 855.0,1120.6 855.5,1120.5 856.0,1120.0 856.5,1120.1 857.0,1119.6 857.5,1119.7 858.0,1119.6 858.5,1119.7 859.0,1119.2 859.5,1119.3 860.0,1118.9 860.5,1118.4 861.0,1118.7 861.5,1118.4 862.0,1118.1 862.5,1118.2 863.0,1117.7 863.5,1117.7 864.0,1117.7 864.5,1117.6 865.0,1117.1 865.5,1117.1 866.0,1116.9 866.5,1116.9 867.0,1116.5 867.5,1116.0 868.0,1116.2 868.5,1116.4 869.0,1115.8 869.5,1115.7 870.0,1115.8 870.5,1115.4 871.0,1115.1 871.5,1115.1 872.0,1114.9 872.5,1114.6 873.0,1114.6 873.5,1114.2 874.0,1114.0 874.5,1114.0 875.0,1114.0 875.5,1113.9 876.0,1113.6 876.5,1113.8 877.0,1113.5 877.5,1113.3 878.0,1113.4 878.5,1113.3 879.0,1113.0 879.5,1112.6 880.0,1112.7 880.5,1112.6 881.0,1112.3 881.5,1112.1 882.0,1112.0 882.5,1111.9 883.0,1111.3 883.5,1111.8 884.0,1111.4 884.5,1111.6 885.0,1111.1 885.5,1110.8 886.0,1110.9 886.5,1110.6 887.0,1110.7 887.5,1110.3 888.0,1110.1 888.5,1109.9 889.0,1109.8 889.5,1109.9 890.0,1109.4 890.5,1109.5 891.0,1109.6 891.5,1109.0 892.0,1109.0 892.5,1108.8 893.0,1108.7 893.5,1108.7 894.0,1108.7 894.5,1108.6 895.0,1108.1 895.5,1108.2 896.0,1107.9 896.5,1107.6 897.0,1107.5 897.5,1107.2 898.0,1107.4 898.5,1106.9 899.0,1107.2 899.5,1107.6 900.0,1106.7 900.5,1106.4 901.0,1106.7 901.5,1106.3 902.0,1106.4 902.5,1106.3 903.0,1106.2 903.5,1106.5 904.0,1105.9 904.5,1105.8 905.0,1105.6 905.5,1105.3 906.0,1105.2 906.5,1105.0 907.0,1105.3 907.5,1105.0 908.0,1105.0 908.5,1104.8 909.0,1105.1 909.5,1104.5 910.0,1104.5 910.5,1104.1 911.0,1104.4 911.5,1104.0 912.0,1103.9 912.5,1103.5 913.0,1103.8 913.5,1103.9 914.0,1103.7 914.5,1103.1 915.0,1103.3 915.5,1102.9 916.0,1102.6 916.5,1102.6 917.0,1102.9 917.5,1102.5 918.0,1102.2 918.5,1102.4 919.0,1102.3 919.5,1102.0 920.0,1102.1 920.5,1101.8 921.0,1102.0 921.5,1101.8 922.0,1101.5 922.5,1101.5 923.0,1101.5 923.5,1101.2 924.0,1101.2 924.5,1100.9 925.0,1100.8 925.5,1100.4 926.0,1100.4 926.5,1100.3 927.0,1100.4 927.5,1100.8 928.0,1100.0 928.5,1100.0 929.0,1099.7 929.5,1099.8 930.0,1099.7 930.5,1099.8 931.0,1099.2 931.5,1099.5 932.0,1099.3 932.5,1099.1 933.0,1098.8 933.5,1098.8 934.0,1098.8 934.5,1098.9 935.0,1098.6 935.5,1098.4 936.0,1098.5 936.5,1098.1 937.0,1098.4 937.5,1098.7 938.0,1097.9 938.5,1098.1 939.0,1097.6 939.5,1097.8 940.0,1097.7 940.5,1097.8 941.0,1097.4 941.5,1097.6 942.0,1097.0 942.5,1097.1 943.0,1097.0 943.5,1096.9 944.0,1096.8 944.5,1097.1 945.0,1096.6 945.5,1096.7 946.0,1096.5 946.5,1096.8 947.0,1096.2 947.5,1096.3 948.0,1096.2 948.5,1095.3 949.0,1095.9 949.5,1096.0 950.0,1096.0 950.5,1095.4 951.0,1108.1 951.5,1111.7 952.0,1113.3 952.5,1116.3 953.0,1119.7 953.5,1122.4 954.0,1125.4 954.5,1127.8 955.0,1129.9 955.5,1131.8 956.0,1134.4 956.5,1137.2 957.0,1139.7 957.5,1141.9 958.0,1144.5 958.5,1146.0 959.0,1148.4 959.5,1150.1 960.0,1153.9 960.5,1154.9 961.0,1157.6 961.5,1159.8 962.0,1161.3 962.5,1163.0 963.0,1164.8 963.5,1166.9 964.0,1168.0 964.5,1170.5 965.0,1173.0 965.5,1174.5 966.0,1176.6 966.5,1178.3 967.0,1180.0 967.5,1181.4 968.0,1183.1 968.5,1185.1 969.0,1186.1 969.5,1187.2 970.0,1189.9 970.5,1191.1 971.0,1193.2 971.5,1193.8 972.0,1194.8 972.5,1197.1 973.0,1198.3 973.5,1199.6 974.0,1202.3 974.5,1203.1 975.0,1203.8 975.5,1204.9 976.0,1207.1 976.5,1208.8 977.0,1209.9 977.5,1211.7 978.0,1212.6 978.5,1214.0 979.0,1214.1 979.5,1216.9 980.0,1217.3 980.5,1219.2 981.0,1219.2 981.5,1220.8 982.0,1223.0 982.5,1223.0 983.0,1224.9 983.5,1225.8 984.0,1228.0 984.5,1228.4 985.0,1230.0 985.5,1230.5 986.0,1230.8 986.5,1233.7 987.0,1233.5 987.5,1234.9 988.0,1235.9 988.5,1236.2 989.0,1238.4 989.5,1238.9 990.0,1239.3 990.5,1240.4 991.0,1241.1 991.5,1242.8 992.0,1244.1 992.5,1244.7 993.0,1246.2 993.5,1247.0 994.0,1248.4 994.5,1249.1 995.0,1250.0 995.5,1250.6 996.0,1251.3 996.5,1252.4 997.0,1254.0 997.5,1254.5 998.0,1256.4 998.5,1257.0 999.0,1256.8 999.5,1258.6 1000.0,1259.9 1000.5,1259.8 1001.0,1261.6 1001.5,1261.5 1002.0,1263.5 1002.5,1263.9 1003.0,1264.3 1003.5,1264.5 1004.0,1266.1 1004.5,1266.6 1005.0,1268.0 1005.5,1268.2 1006.0,1269.7 1006.5,1270.1 1007.0,1271.4 1007.5,1272.3 1008.0,1272.8 1008.5,1273.8 1009.0,1274.9 1009.5,1274.6 1010.0,1276.2 1010.5,1276.8 1011.0,1278.3 1011.5,1278.2 1012.0,1279.5 1012.5,1278.9 1013.0,1281.2 1013.5,1281.5 1014.0,1282.3 1014.5,1283.3 1015.0,1282.9 1015.5,1284.2 1016.0,1285.1 1016.5,1285.6 1017.0,1286.2 1017.5,1287.7 1018.0,1288.0 1018.5,1288.6 1019.0,1289.4 1019.5,1290.8 1020.0,1291.8 1020.5,1292.1 1021.0,1292.5 1021.5,1292.3 1022.0,1293.3 1022.5,1293.9 1023.0,1294.5 1023.5,1296.3 1024.0,1296.1 1024.5,1297.8 1025.0,1297.8 1025.5,1298.4 1026.0,1299.0 1026.5,1299.1 1027.0,1300.2 1027.5,1301.5 1028.0,1302.1 1028.5,1302.5 1029.0,1303.4 1029.5,1303.8 1030.0,1304.6 1030.5,1306.2 1031.0,1305.7 1031.5,1305.4" stroke="#56B4E9" stroke-width="5.3" stroke-linecap="round" stroke-linejoin="round" fill="none" stroke-dasharray="0 8.72"/>
<path d="M140.0,1106.0 140.5,1113.4 141.0,1118.5 141.5,1122.6 142.0,1116.8 142.5,1117.5 143.0,1119.9 143.2,1132.0 143.4,1119.9 143.5,1110.9 144.0,1115.9 144.5,1117.8 145.0,1113.6 145.5,1111.0 146.0,1118.3 146.5,1121.3 147.0,1115.4 147.5,1101.8 148.0,1110.2 148.5,1112.1 149.0,1116.6 149.5,1111.4 150.0,1111.4 150.5,1119.0 151.0,1120.4 151.5,1113.6 152.0,1106.9 152.5,1106.0 153.0,1116.1 153.5,1108.1 154.0,1112.1 154.5,1111.0 155.0,1112.6 155.5,1113.5 156.0,1105.7 156.5,1107.7 157.0,1112.1 157.5,1111.0 158.0,1103.2 158.5,1121.1 159.0,1102.6 159.5,1115.9 160.0,1101.0 160.5,1115.1 161.0,1099.8 161.5,1114.5 162.0,1110.2 162.5,1113.4 163.0,1104.7 163.2,1117.9 163.4,1104.7 163.5,1110.1 164.0,1109.9 164.5,1109.2 165.0,1105.1 165.5,1115.5 166.0,1097.8 166.2,1108.6 166.4,1097.8 166.5,1099.1 167.0,1099.4 167.2,1091.0 167.4,1099.4 167.5,1115.2 168.0,1102.2 168.5,1102.9 169.0,1102.8 169.5,1104.9 170.0,1105.0 170.5,1103.6 171.0,1097.7 171.5,1108.3 172.0,1105.8 172.5,1114.0 172.7,1124.3 172.9,1114.0 173.0,1107.8 173.5,1104.9 174.0,1097.2 174.5,1105.5 175.0,1108.2 175.5,1114.0 176.0,1106.8 176.5,1108.9 177.0,1107.6 177.5,1113.2 178.0,1110.3 178.5,1104.1 179.0,1095.7 179.5,1112.6 180.0,1103.9 180.5,1098.8 181.0,1095.1 181.5,1093.1 182.0,1104.2 182.5,1101.7 183.0,1104.1 183.5,1109.0 184.0,1098.7 184.5,1103.6 185.0,1098.9 185.5,1096.8 186.0,1089.1 186.5,1097.0 187.0,1107.2 187.5,1098.2 188.0,1102.6 188.5,1101.5 189.0,1111.9 189.5,1108.7 190.0,1096.8 190.5,1097.9 191.0,1106.5 191.5,1101.3 192.0,1100.5 192.5,1106.3 193.0,1102.8 193.5,1100.3 194.0,1116.2 194.5,1101.5 195.0,1091.7 195.5,1100.8 195.7,1089.3 195.9,1100.8 196.0,1100.3 196.5,1108.1 197.0,1100.4 197.5,1094.9 198.0,1100.4 198.5,1091.3 199.0,1096.0 199.5,1099.8 200.0,1092.9 200.5,1086.3 201.0,1091.6 201.5,1092.7 202.0,1100.2 202.5,1094.3 203.0,1096.3 203.5,1091.3 204.0,1096.8 204.5,1092.8 205.0,1099.2 205.2,1114.1 205.4,1099.2 205.5,1097.3 206.0,1103.8 206.5,1098.9 207.0,1093.7 207.5,1090.5 208.0,1096.4 208.5,1099.1 209.0,1103.6 209.5,1091.7 210.0,1087.3 210.5,1084.4 211.0,1088.8 211.2,1104.0 211.4,1088.8 211.5,1093.1 212.0,1092.5 212.5,1092.1 213.0,1093.5 213.5,1095.4 214.0,1084.1 214.2,1072.5 214.4,1084.1 214.5,1093.5 215.0,1092.2 215.5,1092.0 215.7,1106.3 215.9,1092.0 216.0,1090.5 216.5,1082.4 217.0,1095.2 217.5,1089.8 218.0,1091.7 218.5,1093.9 219.0,1092.3 219.5,1094.2 220.0,1094.2 220.5,1086.6 221.0,1085.3 222.0,1094.0 224.0,1098.0 225.5,1080.0 227.0,995.0 227.8,1060.0 228.5,1150.0 229.5,1120.0 231.0,1052.0 232.0,1120.0 233.5,1162.0 233.5,1161.4 234.0,1148.1 234.5,1175.7 235.0,1147.2 235.5,1159.7 236.0,1158.6 236.5,1162.6 237.0,1152.8 237.5,1165.3 238.0,1181.3 238.5,1159.4 239.0,1145.4 239.5,1172.2 240.0,1171.1 240.5,1174.4 241.0,1162.1 241.5,1174.1 242.0,1179.4 242.5,1168.1 243.0,1173.9 243.5,1179.1 244.0,1182.2 244.5,1174.4 245.0,1179.2 245.5,1196.4 246.0,1197.7 246.5,1171.0 247.0,1201.1 247.5,1179.0 248.0,1193.0 248.5,1173.3 248.7,1184.9 248.9,1173.3 249.0,1183.6 249.5,1180.4 250.0,1194.6 250.5,1190.1 251.0,1193.1 251.5,1193.7 252.0,1192.9 252.5,1197.9 253.0,1194.1 253.5,1193.8 254.0,1191.5 254.2,1180.9 254.4,1191.5 254.5,1190.8 255.0,1193.9 255.5,1200.3 256.0,1205.1 256.5,1199.2 257.0,1212.8 257.5,1209.3 258.0,1203.0 258.5,1205.8 259.0,1204.5 259.5,1194.6 260.0,1211.4 260.5,1208.7 261.0,1198.2 261.5,1214.5 262.0,1206.7 262.5,1210.2 263.0,1204.6 263.5,1212.9 264.0,1215.8 264.5,1213.0 265.0,1215.7 265.5,1208.3 266.0,1219.8 266.5,1218.1 267.0,1219.1 267.5,1223.1 268.0,1225.5 268.5,1221.5 268.7,1208.3 268.9,1221.5 269.0,1226.7 269.2,1215.9 269.4,1226.7 269.5,1231.7 270.0,1219.7 270.5,1225.7 271.0,1219.1 271.2,1204.9 271.4,1219.1 271.5,1228.6 272.0,1233.9 272.5,1228.2 273.0,1224.6 273.5,1228.1 274.0,1233.1 274.5,1225.6 275.0,1226.8 275.5,1235.9 276.0,1228.7 276.5,1235.8 277.0,1231.6 277.5,1230.1 278.0,1241.6 278.5,1243.8 279.0,1236.2 279.5,1250.7 280.0,1242.0 280.5,1244.5 281.0,1243.8 281.5,1239.1 282.0,1249.2 282.5,1246.1 283.0,1248.6 283.5,1247.8 284.0,1246.2 284.5,1259.2 285.0,1251.5 285.5,1249.4 286.0,1254.1 286.2,1239.2 286.4,1254.1 286.5,1246.6 287.0,1254.4 287.5,1265.5 288.0,1251.3 288.5,1257.3 289.0,1250.6 289.5,1256.8 290.0,1262.3 290.5,1253.7 291.0,1254.8 291.5,1264.8 292.0,1261.6 292.5,1264.1 293.0,1264.3 293.5,1257.0 294.0,1255.9 294.5,1255.8 295.0,1267.1 295.5,1259.4 296.0,1258.5 296.5,1264.6 297.0,1267.2 297.5,1269.7 298.0,1261.2 298.5,1275.9 299.0,1266.5 299.5,1272.1 300.0,1271.9 300.5,1268.4 301.0,1275.3 301.5,1275.8 302.0,1280.0 302.5,1284.2 303.0,1285.9 303.5,1281.3 304.0,1280.8 304.5,1276.9 305.0,1272.5 305.5,1281.8 306.0,1278.0 306.5,1280.1 307.0,1279.8 307.2,1291.1 307.4,1279.8 307.5,1284.5 308.0,1281.5 308.5,1294.6 309.0,1288.5 309.5,1283.0 310.0,1287.6 310.5,1292.9 311.0,1282.0 311.5,1288.9 312.0,1286.3 312.5,1289.5 313.0,1287.7 313.5,1291.4 314.0,1293.3 314.5,1294.7 315.0,1285.9 315.5,1296.3 316.0,1293.9 316.5,1291.6 317.0,1294.8 317.5,1302.9 318.0,1295.6 318.5,1293.0 319.0,1300.7 319.5,1297.3 320.0,1302.0 320.5,1300.6 321.0,1306.2 321.5,1298.0 322.0,1299.6 322.5,1306.8 323.0,1310.1 323.5,1304.1 324.0,1309.1 324.5,1306.4 325.0,1304.9 325.5,1298.1 326.0,1315.5 326.5,1311.9 327.0,1297.1 327.5,1311.4 328.0,1305.7 328.5,1304.4 329.0,1307.0 329.5,1313.4 329.7,1328.7 329.9,1313.4 330.0,1310.4 330.5,1310.2 331.0,1311.0 331.5,1310.6 332.0,1315.2 332.5,1304.3 333.0,1308.0 333.5,1313.8 334.0,1309.8 334.5,1316.3 335.0,1314.4 335.5,1318.4 335.7,1329.4 335.9,1318.4 336.0,1316.5 336.5,1320.5 337.0,1318.3 337.5,1322.1 338.0,1317.9 338.5,1312.1 339.0,1320.6 339.5,1321.2 340.0,1319.4 340.5,1326.7 340.7,1335.7 340.9,1326.7 341.0,1325.1 341.5,1330.2 342.0,1322.1 342.2,1330.4 342.4,1322.1 342.5,1322.6 343.0,1327.2 343.5,1332.1 343.7,1320.4 343.9,1332.1 344.0,1322.8 344.5,1328.6 345.0,1326.8 345.5,1326.1 345.7,1314.6 345.9,1326.1 346.0,1332.0 346.5,1332.4 347.0,1332.2 347.5,1326.6 348.0,1330.0 348.5,1323.0 348.7,1333.6 348.9,1323.0 349.0,1333.4 349.5,1325.7 350.0,1330.8 350.5,1336.2 351.0,1331.9 351.5,1334.1 352.0,1330.9 352.2,1319.2 352.4,1330.9 352.5,1346.0 353.0,1329.5 353.5,1332.8 354.0,1335.2 354.5,1348.0 355.0,1334.3 355.5,1337.6 356.0,1341.4 356.5,1328.9 357.0,1342.8 357.5,1340.9 358.0,1346.5 358.5,1347.1 359.0,1343.0 359.5,1346.2 360.0,1338.8 360.5,1337.1 361.0,1341.6 361.5,1344.0 362.0,1342.2 362.5,1345.9 363.0,1347.3 363.5,1352.7 364.0,1344.7 364.5,1343.7 364.7,1351.9 364.9,1343.7 365.0,1348.4 365.5,1347.7 366.0,1349.8 366.5,1355.2 367.0,1344.4 367.5,1351.8 368.0,1354.9 368.5,1355.1 369.0,1343.2 369.5,1348.8 370.0,1356.3 370.5,1351.0 371.0,1353.4 371.5,1351.3 372.0,1358.0 372.5,1353.7 373.0,1351.7 373.5,1353.9 374.0,1360.0 374.5,1356.0 375.0,1347.4 375.5,1345.7 376.0,1358.3 376.5,1348.2 377.0,1356.6 377.5,1353.1 378.0,1357.6 378.5,1353.7 379.0,1346.8 379.5,1363.9 380.0,1357.8 380.2,1366.2 380.4,1357.8 380.5,1357.6 381.0,1365.7 381.5,1362.1 382.0,1364.3 382.5,1358.9 383.0,1360.7 383.5,1362.6 384.0,1358.2 384.5,1364.9 385.0,1363.6 385.5,1360.7 386.0,1360.6 386.5,1366.6 387.0,1362.4 387.5,1365.3 388.0,1365.1 388.5,1363.3 389.0,1350.4 389.5,1366.5 390.0,1368.9 390.5,1362.8 390.7,1348.4 390.9,1362.8 391.0,1363.1 391.5,1370.3 392.0,1361.5 392.5,1372.6 393.0,1370.0 393.5,1373.9 394.0,1368.0 394.5,1369.1 395.0,1370.2 395.5,1362.5 396.0,1365.7 396.5,1374.9 397.0,1367.3 397.5,1366.5 398.0,1372.5 398.5,1377.4 399.0,1371.5 399.5,1370.9 400.0,1372.3 400.5,1374.6 401.0,1366.2 401.5,1375.0 402.0,1375.6 402.5,1378.8 403.0,1379.3 403.5,1377.7 404.0,1384.1 404.5,1375.6 405.0,1375.4 405.2,1365.8 405.4,1375.4 405.5,1383.4 406.0,1377.1 406.5,1374.4 407.0,1374.9 407.5,1377.6 408.0,1372.0 408.2,1359.6 408.4,1372.0 408.5,1382.7 409.0,1380.0 409.5,1384.6 410.0,1374.8 410.5,1378.1 411.0,1377.1 411.5,1382.6 412.0,1382.3 412.5,1384.2 413.0,1384.3 413.2,1373.2 413.4,1384.3 413.5,1376.8 414.0,1383.1 414.5,1382.6 415.0,1382.4 415.5,1385.1 416.0,1374.9 416.5,1380.5 417.0,1382.6 417.5,1380.4 418.0,1379.3 418.5,1388.7 419.0,1388.8 419.5,1392.7 420.0,1381.5 420.5,1375.7 421.0,1389.0 421.2,1379.4 421.4,1389.0 421.5,1384.9 422.0,1382.0 422.5,1389.2 423.0,1386.9 423.5,1380.0 423.7,1390.6 423.9,1380.0 424.0,1388.2 424.5,1380.9 425.0,1390.7 425.5,1383.2 426.0,1382.3 426.5,1392.4 427.0,1393.6 427.5,1388.7 428.0,1385.1 428.5,1393.1 429.0,1391.3 429.5,1392.1 430.0,1389.6 430.2,1398.0 430.4,1389.6 430.5,1385.1 431.0,1389.8 431.5,1398.5 432.0,1389.6 432.5,1392.3 433.0,1392.9 433.5,1397.5 434.0,1395.0 434.5,1392.2 435.0,1402.5 435.5,1395.4 436.0,1396.3 436.5,1392.3 437.0,1388.9 437.5,1397.8 438.0,1394.6 438.5,1397.8 439.0,1387.0 439.5,1404.3 440.0,1397.5 440.5,1401.1 441.0,1393.2 441.5,1398.6 442.0,1399.2 442.2,1410.9 442.4,1399.2 442.5,1403.6 443.0,1402.5 443.5,1390.5 444.0,1400.6 444.5,1400.5 445.0,1398.9 445.5,1401.5 446.0,1403.4 446.5,1405.3 447.0,1396.4 447.5,1398.0 448.0,1402.2 448.5,1405.1 449.0,1398.4 449.5,1402.9 450.0,1397.6 450.5,1403.6 451.0,1402.9 451.5,1406.2 452.0,1410.2 452.5,1401.2 453.0,1406.7 453.5,1398.3 454.0,1406.7 454.5,1413.4 455.0,1399.2 455.5,1404.0 456.0,1392.7 456.5,1408.6 457.0,1416.6 457.5,1403.3 458.0,1409.1 458.5,1413.9 459.0,1404.8 459.5,1409.3 460.0,1405.4 460.5,1406.9 461.0,1409.4 461.5,1413.4 462.0,1410.8 462.5,1409.9 463.0,1409.6 463.5,1415.4 464.0,1413.1 464.5,1413.0 465.0,1403.4 465.5,1410.8 466.0,1407.3 466.5,1419.9 467.0,1415.4 467.5,1419.1 468.0,1409.4 468.5,1406.6 468.7,1420.7 468.9,1406.6 469.0,1410.1 469.2,1398.5 469.4,1410.1 469.5,1416.6 470.0,1411.1 470.5,1417.5 471.0,1420.6 471.5,1413.4 472.0,1419.5 472.5,1405.8 473.0,1410.2 473.5,1413.2 474.0,1414.7 474.5,1410.2 475.0,1415.1 475.5,1421.5 476.0,1420.9 476.5,1419.3 477.0,1413.7 477.2,1426.9 477.4,1413.7 477.5,1424.2 478.0,1421.1 478.5,1414.0 479.0,1423.0 479.5,1417.4 480.0,1421.6 480.2,1436.7 480.4,1421.6 480.5,1421.1 481.0,1422.3 481.5,1426.5 482.0,1431.3 482.5,1422.2 483.0,1421.3 483.5,1420.8 484.0,1423.3 484.5,1424.2 485.0,1416.1 485.5,1422.5 486.0,1432.4 486.5,1425.9 487.0,1427.6 487.5,1422.8 488.0,1432.8 488.5,1426.1 489.0,1422.4 489.5,1420.7 490.0,1426.3 490.5,1432.2 491.0,1421.8 491.5,1420.6 492.0,1414.9 492.5,1428.4 493.0,1420.8 493.5,1422.5 494.0,1421.3 494.5,1422.3 495.0,1429.8 495.5,1423.2 496.0,1427.5 496.5,1423.8 497.0,1425.6 497.5,1430.3 498.0,1430.5 498.5,1422.7 499.0,1428.1 499.5,1424.1 500.0,1431.5 500.5,1425.9 501.0,1424.7 501.5,1432.7 502.0,1426.8 502.5,1430.0 503.0,1432.8 503.5,1427.5 504.0,1428.7 504.5,1432.9 505.0,1440.4 505.5,1433.3 506.0,1434.1 506.5,1431.2 507.0,1431.1 507.5,1438.1 508.0,1428.4 508.5,1428.8 509.0,1438.6 509.5,1428.9 510.0,1427.0 510.5,1434.8 511.0,1437.3 511.5,1440.9 512.0,1443.1 512.5,1423.6 513.0,1432.8 513.5,1432.5 514.0,1435.8 514.5,1430.6 515.0,1434.7 515.5,1435.9 516.0,1435.8 516.5,1431.3 517.0,1436.3 517.5,1431.6 518.0,1431.9 518.5,1434.7 519.0,1439.6 519.2,1429.9 519.4,1439.6 519.5,1427.3 520.0,1436.1 520.5,1442.7 521.0,1437.4 521.5,1434.6 522.0,1438.2 522.5,1444.3 523.0,1436.7 523.5,1434.5 524.0,1441.2 524.5,1436.8 525.0,1435.1 525.5,1442.0 526.0,1434.8 526.5,1437.3 527.0,1444.8 527.5,1439.7 528.0,1444.8 528.2,1455.2 528.4,1444.8 528.5,1431.5 529.0,1432.8 529.5,1436.2 530.0,1439.3 530.5,1431.5 531.0,1441.1 531.5,1437.9 532.0,1438.2 532.5,1440.8 533.0,1439.7 533.5,1435.6 534.0,1440.1 534.5,1436.0 535.0,1447.3 535.5,1439.6 536.0,1440.6 536.5,1439.0 537.0,1442.2 537.5,1443.3 538.0,1441.8 538.5,1437.9 539.0,1447.6 539.5,1442.7 540.0,1434.7 540.5,1433.2 541.0,1438.3 541.5,1438.2 542.0,1436.2 542.5,1439.4 543.0,1445.3 543.5,1449.5 544.0,1445.1 544.5,1445.8 545.0,1449.5 545.5,1454.3 546.0,1449.8 546.5,1447.5 547.0,1444.4 547.5,1440.7 548.0,1447.2 548.5,1450.7 549.0,1447.0 549.5,1443.3 550.0,1448.4 550.5,1445.6 551.0,1443.5 551.5,1437.5 552.0,1448.8 552.5,1443.6 553.0,1451.8 553.5,1444.0 554.0,1447.3 554.5,1444.5 555.0,1455.0 555.5,1453.3 556.0,1447.4 556.5,1453.9 557.0,1442.2 557.5,1450.7 558.0,1445.5 558.5,1447.5 559.0,1446.2 559.5,1451.0 560.0,1440.5 560.5,1446.5 561.0,1454.8 561.5,1438.7 562.0,1448.0 562.5,1443.1 563.0,1437.3 563.5,1451.0 564.0,1447.2 564.5,1455.2 565.0,1441.3 565.5,1451.4 566.0,1456.9 566.5,1441.7 567.0,1452.9 567.5,1453.3 568.0,1451.2 568.5,1456.6 569.0,1453.5 569.5,1447.5 570.0,1447.3 570.5,1450.2 571.0,1458.3 571.5,1450.5 572.0,1455.2 572.5,1450.6 573.0,1454.2 573.5,1453.9 574.0,1457.1 574.5,1459.9 575.0,1449.6 575.5,1446.8 576.0,1451.6 576.5,1451.9 577.0,1453.4 577.5,1456.8 578.0,1450.5 578.5,1452.5 579.0,1452.6 579.5,1457.6 580.0,1450.8 580.5,1458.2 581.0,1461.6 581.5,1452.1 582.0,1459.5 582.5,1455.7 583.0,1453.0 583.5,1462.4 584.0,1459.1 584.2,1445.9 584.4,1459.1 585.0,1452.0 586.5,1448.0 587.6,1366.0 588.1,1440.0 588.5,1542.0 589.2,1480.0 590.5,1445.0 592.0,1460.0 593.5,1430.0 594.5,1439.2 595.0,1441.7 595.2,1427.2 595.4,1441.7 595.5,1432.5 596.0,1426.2 596.5,1437.6 597.0,1429.6 597.5,1436.6 598.0,1426.1 598.5,1424.7 599.0,1420.4 599.5,1419.9 600.0,1412.6 600.5,1413.7 601.0,1403.3 601.5,1400.9 602.0,1401.5 602.5,1403.8 603.0,1404.9 603.5,1402.5 604.0,1408.3 604.5,1413.8 605.0,1384.6 605.5,1404.5 606.0,1400.0 606.5,1389.8 607.0,1392.2 607.5,1378.8 608.0,1386.8 608.5,1395.3 609.0,1378.2 609.5,1379.9 610.0,1382.3 610.5,1384.0 610.7,1373.9 610.9,1384.0 611.0,1378.9 611.5,1374.3 612.0,1379.4 612.5,1371.0 613.0,1386.3 613.5,1378.4 613.7,1364.8 613.9,1378.4 614.0,1370.6 614.5,1364.1 615.0,1364.1 615.5,1361.8 616.0,1362.7 616.5,1365.6 617.0,1354.7 617.5,1361.5 618.0,1359.3 618.5,1352.7 619.0,1363.9 619.5,1358.2 620.0,1356.0 620.5,1349.8 621.0,1347.7 621.5,1350.8 622.0,1341.2 622.5,1350.2 623.0,1340.7 623.5,1345.7 624.0,1348.4 624.5,1342.1 625.0,1338.8 625.5,1337.1 626.0,1340.9 626.5,1332.8 627.0,1337.7 627.5,1342.2 628.0,1325.3 628.5,1330.3 629.0,1335.1 629.5,1326.4 630.0,1325.7 630.5,1323.6 630.7,1308.9 630.9,1323.6 631.0,1334.2 631.2,1344.3 631.4,1334.2 631.5,1316.5 632.0,1326.6 632.5,1325.2 633.0,1325.4 633.5,1319.9 634.0,1323.7 634.5,1319.4 635.0,1316.6 635.5,1334.7 636.0,1325.0 636.5,1312.4 637.0,1313.6 637.5,1319.0 638.0,1323.6 638.5,1313.6 639.0,1317.7 639.5,1314.0 640.0,1318.5 640.5,1308.1 641.0,1306.0 641.5,1310.9 642.0,1310.0 642.5,1307.9 643.0,1313.5 643.5,1309.7 644.0,1305.7 644.5,1297.7 645.0,1307.1 645.5,1307.3 646.0,1298.1 646.2,1314.1 646.4,1298.1 646.5,1300.4 647.0,1293.9 647.5,1299.9 648.0,1297.2 648.5,1287.8 649.0,1296.8 649.5,1294.1 650.0,1293.3 650.2,1303.9 650.4,1293.3 650.5,1300.1 651.0,1296.3 651.5,1297.6 652.0,1290.2 652.5,1298.7 653.0,1286.2 653.2,1298.4 653.4,1286.2 653.5,1293.8 654.0,1280.7 654.5,1289.4 655.0,1281.8 655.5,1278.6 656.0,1289.6 656.5,1286.2 657.0,1287.1 657.5,1283.8 658.0,1284.4 658.5,1282.0 659.0,1280.5 659.5,1281.4 660.0,1292.7 660.5,1273.7 661.0,1270.3 661.5,1272.8 662.0,1273.4 662.5,1279.4 663.0,1281.8 663.5,1281.4 663.7,1295.2 663.9,1281.4 664.0,1273.2 664.5,1277.7 665.0,1283.3 665.5,1275.9 666.0,1278.9 666.5,1265.7 667.0,1275.3 667.5,1274.1 668.0,1262.2 668.5,1268.5 669.0,1271.1 669.5,1262.1 670.0,1271.3 670.5,1271.0 671.0,1266.6 671.5,1263.7 672.0,1262.6 672.5,1265.0 673.0,1268.5 673.5,1254.1 674.0,1262.0 674.5,1261.7 675.0,1254.8 675.5,1251.9 676.0,1257.1 676.2,1273.0 676.4,1257.1 676.5,1248.4 677.0,1258.2 677.5,1254.8 678.0,1249.6 678.5,1255.1 679.0,1249.7 679.5,1249.8 680.0,1259.6 680.5,1248.2 681.0,1237.7 681.5,1252.9 682.0,1244.8 682.2,1256.5 682.4,1244.8 682.5,1245.0 683.0,1257.9 683.5,1248.3 684.0,1252.7 684.5,1239.8 685.0,1241.1 685.2,1226.1 685.4,1241.1 685.5,1241.6 686.0,1249.7 686.5,1241.3 687.0,1233.7 687.5,1248.0 688.0,1240.3 688.5,1243.1 689.0,1246.3 689.5,1253.5 690.0,1240.7 690.5,1249.1 691.0,1232.1 691.5,1240.1 691.7,1253.2 691.9,1240.1 692.0,1240.3 692.5,1225.7 693.0,1232.0 693.5,1232.8 694.0,1239.0 694.5,1233.0 695.0,1232.8 695.5,1230.8 696.0,1236.6 696.5,1233.2 697.0,1232.5 697.5,1231.1 698.0,1235.7 698.5,1227.4 699.0,1230.7 699.5,1230.4 700.0,1231.9 700.5,1234.8 701.0,1230.6 701.5,1220.8 702.0,1233.2 702.5,1233.9 703.0,1233.7 703.5,1231.0 704.0,1217.1 704.5,1224.5 704.7,1216.2 704.9,1224.5 705.0,1229.1 705.2,1237.5 705.4,1229.1 705.5,1228.7 706.0,1223.2 706.5,1223.9 707.0,1216.7 707.5,1224.4 708.0,1210.2 708.5,1220.0 709.0,1226.0 709.5,1213.6 710.0,1226.7 710.5,1230.0 711.0,1221.6 711.5,1215.3 712.0,1215.0 712.5,1210.6 713.0,1220.8 713.5,1210.1 714.0,1216.8 714.5,1209.2 715.0,1217.7 715.5,1206.6 716.0,1213.1 716.5,1209.3 717.0,1218.4 717.5,1210.1 718.0,1210.9 718.5,1217.5 719.0,1204.7 719.5,1203.5 720.0,1209.5 720.5,1203.7 721.0,1218.1 721.5,1209.1 722.0,1209.3 722.5,1205.6 723.0,1189.5 723.5,1213.4 724.0,1205.3 724.5,1194.3 725.0,1199.0 725.5,1204.4 726.0,1210.9 726.5,1205.4 727.0,1205.1 727.5,1204.5 728.0,1197.2 728.5,1198.1 729.0,1201.4 729.5,1193.4 730.0,1200.6 730.5,1203.6 731.0,1186.4 731.5,1197.8 732.0,1197.1 732.5,1198.6 733.0,1207.3 733.5,1189.6 734.0,1207.5 734.5,1200.1 735.0,1209.6 735.5,1193.4 736.0,1197.0 736.5,1193.9 737.0,1197.0 737.5,1188.8 738.0,1189.0 738.5,1191.9 739.0,1196.0 739.5,1184.8 740.0,1189.7 740.5,1187.7 741.0,1192.3 741.5,1194.9 742.0,1181.6 742.5,1183.9 743.0,1187.1 743.5,1183.0 743.7,1169.2 743.9,1183.0 744.0,1196.0 744.5,1197.1 745.0,1191.5 745.5,1189.8 746.0,1180.4 746.5,1180.7 747.0,1188.0 747.5,1193.5 748.0,1182.9 748.5,1186.0 749.0,1192.9 749.5,1193.2 750.0,1177.7 750.5,1184.3 751.0,1186.6 751.5,1172.9 752.0,1179.0 752.5,1182.3 753.0,1177.9 753.5,1183.3 754.0,1177.9 754.5,1170.1 755.0,1172.2 755.5,1166.9 756.0,1171.0 756.5,1181.1 757.0,1179.1 757.5,1179.9 758.0,1183.9 758.5,1170.0 759.0,1173.2 759.5,1176.3 760.0,1184.5 760.5,1176.4 761.0,1173.7 761.5,1175.8 762.0,1168.7 762.5,1162.4 763.0,1175.6 763.5,1170.2 764.0,1174.7 764.5,1165.3 765.0,1166.5 765.2,1179.5 765.4,1166.5 765.5,1175.3 766.0,1171.9 766.5,1175.6 767.0,1166.3 767.2,1151.6 767.4,1166.3 767.5,1170.1 768.0,1173.2 768.5,1174.0 769.0,1168.4 769.5,1169.9 770.0,1167.4 770.5,1166.8 771.0,1166.9 771.5,1169.4 772.0,1159.1 772.5,1165.9 773.0,1160.1 773.5,1165.5 774.0,1163.6 774.5,1165.6 775.0,1162.9 775.5,1163.1 776.0,1155.8 776.5,1170.8 777.0,1155.3 777.5,1152.0 778.0,1164.0 778.5,1165.0 779.0,1160.9 779.5,1159.2 780.0,1154.4 780.5,1170.6 781.0,1150.6 781.5,1172.6 782.0,1150.6 782.5,1153.4 783.0,1157.3 783.5,1155.9 784.0,1160.7 784.5,1153.0 785.0,1155.5 785.5,1148.3 786.0,1163.3 786.5,1154.8 787.0,1152.0 787.5,1156.0 788.0,1160.6 788.5,1157.3 789.0,1151.1 789.5,1155.6 790.0,1156.3 790.5,1156.5 791.0,1152.2 791.5,1157.3 792.0,1147.2 792.5,1153.7 793.0,1148.2 793.5,1152.8 794.0,1148.9 794.5,1155.6 795.0,1149.4 795.5,1157.9 796.0,1145.9 796.5,1156.4 797.0,1145.8 797.5,1136.5 798.0,1144.4 798.2,1131.1 798.4,1144.4 798.5,1154.4 799.0,1150.4 799.5,1151.6 800.0,1146.5 800.5,1150.3 801.0,1142.6 801.2,1152.4 801.4,1142.6 801.5,1157.4 802.0,1156.3 802.5,1149.8 803.0,1143.8 803.5,1143.2 804.0,1149.9 804.5,1148.2 805.0,1141.0 805.5,1149.8 806.0,1150.2 806.5,1148.3 806.7,1158.2 806.9,1148.3 807.0,1147.2 807.5,1146.0 808.0,1144.5 808.5,1142.5 809.0,1140.6 809.5,1150.5 810.0,1134.9 810.5,1143.8 811.0,1147.6 811.5,1155.3 812.0,1140.5 812.5,1149.7 813.0,1148.9 813.5,1146.8 814.0,1151.6 814.5,1132.0 815.0,1146.3 815.5,1140.2 816.0,1142.9 816.5,1139.5 817.0,1135.4 817.5,1129.4 818.0,1141.8 818.5,1137.9 819.0,1131.6 819.5,1137.9 820.0,1132.2 820.5,1133.2 821.0,1138.8 821.5,1141.8 822.0,1126.5 822.5,1136.4 823.0,1139.9 823.5,1129.4 824.0,1134.3 824.5,1137.6 825.0,1140.7 825.5,1128.9 826.0,1126.0 826.5,1131.3 827.0,1131.6 827.5,1134.0 828.0,1134.1 828.5,1122.9 829.0,1137.3 829.5,1123.9 830.0,1134.8 830.5,1135.4 831.0,1134.7 831.5,1133.8 832.0,1133.8 832.5,1127.3 833.0,1126.8 833.5,1142.8 834.0,1139.6 834.5,1138.1 835.0,1135.0 835.5,1121.4 836.0,1140.3 836.5,1128.5 837.0,1129.3 837.5,1133.5 838.0,1125.3 838.5,1136.0 839.0,1115.2 839.2,1104.3 839.4,1115.2 839.5,1135.1 840.0,1130.9 840.5,1123.1 841.0,1132.3 841.5,1133.8 842.0,1131.6 842.5,1132.1 843.0,1125.3 843.5,1132.3 844.0,1132.1 844.5,1133.1 845.0,1129.4 845.5,1116.3 846.0,1128.2 846.5,1117.8 847.0,1120.5 847.5,1123.8 848.0,1125.2 848.5,1122.4 849.0,1125.6 849.5,1126.3 850.0,1124.3 850.5,1123.4 851.0,1124.7 851.5,1126.4 851.7,1118.3 851.9,1126.4 852.0,1117.2 852.5,1113.8 853.0,1127.7 853.5,1122.3 854.0,1108.5 854.5,1127.3 855.0,1127.2 855.5,1110.5 856.0,1113.8 856.5,1117.3 857.0,1113.2 857.5,1116.3 858.0,1119.2 858.5,1124.9 859.0,1105.4 859.5,1119.5 860.0,1124.8 860.5,1105.0 861.0,1120.2 861.5,1117.8 862.0,1114.8 862.5,1122.1 863.0,1125.0 863.5,1123.6 864.0,1128.7 864.5,1113.1 865.0,1105.4 865.2,1116.0 865.4,1105.4 865.5,1113.8 866.0,1117.5 866.5,1122.9 867.0,1119.2 867.5,1112.6 868.0,1123.5 868.5,1118.2 869.0,1116.8 869.5,1114.2 870.0,1117.4 870.5,1118.1 871.0,1114.9 871.5,1101.2 872.0,1109.5 872.5,1116.6 873.0,1122.8 873.5,1120.4 874.0,1119.9 874.5,1123.2 875.0,1117.1 875.5,1120.6 876.0,1118.7 876.5,1114.2 877.0,1107.7 877.5,1103.4 878.0,1114.8 878.5,1105.3 879.0,1111.4 879.5,1116.0 880.0,1107.7 880.5,1116.6 881.0,1111.8 881.5,1106.2 882.0,1114.3 882.5,1114.9 883.0,1108.0 883.5,1113.4 884.0,1104.0 884.5,1110.9 885.0,1111.7 885.5,1104.1 886.0,1110.3 886.5,1117.7 887.0,1105.8 887.5,1102.9 888.0,1101.0 888.5,1104.5 889.0,1102.5 889.5,1099.3 890.0,1109.0 890.5,1110.1 891.0,1102.6 891.5,1108.3 892.0,1113.0 892.5,1109.7 893.0,1108.5 893.5,1111.2 894.0,1103.5 894.5,1112.1 895.0,1117.4 895.5,1103.1 896.0,1096.0 896.5,1102.3 897.0,1100.6 897.5,1107.4 898.0,1112.8 898.5,1109.0 899.0,1115.4 899.5,1108.1 900.0,1105.9 900.5,1094.4 901.0,1107.3 901.5,1101.4 902.0,1101.8 902.5,1103.1 903.0,1113.5 903.5,1109.2 904.0,1104.3 904.5,1096.0 905.0,1101.5 905.5,1102.2 906.0,1108.5 906.5,1106.5 907.0,1106.2 907.5,1097.8 908.0,1108.3 908.5,1117.9 909.0,1094.8 909.5,1096.6 910.0,1102.6 910.5,1107.6 911.0,1103.4 911.5,1102.4 912.0,1109.9 912.5,1095.4 913.0,1089.8 913.5,1092.6 914.0,1105.4 914.5,1106.1 915.0,1098.4 915.5,1092.3 916.0,1095.4 916.5,1102.2 917.0,1105.3 917.5,1096.2 917.7,1085.8 917.9,1096.2 918.0,1094.9 918.5,1094.2 919.0,1095.7 919.5,1102.8 920.0,1099.9 920.5,1100.7 921.0,1099.1 921.2,1087.4 921.4,1099.1 921.5,1099.5 922.0,1090.9 922.5,1092.1 923.0,1099.9 923.5,1100.1 924.0,1103.8 924.5,1097.1 925.0,1092.6 925.5,1096.2 926.0,1095.8 926.5,1100.0 926.7,1111.6 926.9,1100.0 927.0,1096.0 927.5,1099.7 928.0,1099.8 928.5,1099.7 929.0,1099.8 929.5,1090.9 930.0,1102.8 930.5,1105.6 931.0,1100.9 931.5,1105.2 932.0,1098.6 932.5,1093.1 933.0,1099.1 933.5,1095.8 934.0,1095.1 934.5,1104.7 935.0,1090.7 935.5,1101.8 936.0,1092.3 936.2,1083.7 936.4,1092.3 936.5,1085.7 937.0,1099.3 937.5,1095.8 938.0,1096.3 938.5,1096.4 939.0,1101.0 939.5,1096.9 940.0,1093.3 940.5,1094.2 941.0,1097.1 941.5,1091.4 942.0,1096.6 942.5,1083.0 943.0,1093.5 943.5,1094.0 944.0,1097.8 944.5,1087.8 945.0,1092.5 945.5,1096.1 946.5,1092.0 948.5,1094.0 950.3,1053.0 951.0,1110.0 952.0,1150.0 953.5,1148.0 954.0,1159.4 954.5,1148.8 955.0,1151.7 955.5,1147.7 956.0,1160.7 956.5,1151.2 957.0,1152.2 957.5,1155.0 958.0,1144.7 958.5,1148.4 959.0,1155.2 959.5,1152.1 960.0,1169.2 960.5,1156.9 961.0,1182.4 961.5,1165.8 962.0,1157.8 962.5,1166.9 963.0,1172.7 963.2,1187.0 963.4,1172.7 963.5,1167.4 964.0,1172.3 964.5,1167.3 965.0,1163.3 965.5,1170.4 966.0,1187.9 966.5,1169.6 967.0,1173.6 967.5,1161.5 968.0,1170.3 968.5,1180.0 969.0,1175.0 969.5,1189.3 970.0,1188.6 970.5,1176.9 971.0,1180.9 971.5,1188.8 972.0,1187.1 972.5,1182.1 973.0,1169.4 973.5,1199.0 974.0,1187.9 974.5,1190.2 975.0,1183.3 975.5,1203.9 976.0,1190.6 976.5,1194.1 977.0,1181.2 977.5,1191.4 978.0,1194.7 978.5,1198.3 979.0,1201.0 979.5,1196.7 980.0,1204.9 980.5,1199.0 981.0,1199.6 981.5,1201.5 982.0,1192.5 982.5,1190.2 983.0,1215.2 983.5,1194.9 984.0,1202.5 984.5,1210.4 985.0,1203.9 985.5,1215.4 986.0,1198.0 986.5,1211.4 987.0,1214.1 987.5,1221.9 988.0,1219.7 988.5,1211.0 989.0,1218.8 989.5,1217.2 990.0,1211.5 990.5,1215.5 991.0,1223.2 991.5,1218.2 992.0,1216.2 992.5,1218.5 993.0,1216.6 993.5,1216.1 994.0,1225.4 994.5,1226.6 995.0,1230.0 995.5,1219.6 996.0,1222.3 996.5,1229.9 997.0,1229.5 997.5,1229.0 998.0,1225.4 998.5,1230.1 999.0,1226.1 999.5,1239.8 1000.0,1237.0 1000.5,1230.5 1001.0,1241.0 1001.5,1232.0 1002.0,1239.8 1002.5,1238.8 1003.0,1237.2 1003.5,1245.6 1004.0,1233.4 1004.5,1239.9 1005.0,1240.7 1005.5,1235.2 1006.0,1237.2 1006.5,1245.1 1007.0,1246.5 1007.5,1241.8 1008.0,1249.4 1008.5,1249.8 1009.0,1251.9 1009.5,1248.3 1010.0,1249.8 1010.5,1253.6 1011.0,1249.3 1011.5,1248.9 1011.7,1236.4 1011.9,1248.9 1012.0,1248.1 1012.5,1256.3 1013.0,1260.4 1013.5,1247.7 1014.0,1255.3 1014.5,1260.5 1015.0,1264.6 1015.2,1279.0 1015.4,1264.6 1015.5,1260.1 1016.0,1256.3 1016.5,1263.7 1017.0,1271.4 1017.5,1263.9 1018.0,1266.0 1018.5,1271.3 1019.0,1258.2 1019.5,1268.9 1020.0,1272.5 1020.5,1271.2 1021.0,1268.5 1021.5,1266.9 1022.0,1266.8 1022.5,1264.4 1023.0,1268.5 1023.5,1266.3 1024.0,1271.7 1024.5,1271.9 1024.7,1259.8 1024.9,1271.9 1025.0,1271.0 1025.5,1272.5 1026.0,1275.2 1026.5,1270.3 1027.0,1279.0 1027.5,1277.8 1028.0,1280.2 1028.5,1277.0 1029.0,1278.2 1029.5,1280.4 1030.0,1280.9 1030.5,1279.5 1031.0,1280.4 1031.5,1280.3" stroke="#009E73" stroke-width="5.3" stroke-linecap="round" stroke-linejoin="round" fill="none" stroke-dasharray="13 10.3 0 10.35"/>
<path d="M140.0,1114.3 141.0,1112.5 142.0,1112.9 143.0,1113.3 144.0,1112.3 145.0,1111.7 146.0,1112.0 147.0,1111.9 148.0,1110.0 149.0,1109.5 150.0,1109.3 151.0,1108.6 152.0,1109.3 153.0,1109.1 154.0,1108.1 155.0,1107.0 156.0,1106.2 157.0,1106.8 158.0,1105.9 159.0,1106.4 160.0,1104.8 161.0,1104.9 162.0,1104.6 163.0,1105.2 164.0,1104.6 165.0,1104.0 166.0,1103.5 167.0,1103.4 168.0,1101.3 169.0,1102.8 170.0,1101.6 171.0,1102.4 172.0,1101.7 173.0,1101.5 174.0,1099.8 175.0,1101.9 176.0,1100.0 177.0,1099.4 178.0,1098.4 179.0,1098.7 180.0,1096.6 181.0,1098.7 182.0,1097.7 183.0,1097.0 184.0,1097.6 185.0,1096.7 186.0,1096.3 187.0,1095.3 188.0,1095.5 189.0,1094.1 190.0,1093.8 191.0,1094.4 192.0,1093.5 193.0,1092.7 194.0,1093.1 195.0,1091.7 196.0,1093.7 197.0,1091.6 198.0,1091.3 199.0,1092.7 200.0,1090.2 201.0,1089.4 202.0,1090.6 203.0,1090.1 204.0,1090.7 205.0,1089.6 206.0,1088.2 207.0,1089.1 208.0,1088.6 209.0,1089.3 210.0,1088.3 211.0,1087.2 212.0,1087.0 213.0,1087.2 214.0,1086.6 215.0,1086.8 216.0,1086.5 217.0,1085.2 218.0,1085.9 219.0,1086.0 220.0,1084.3 221.0,1083.8 222.0,1086.0 224.2,1070.0 225.3,1017.0 225.9,1080.0 226.4,1146.0 228.2,1118.0 230.8,1092.0 233.0,1100.0 235.5,1112.0 237.0,1107.6 238.0,1109.9 239.0,1112.5 240.0,1115.4 241.0,1116.4 242.0,1118.0 243.0,1121.1 244.0,1122.7 245.0,1125.6 246.0,1128.0 247.0,1129.7 248.0,1132.1 249.0,1133.8 250.0,1136.0 251.0,1137.0 252.0,1141.0 253.0,1141.3 254.0,1143.4 255.0,1145.1 256.0,1147.4 257.0,1149.1 258.0,1149.9 259.0,1154.2 260.0,1155.2 261.0,1156.5 262.0,1158.5 263.0,1161.0 264.0,1162.6 265.0,1164.0 266.0,1166.1 267.0,1165.4 268.0,1169.4 269.0,1170.4 270.0,1171.6 271.0,1173.1 272.0,1175.5 273.0,1175.8 274.0,1178.8 275.0,1179.6 276.0,1182.2 277.0,1182.0 278.0,1185.1 279.0,1186.0 280.0,1187.0 281.0,1190.2 282.0,1191.6 283.0,1191.6 284.0,1193.5 285.0,1196.2 286.0,1196.7 287.0,1197.6 288.0,1198.8 289.0,1200.3 290.0,1202.7 291.0,1204.3 292.0,1204.8 293.0,1205.7 294.0,1207.2 295.0,1207.8 296.0,1210.8 297.0,1211.7 298.0,1213.8 299.0,1216.0 300.0,1216.6 301.0,1216.7 302.0,1218.0 303.0,1218.6 304.0,1219.3 305.0,1223.4 306.0,1223.5 307.0,1223.4 308.0,1226.2 309.0,1225.5 310.0,1228.0 311.0,1229.5 312.0,1230.1 313.0,1231.4 314.0,1233.5 315.0,1233.8 316.0,1236.1 317.0,1235.2 318.0,1237.3 319.0,1240.0 320.0,1239.2 321.0,1240.4 322.0,1242.2 323.0,1243.0 324.0,1244.6 325.0,1246.2 326.0,1247.0 327.0,1247.9 328.0,1248.5 329.0,1250.1 330.0,1251.6 331.0,1251.4 332.0,1252.8 333.0,1253.4 334.0,1255.2 335.0,1256.4 336.0,1256.9 337.0,1257.6 338.0,1258.8 339.0,1260.9 340.0,1261.0 341.0,1263.0 342.0,1263.0 343.0,1263.9 344.0,1266.0 345.0,1265.9 346.0,1268.2 347.0,1266.8 348.0,1269.4 349.0,1269.9 350.0,1271.0 351.0,1272.4 352.0,1271.8 353.0,1275.6 354.0,1274.8 355.0,1277.7 356.0,1277.5 357.0,1278.0 358.0,1277.7 359.0,1280.9 360.0,1281.1 361.0,1282.4 362.0,1281.3 363.0,1282.0 364.0,1283.9 365.0,1285.4 366.0,1286.5 367.0,1287.7 368.0,1287.1 369.0,1287.6 370.0,1289.9 371.0,1289.5 372.0,1291.1 373.0,1293.4 374.0,1292.5 375.0,1293.9 376.0,1294.7 377.0,1295.3 378.0,1296.4 379.0,1297.3 380.0,1297.8 381.0,1299.6 382.0,1300.0 383.0,1299.5 384.0,1302.0 385.0,1301.9 386.0,1302.4 387.0,1302.8 388.0,1304.7 389.0,1304.9 390.0,1305.1 391.0,1305.8 392.0,1308.0 393.0,1307.7 394.0,1308.4 395.0,1311.2 396.0,1310.4 397.0,1311.4 398.0,1311.8 399.0,1312.4 400.0,1312.5 401.0,1314.4 402.0,1314.8 403.0,1314.7 404.0,1316.0 405.0,1318.0 406.0,1317.7 407.0,1318.2 408.0,1318.4 409.0,1319.1 410.0,1320.6 411.0,1321.5 412.0,1321.8 413.0,1322.9 414.0,1322.4 415.0,1323.4 416.0,1324.6 417.0,1325.8 418.0,1325.3 419.0,1327.0 420.0,1326.2 421.0,1328.4 422.0,1329.2 423.0,1328.7 424.0,1329.8 425.0,1330.7 426.0,1330.4 427.0,1331.2 428.0,1331.8 429.0,1333.1 430.0,1334.0 431.0,1333.3 432.0,1334.1 433.0,1335.7 434.0,1335.4 435.0,1336.3 436.0,1337.6 437.0,1337.7 438.0,1339.0 439.0,1338.9 440.0,1339.3 441.0,1339.5 442.0,1339.0 443.0,1340.9 444.0,1340.4 445.0,1342.9 446.0,1343.4 447.0,1343.8 448.0,1344.8 449.0,1346.1 450.0,1343.9 451.0,1345.6 452.0,1346.8 453.0,1346.6 454.0,1347.3 455.0,1348.6 456.0,1348.8 457.0,1348.0 458.0,1350.5 459.0,1349.5 460.0,1350.7 461.0,1351.5 462.0,1350.4 463.0,1353.3 464.0,1353.1 465.0,1353.4 466.0,1354.2 467.0,1354.0 468.0,1355.2 469.0,1355.7 470.0,1354.2 471.0,1355.4 472.0,1357.4 473.0,1356.5 474.0,1358.1 475.0,1358.1 476.0,1359.2 477.0,1357.9 478.0,1359.7 479.0,1360.1 480.0,1360.8 481.0,1361.2 482.0,1361.6 483.0,1362.3 484.0,1362.8 485.0,1362.5 486.0,1364.4 487.0,1363.9 488.0,1363.9 489.0,1365.2 490.0,1364.2 491.0,1366.4 492.0,1365.9 493.0,1366.6 494.0,1367.0 495.0,1367.8 496.0,1367.4 497.0,1368.0 498.0,1369.0 499.0,1368.7 500.0,1369.5 501.0,1369.9 502.0,1370.2 503.0,1370.3 504.0,1370.7 505.0,1371.4 506.0,1371.2 507.0,1371.7 508.0,1374.8 509.0,1373.3 510.0,1374.4 511.0,1374.3 512.0,1375.0 513.0,1375.0 514.0,1376.0 515.0,1375.9 516.0,1376.3 517.0,1375.7 518.0,1377.6 519.0,1377.2 520.0,1377.7 521.0,1378.4 522.0,1378.6 523.0,1378.8 524.0,1380.1 525.0,1379.0 526.0,1378.6 527.0,1380.1 528.0,1379.2 529.0,1381.0 530.0,1382.3 531.0,1382.9 532.0,1381.4 533.0,1382.8 534.0,1382.1 535.0,1383.5 536.0,1384.6 537.0,1383.5 538.0,1385.4 539.0,1384.8 540.0,1386.8 541.0,1385.0 542.0,1385.1 543.0,1387.0 544.0,1387.0 545.0,1387.2 546.0,1386.5 547.0,1387.5 548.0,1387.4 549.0,1389.2 550.0,1388.9 551.0,1388.3 552.0,1388.5 553.0,1388.4 554.0,1389.3 555.0,1390.0 556.0,1390.7 557.0,1391.4 558.0,1390.7 559.0,1392.2 560.0,1390.2 561.0,1391.9 562.0,1392.7 563.0,1392.2 564.0,1393.0 565.0,1393.7 566.0,1393.1 567.0,1393.9 568.0,1394.8 569.0,1393.6 570.0,1395.5 571.0,1394.9 572.0,1394.3 573.0,1395.8 574.0,1396.3 575.0,1396.0 576.0,1396.7 577.0,1397.1 578.0,1397.0 579.0,1397.4 580.0,1398.1 581.0,1398.4 582.0,1398.1 583.0,1397.1 584.5,1399.0 587.5,1405.0 588.6,1435.0 590.5,1400.0 591.6,1357.0 593.0,1400.0 595.5,1410.0 597.7,1392.7 601.5,1373.0 601.0,1376.3 602.0,1374.1 603.0,1372.7 604.0,1370.1 605.0,1368.9 606.0,1366.1 607.0,1364.2 608.0,1361.8 609.0,1361.1 610.0,1357.5 611.0,1356.9 612.0,1354.8 613.0,1352.8 614.0,1352.1 615.0,1350.2 616.0,1348.3 617.0,1346.1 618.0,1343.6 619.0,1342.0 620.0,1339.5 621.0,1338.6 622.0,1338.1 623.0,1337.2 624.0,1333.9 625.0,1333.9 626.0,1332.7 627.0,1330.5 628.0,1329.4 629.0,1326.6 630.0,1324.7 631.0,1323.6 632.0,1322.5 633.0,1320.6 634.0,1318.9 635.0,1317.8 636.0,1315.1 637.0,1314.7 638.0,1311.3 639.0,1312.1 640.0,1310.6 641.0,1309.8 642.0,1306.0 643.0,1304.8 644.0,1303.0 645.0,1301.2 646.0,1299.2 647.0,1299.9 648.0,1297.7 649.0,1296.4 650.0,1293.8 651.0,1293.7 652.0,1293.6 653.0,1290.9 654.0,1290.0 655.0,1287.2 656.0,1287.4 657.0,1285.3 658.0,1284.0 659.0,1282.8 660.0,1281.0 661.0,1280.4 662.0,1278.5 663.0,1276.9 664.0,1275.1 665.0,1273.8 666.0,1273.9 667.0,1272.7 668.0,1270.6 669.0,1269.3 670.0,1267.7 671.0,1267.0 672.0,1266.6 673.0,1264.5 674.0,1262.7 675.0,1262.6 676.0,1261.1 677.0,1258.1 678.0,1257.8 679.0,1257.8 680.0,1256.0 681.0,1254.5 682.0,1253.6 683.0,1251.3 684.0,1250.1 685.0,1249.7 686.0,1248.7 687.0,1248.6 688.0,1246.2 689.0,1245.3 690.0,1245.1 691.0,1242.4 692.0,1241.5 693.0,1240.6 694.0,1239.6 695.0,1238.5 696.0,1237.7 697.0,1235.3 698.0,1234.1 699.0,1233.9 700.0,1231.7 701.0,1232.9 702.0,1230.1 703.0,1229.2 704.0,1228.9 705.0,1227.7 706.0,1226.8 707.0,1225.3 708.0,1223.4 709.0,1223.2 710.0,1221.8 711.0,1220.0 712.0,1220.0 713.0,1219.8 714.0,1217.5 715.0,1216.6 716.0,1215.6 717.0,1215.7 718.0,1212.7 719.0,1213.5 720.0,1212.3 721.0,1211.2 722.0,1209.6 723.0,1209.1 724.0,1209.7 725.0,1207.6 726.0,1206.2 727.0,1206.1 728.0,1203.7 729.0,1204.4 730.0,1202.6 731.0,1203.6 732.0,1202.4 733.0,1200.4 734.0,1199.4 735.0,1197.9 736.0,1197.7 737.0,1196.9 738.0,1194.5 739.0,1193.5 740.0,1194.1 741.0,1192.5 742.0,1192.1 743.0,1191.2 744.0,1190.4 745.0,1189.2 746.0,1189.0 747.0,1188.7 748.0,1188.0 749.0,1185.8 750.0,1185.3 751.0,1184.4 752.0,1182.5 753.0,1181.6 754.0,1181.8 755.0,1181.4 756.0,1180.8 757.0,1179.0 758.0,1179.1 759.0,1177.8 760.0,1176.8 761.0,1177.0 762.0,1174.4 763.0,1173.2 764.0,1175.4 765.0,1173.2 766.0,1173.0 767.0,1171.6 768.0,1170.5 769.0,1169.4 770.0,1168.2 771.0,1168.9 772.0,1167.2 773.0,1167.2 774.0,1166.7 775.0,1165.7 776.0,1165.1 777.0,1165.4 778.0,1163.8 779.0,1163.1 780.0,1162.1 781.0,1162.5 782.0,1161.7 783.0,1159.7 784.0,1159.7 785.0,1158.6 786.0,1157.7 787.0,1156.7 788.0,1158.0 789.0,1156.4 790.0,1153.9 791.0,1155.4 792.0,1155.3 793.0,1153.4 794.0,1152.7 795.0,1152.2 796.0,1152.1 797.0,1150.4 798.0,1150.4 799.0,1148.4 800.0,1149.7 801.0,1147.4 802.0,1147.3 803.0,1147.2 804.0,1147.0 805.0,1145.2 806.0,1144.6 807.0,1145.5 808.0,1143.4 809.0,1142.7 810.0,1142.3 811.0,1142.5 812.0,1142.0 813.0,1141.6 814.0,1140.6 815.0,1139.4 816.0,1139.4 817.0,1139.1 818.0,1137.2 819.0,1137.0 820.0,1136.8 821.0,1137.4 822.0,1135.5 823.0,1135.2 824.0,1134.6 825.0,1134.3 826.0,1133.9 827.0,1132.2 828.0,1130.4 829.0,1132.4 830.0,1129.8 831.0,1131.0 832.0,1130.5 833.0,1130.2 834.0,1128.4 835.0,1128.9 836.0,1128.6 837.0,1128.1 838.0,1128.0 839.0,1125.9 840.0,1125.7 841.0,1125.3 842.0,1125.0 843.0,1125.2 844.0,1124.6 845.0,1123.6 846.0,1124.3 847.0,1123.0 848.0,1121.2 849.0,1122.5 850.0,1120.2 851.0,1119.7 852.0,1119.8 853.0,1119.3 854.0,1119.1 855.0,1118.7 856.0,1117.7 857.0,1117.2 858.0,1117.8 859.0,1117.0 860.0,1116.2 861.0,1115.3 862.0,1115.5 863.0,1114.3 864.0,1113.6 865.0,1114.8 866.0,1114.1 867.0,1113.0 868.0,1113.9 869.0,1112.3 870.0,1112.4 871.0,1111.8 872.0,1111.1 873.0,1110.7 874.0,1111.3 875.0,1110.4 876.0,1108.0 877.0,1109.4 878.0,1107.0 879.0,1107.4 880.0,1108.0 881.0,1106.5 882.0,1107.7 883.0,1106.2 884.0,1106.5 885.0,1105.9 886.0,1105.8 887.0,1105.8 888.0,1103.4 889.0,1104.0 890.0,1103.8 891.0,1104.0 892.0,1103.3 893.0,1102.3 894.0,1101.2 895.0,1100.6 896.0,1100.7 897.0,1101.1 898.0,1100.7 899.0,1101.3 900.0,1100.1 901.0,1100.1 902.0,1098.2 903.0,1099.0 904.0,1098.1 905.0,1097.6 906.0,1098.6 907.0,1097.3 908.0,1096.9 909.0,1096.6 910.0,1095.3 911.0,1094.8 912.0,1096.9 913.0,1095.3 914.0,1094.9 915.0,1094.7 916.0,1093.9 917.0,1093.7 918.0,1092.9 919.0,1093.4 920.0,1092.8 921.0,1093.3 922.0,1093.3 923.0,1091.1 924.0,1092.0 925.0,1090.9 926.0,1092.4 927.0,1090.7 928.0,1091.0 929.0,1089.6 930.0,1090.5 931.0,1088.8 932.0,1088.1 933.0,1087.0 934.0,1088.4 935.0,1087.8 936.0,1087.9 937.0,1086.8 938.0,1087.1 939.0,1086.8 940.0,1085.8 941.0,1087.6 942.0,1087.5 943.0,1085.9 944.0,1085.8 945.0,1085.6 946.0,1085.3 947.6,1085.0 949.3,1046.0 950.3,1100.0 950.8,1131.0 952.5,1112.0 955.5,1104.0 960.6,1108.3 957.0,1094.5 958.0,1097.9 959.0,1101.5 960.0,1102.6 961.0,1105.0 962.0,1106.9 963.0,1109.7 964.0,1110.8 965.0,1114.6 966.0,1117.7 967.0,1119.4 968.0,1121.6 969.0,1123.7 970.0,1125.8 971.0,1127.2 972.0,1128.7 973.0,1133.5 974.0,1134.6 975.0,1134.7 976.0,1139.4 977.0,1139.9 978.0,1142.9 979.0,1144.1 980.0,1145.6 981.0,1148.6 982.0,1149.6 983.0,1150.0 984.0,1153.9 985.0,1155.3 986.0,1157.1 987.0,1158.7 988.0,1161.0 989.0,1163.5 990.0,1164.9 991.0,1166.1 992.0,1167.6 993.0,1168.7 994.0,1172.2 995.0,1171.2 996.0,1173.5 997.0,1175.7 998.0,1177.5 999.0,1179.2 1000.0,1180.3 1001.0,1183.5 1002.0,1184.5 1003.0,1183.9 1004.0,1186.0 1005.0,1187.3 1006.0,1190.7 1007.0,1190.9 1008.0,1191.6 1009.0,1193.9 1010.0,1194.7 1011.0,1197.1 1012.0,1198.9 1013.0,1199.1 1014.0,1201.4 1015.0,1202.9 1016.0,1203.5 1017.0,1205.8 1018.0,1206.3 1019.0,1208.6 1020.0,1209.4 1021.0,1210.5 1022.0,1213.2 1023.0,1214.2 1024.0,1214.6 1025.0,1213.9 1026.0,1217.6 1027.0,1218.3 1028.0,1220.2 1029.0,1221.2 1030.0,1222.2 1031.0,1223.4" stroke="#D55E00" stroke-width="5.3" stroke-linecap="round" stroke-linejoin="round" fill="none" stroke-dasharray="18.4 24.8"/>
</g>
</svg></body></html>
